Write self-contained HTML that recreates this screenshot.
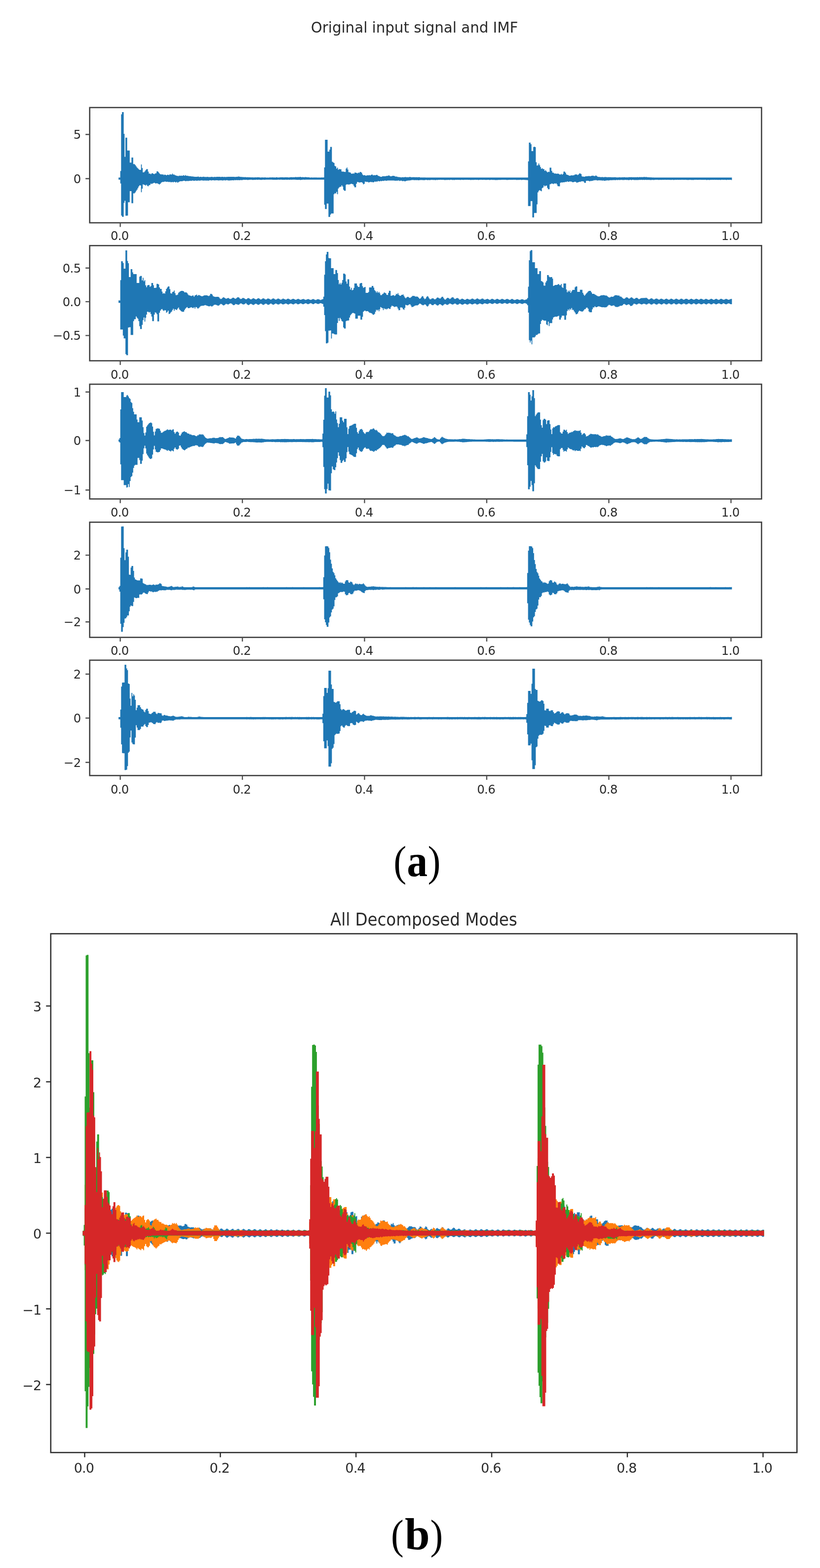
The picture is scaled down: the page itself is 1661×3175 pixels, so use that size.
<!DOCTYPE html>
<html lang="en"><head><meta charset="utf-8"><title>Original input signal and IMF</title>
<style>html,body{margin:0;padding:0;background:#fff}body{width:1661px;height:3175px;overflow:hidden}svg{display:block}</style>
</head><body>
<svg width="1661" height="3175" viewBox="0 0 1661 3175" role="img" aria-label="Original input signal and IMF; All Decomposed Modes">
<rect width="1661" height="3175" fill="#fff"/>
<g>
<g font-family="'DejaVu Sans','Liberation Sans',sans-serif" fill="#2a2a2a">
<text transform="translate(839.5,66) scale(1,1.05)" font-size="29.3" text-anchor="middle">Original input signal and IMF</text>
<clipPath id="c0"><rect x="181.7" y="217.8" width="1360.9" height="233.3"/></clipPath>
<path clip-path="url(#c0)" d="M240.1,359.4H243.6V346.2H245.3V231.6H247.1V226.9H250.6V271.1H252.3V317.4H254.1V278.8H257.6V304.8H262.8V329.2H266.3V318.9H269.8V332.2H273.3V334.2H275.1V336.7H276.8V339.2H278.6V341.1H280.3V342.8H282.1V344.1H283.8V344H285.6V333H287.3V340.3H289.1V348.9H290.8V348.8H292.6V347H294.3V344.5H296.1V342.6H299.6V347.6H301.3V351.5H304.8V352.8H306.6V351H308.3V350.8H310.1V351.9H311.8V352.5H313.6V351.2H315.3V350.8H317.1V347H320.6V349H322.3V351.2H324.1V352.9H325.8V352.8H327.6V353.4H329.3V353H331.1V354.4H332.8V353.5H334.6V354H336.3V355.1H338.1V353.7H339.8V354.1H341.6V354.4H343.3V353H345.1V353.3H346.8V353.6H348.6V351.6H350.3V353.6H352.1V353.4H353.8V354.8H355.6V355.2H357.3V355.9H359.1V356.2H360.8V356.6H362.6V355.6H364.3V355.9H366.1V355.6H367.8V355.9H369.6V355.4H371.3V354.8H373.1V355.9H374.8V354.5H376.6V356H378.3V355.7H380.1V356.2H381.8V356.4H383.6V356.8H387.1V357.2H390.6V357.4H392.3V357.7H394.1V357.9H395.8V358H397.6V357.9H399.3V357.8H401.1V357.6H402.8V358.4H404.6V357.9H406.3V358H408.1V358.4H409.8V358H411.6V357.7H413.3V358.2H416.8V358.5H418.6V357.9H420.3V358.2H422.1V358.5H425.6V358.4H427.3V358.1H429.1V358.3H430.8V358.5H432.6V358.4H434.3V358H436.1V358.4H437.8V358H439.6V357.9H441.3V358.1H443.1V357.9H444.8V358H446.6V358.5H448.3V358.1H450.1V358H451.8V358.4H453.6V357.9H455.3V358.4H457.1V358.2H458.8V358.3H460.6V358H464.1V357.9H467.6V358H469.3V358.1H471.1V357.9H474.6V358.3H478.1V357.9H481.6V357.4H485.1V358H486.8V358.3H488.6V358.2H490.3V358.6H492.1V358.5H493.8V358.7H495.6V358.5H497.3V358.8H499.1V359.1H500.8V358.8H502.6V359H504.3V358.9H506.1V359.1H507.8V359.3H509.6V358.9H511.3V359.3H513.1V359.2H516.6V359H518.3V359.2H520.1V359.1H521.8V359H525.3V359.2H527.1V359.4H528.8V359.3H532.3V359.2H534.1V359.4H535.8V359.1H537.6V359.4H546.3V359.1H548.1V359.4H549.8V359.1H551.6V359.2H553.3V359.3H555.1V359.2H556.8V359.4H558.6V359.1H560.3V359H562.1V359.4H563.8V359.3H565.6V359.2H567.3V359.1H569.1V359H570.8V359.1H572.6V358.9H574.3V359.2H576.1V358.9H579.6V359.1H581.3V359H583.1V359.2H586.6V359H588.3V358.8H590.1V358.7H591.8V359.1H593.6V358.8H595.3V359H597.1V358.6H598.8V358.5H600.6V358.8H602.3V358.6H604.1V358.4H607.6V357.9H609.3V358.7H611.1V358.8H612.8V358.5H614.6V358.9H616.3V358.7H618.1V358.6H619.8V358.8H621.6V359H625.1V359.1H626.8V359.4H630.3V359.2H632.1V359.4H635.6V359.2H637.3V359.4H639.1V359.3H640.8V359.4H651.3V359.3H653.1V359.4H654.8V359.3H656.6V338.9H658.3V283.1H663.6V307.1H667.1V303.1H668.8V297.5H672.3V327.4H674.1V328.7H675.8V329.9H677.6V335.9H679.3V336.9H681.1V341.4H682.8V339.5H684.6V343.7H686.3V342.2H688.1V342.8H689.8V342.7H691.6V347.3H693.3V347.6H695.1V347.4H696.8V347.9H698.6V348.2H700.3V341.6H702.1V339.2H703.8V343.2H705.6V348.5H707.3V349H709.1V349.6H710.8V351.6H712.6V351.9H714.3V351H716.1V351.8H717.8V349.5H719.6V349.6H721.3V350H723.1V350.9H724.8V349.5H726.6V350.2H728.3V348.3H730.1V348.2H731.8V349.7H733.6V353.3H735.3V355.1H737.1V354.6H738.8V354.9H740.6V355.9H742.3V355.1H744.1V355H745.8V354.9H747.6V354.5H749.3V355.2H751.1V354.1H752.8V353.3H754.6V354.8H756.3V354.9H758.1V354.6H759.8V354.9H761.6V354.1H763.3V354.2H765.1V356.1H766.8V356.4H768.6V357.2H770.3V357.9H773.8V357.1H775.6V356.8H777.3V356.9H779.1V356.7H782.6V355.9H784.3V356.2H786.1V355.3H787.8V355.5H789.6V356.7H791.3V356.9H793.1V356.5H794.8V356.1H798.3V356.4H800.1V357.6H801.8V357.4H803.6V357.7H805.3V358.5H807.1V358.4H808.8V358.7H810.6V359.1H812.3V359.3H814.1V358.8H815.8V358.9H819.3V358.6H822.8V358.9H824.6V358.7H826.3V358.9H828.1V358.6H829.8V358.2H831.6V358.7H833.3V358.9H835.1V358.7H836.8V358.8H840.3V359.1H842.1V358.8H843.8V359H845.6V358.9H847.3V358.8H850.8V359.4H852.6V359.3H854.3V359.4H856.1V359.2H857.8V359.4H859.6V359.2H861.3V359.4H1069.6V326.8H1071.3V288.7H1074.8V291.9H1076.6V306.1H1080.1V297.7H1081.8V297.1H1083.6V297.9H1085.3V328.4H1087.1V335.3H1088.8V334.4H1090.6V330.9H1092.3V334.4H1094.1V338.3H1095.8V341.9H1097.6V340.4H1099.3V342.2H1101.1V342.5H1102.8V346.1H1104.6V344.4H1106.3V346.9H1108.1V349.1H1109.8V347.7H1111.6V348.2H1113.3V339.6H1116.8V345.9H1118.6V349.6H1120.3V349.7H1122.1V351.6H1123.8V351H1125.6V352.1H1127.3V351.5H1129.1V351.7H1130.8V351.8H1132.6V353.3H1134.3V353.4H1136.1V352H1137.8V353.7H1139.6V352.2H1141.3V347.6H1144.8V349.7H1146.6V353.3H1148.3V353.9H1150.1V354.4H1151.8V355.6H1153.6V355.9H1155.3V355.3H1157.1V355H1158.8V355.3H1160.6V355H1162.3V354.5H1164.1V353.3H1165.8V353.2H1169.3V354.4H1171.1V353.2H1172.8V351.2H1176.3V352.4H1178.1V357.1H1179.8V357.7H1181.6V357.6H1183.3V358H1185.1V357.1H1188.6V356.7H1190.3V356.8H1192.1V356.2H1193.8V356.7H1195.6V356.8H1197.3V355.9H1199.1V355.8H1200.8V355.7H1202.6V356.6H1206.1V355.2H1207.8V356.2H1209.6V357.7H1211.3V358.2H1214.8V358.6H1216.6V358.8H1218.3V358.5H1220.1V358.4H1221.8V359H1223.6V358.4H1225.3V358.5H1227.1V358.6H1228.8V359.1H1230.6V358.7H1234.1V358.8H1235.8V358.7H1237.6V358.9H1239.3V359.1H1242.8V358.9H1244.6V358.8H1246.3V359.1H1248.1V359.3H1249.8V359.2H1253.3V359.1H1255.1V359H1256.8V359.2H1258.6V359H1260.3V359.1H1262.1V358.9H1263.8V358.8H1265.6V359H1267.3V359.2H1269.1V358.9H1270.8V359.2H1272.6V358.8H1274.3V358.7H1277.8V358.8H1279.6V358.7H1281.3V358.9H1283.1V358.7H1284.8V359H1286.6V358.8H1288.3V358.9H1290.1V358.5H1291.8V359H1293.6V358.8H1295.3V358.5H1297.1V358.8H1298.8V358.4H1300.6V358.8H1302.3V358.4H1304.1V358.2H1305.8V358.6H1307.6V358.5H1309.3V358.6H1311.1V358.9H1312.8V359H1314.6V358.9H1316.3V359.2H1318.1V359.1H1319.8V359.4H1321.6V359.2H1323.3V359.4H1482.6V364.4H1480.8V364H1477.3V364.2H1475.6V364H1472.1V364.4H1470.3V364H1468.6V363.9H1466.8V364.3H1465.1V364H1463.3V363.9H1461.6V364.1H1459.8V364.4H1458.1V364.1H1456.3V364.3H1454.6V364.2H1452.8V364H1451.1V364.3H1449.3V363.9H1445.8V364.2H1444.1V364.1H1442.3V364.3H1440.6V363.9H1438.8V364.4H1437.1V364.3H1435.3V364.2H1433.6V364.3H1431.8V364.4H1430.1V364H1428.3V364.1H1426.6V364.2H1424.8V363.9H1423.1V364.3H1421.3V363.9H1416.1V364.1H1414.3V364.3H1412.6V363.9H1409.1V364.1H1405.6V364.4H1403.8V364.3H1402.1V364.4H1400.3V364H1398.6V364.3H1396.8V364.1H1395.1V364.4H1393.3V364.3H1391.6V364.2H1389.8V364H1388.1V363.9H1386.3V364.2H1384.6V364H1382.8V364.1H1381.1V363.9H1379.3V364.2H1377.6V364H1375.8V364.3H1374.1V364.1H1372.3V364H1370.6V364.3H1368.8V363.9H1367.1V364.3H1365.3V364.4H1363.6V363.9H1361.8V364.1H1360.1V364.4H1358.3V364.1H1356.6V364.3H1354.8V363.9H1353.1V364.1H1351.3V364.3H1349.6V364.1H1347.8V363.9H1346.1V364.1H1344.3V364.3H1342.6V364.1H1340.8V364.3H1339.1V364.2H1337.3V364.1H1335.6V364.4H1333.8V364.1H1332.1V364H1330.3V364.1H1326.8V364.2H1325.1V364.4H1323.3V364.2H1321.6V364.3H1319.8V364.5H1316.3V364.3H1309.3V364.2H1307.6V364H1305.8V364.5H1304.1V364H1302.3V364.4H1300.6V364.1H1298.8V364.2H1297.1V364.3H1293.6V364.4H1291.8V364.5H1290.1V364.4H1288.3V364.5H1284.8V364.4H1283.1V364.1H1281.3V364.3H1279.6V364.7H1277.8V364.1H1276.1V364.5H1274.3V364.7H1272.6V364.5H1270.8V364.2H1269.1V364.4H1267.3V364.1H1265.6V364.6H1263.8V364.5H1262.1V364.6H1260.3V364.2H1258.6V364.3H1256.8V364.6H1253.3V364.2H1251.6V364.7H1249.8V364.2H1248.1V364.7H1246.3V364.8H1244.6V364.5H1242.8V364.8H1241.1V364.7H1239.3V365H1237.6V364.8H1235.8V364.9H1234.1V365.5H1232.3V365.3H1230.6V365.2H1228.8V365.5H1227.1V365.7H1225.3V366.2H1223.6V365.4H1221.8V365.6H1220.1V365.7H1218.3V365.1H1216.6V365.4H1214.8V365H1213.1V365.2H1211.3V365.4H1209.6V365.2H1207.8V364.6H1206.1V365.2H1204.3V364.8H1202.6V365.8H1200.8V366.1H1199.1V366.6H1197.3V366.3H1195.6V367.2H1193.8V366.6H1192.1V365.9H1188.6V366.3H1186.8V370.2H1183.3V367.8H1181.6V367H1179.8V367.2H1178.1V367.3H1176.3V368.4H1174.6V368H1172.8V368.9H1171.1V369.3H1169.3V370.2H1167.6V368.4H1165.8V368.1H1164.1V368.2H1162.3V369H1160.6V368.9H1158.8V367.7H1157.1V367.8H1155.3V367.3H1153.6V368.1H1151.8V368.2H1150.1V367.2H1148.3V368.5H1146.6V368.3H1144.8V368.8H1143.1V369.3H1141.3V369H1139.6V369.8H1137.8V369.2H1136.1V370.2H1134.3V377.2H1130.8V376.7H1129.1V373.2H1127.3V371.1H1125.6V371.9H1123.8V371.2H1122.1V372.8H1120.3V372H1118.6V371.5H1116.8V372.6H1115.1V373.2H1113.3V383.2H1109.8V380.4H1108.1V375.8H1106.3V375.9H1104.6V377.6H1102.8V375.6H1101.1V379.5H1099.3V381H1097.6V387.3H1095.8V386.2H1094.1V385.1H1092.3V386.5H1090.6V389.5H1088.8V413.8H1087.1V431.3H1081.8V440.3H1078.3V407.3H1074.8V417.3H1069.6V364.8H1067.8V364.6H1066.1V364.4H1064.3V364.3H1062.6V364.2H1060.8V364.1H1059.1V364.3H1057.3V364.4H1055.6V364H1052.1V364.4H1050.3V364H1048.6V364.4H1046.8V364.3H1045.1V363.9H1043.3V364.1H1041.6V363.9H1038.1V364.3H1036.3V364H1034.6V364.3H1032.8V364H1031.1V364.3H1027.6V364.4H1025.8V364.1H1022.3V364H1017.1V363.9H1015.3V364.2H1008.3V364.4H1001.3V363.9H999.6V364.4H997.8V364.1H996.1V363.9H994.3V364.3H992.6V364.4H990.8V364.1H989.1V363.9H987.3V364.3H985.6V364.2H982.1V363.9H980.3V364H978.6V364.3H976.8V364.1H975.1V363.9H973.3V364H971.6V364.3H969.8V364.4H968.1V364H966.3V364.2H964.6V364H962.8V363.9H961.1V364.2H955.8V364.3H954.1V364.4H952.3V363.9H950.6V364.3H948.8V364H945.3V363.9H941.8V364H940.1V364.3H936.6V364H933.1V364.4H931.3V363.9H929.6V364.3H927.8V364.1H926.1V364.3H924.3V364.1H922.6V364.2H920.8V364.4H919.1V364.2H917.3V364.4H915.6V363.9H912.1V364.2H910.3V364.4H908.6V364H906.8V364.4H905.1V364.3H903.3V364.5H901.6V364.6H899.8V364.3H898.1V364H896.3V364.3H894.6V364.1H891.1V364.3H889.3V364.1H887.6V364.5H885.8V364.3H884.1V364.6H882.3V364.7H880.6V364.3H878.8V364.5H877.1V364.2H871.8V364.8H870.1V364.6H868.3V364.5H866.6V364.8H864.8V364.2H863.1V364.3H861.3V364.8H859.6V364.7H857.8V364.8H856.1V364.4H854.3V364.5H852.6V364.4H850.8V364.7H849.1V365H845.6V364.4H843.8V365H842.1V364.5H840.3V365.1H838.6V364.6H833.3V364.9H831.6V365.2H829.8V365.4H828.1V365.5H826.3V365.8H824.6V366.1H822.8V366.7H821.1V367.2H819.3V366.4H815.8V366.7H814.1V365.7H812.3V365.8H810.6V366.4H808.8V365.6H805.3V366.1H803.6V365.8H801.8V365.9H800.1V365.7H798.3V365.6H796.6V365.5H794.8V365.4H793.1V365.5H791.3V365.6H789.6V365.5H787.8V365.6H784.3V366H782.6V365.9H780.8V365.6H779.1V365.9H777.3V366.4H775.6V366.1H773.8V367H772.1V366.2H770.3V367.3H768.6V366.9H766.8V366.6H765.1V367.8H763.3V367.6H761.6V368.1H759.8V367.4H758.1V368.9H756.3V369.3H754.6V368.4H752.8V368.7H751.1V368.2H749.3V369H747.6V369.6H745.8V368.2H744.1V368.6H742.3V368H740.6V367.8H738.8V372.3H737.1V373.2H735.3V370.6H733.6V369.1H731.8V368.9H730.1V369.4H728.3V369.6H726.6V368.8H724.8V368.5H723.1V372.1H721.3V379.2H717.8V376.5H716.1V373.3H714.3V372.8H712.6V371.9H710.8V372.8H709.1V373.6H707.3V373.4H705.6V373.8H703.8V372.9H702.1V374.2H700.3V386.3H696.8V384.3H695.1V377.8H693.3V375.3H691.6V378.1H689.8V378.2H688.1V379.5H686.3V381.8H684.6V393.3H682.8V388.6H681.1V391.7H679.3V391.2H677.6V393.3H675.8V432.3H670.6V434.6H668.8V439.3H665.3V412.3H661.8V423.3H658.3V414.4H656.6V363.8H618.1V364.1H616.3V363.8H612.8V363.9H611.1V364.3H609.3V364.4H607.6V363.9H604.1V364.3H602.3V364H600.6V364.1H598.8V363.8H591.8V364.1H590.1V363.8H588.3V364H584.8V363.8H583.1V364H579.6V363.8H577.8V363.9H570.8V363.8H567.3V364.1H565.6V363.8H562.1V363.9H560.3V364H558.6V363.9H553.3V364H551.6V363.8H537.6V364.1H534.1V363.8H532.3V363.9H530.6V364.2H527.1V364H525.3V363.8H523.6V363.9H521.8V364H520.1V363.8H518.3V364.2H516.6V364H514.8V364.3H511.3V364.2H509.6V363.8H507.8V363.9H504.3V364.2H502.6V364.4H500.8V364.1H497.3V364.3H495.6V364.1H492.1V364.5H490.3V364.8H488.6V364.4H486.8V364.7H485.1V365H483.3V364.5H481.6V365H479.8V364.6H478.1V365.1H476.3V364.6H474.6V365.3H472.8V364.9H471.1V365H469.3V365.2H467.6V365.3H465.8V365.5H464.1V365.4H462.3V365.3H460.6V364.8H458.8V364.9H457.1V365.4H455.3V364.8H453.6V365.2H451.8V365.5H450.1V365.3H448.3V364.9H446.6V365.2H443.1V365.5H441.3V364.9H439.6V365H437.8V364.9H436.1V365.5H434.3V364.9H432.6V365.1H430.8V364.9H429.1V365.4H427.3V365H423.8V365.7H422.1V365.8H420.3V365.4H418.6V365.7H416.8V365.6H413.3V365.8H411.6V365.6H409.8V365.3H406.3V365.7H402.8V365.5H401.1V365.8H399.3V366.3H397.6V365.4H395.8V365.7H394.1V366.2H392.3V365.8H390.6V365.6H388.8V366.3H387.1V366.1H385.3V366H383.6V366.4H381.8V366.6H380.1V366.5H378.3V366.4H376.6V366.9H374.8V365.9H371.3V366.5H369.6V367.1H367.8V366.9H366.1V367H364.3V367.8H362.6V368.8H360.8V369.9H359.1V368.3H357.3V369.5H355.6V368.8H353.8V368.1H352.1V369.2H350.3V368.6H348.6V368.8H346.8V369.3H345.1V368H343.3V369.1H341.6V368.1H339.8V367.9H338.1V368.2H336.3V367.7H334.6V367.4H332.8V368.6H331.1V368.3H329.3V368.8H327.6V369.8H325.8V372H324.1V373.4H322.3V372.8H320.6V371.8H318.8V371H317.1V371.5H315.3V371.2H313.6V370.1H311.8V370.8H310.1V371.5H308.3V372.4H306.6V371.8H304.8V374.4H303.1V375.1H301.3V377.3H299.6V376.5H297.8V374H296.1V375.8H294.3V374.4H292.6V374.2H290.8V373.2H289.1V382H287.3V389.3H285.6V375.4H283.8V375.2H282.1V377.6H280.3V380.8H278.6V383.9H276.8V386.6H275.1V389.4H273.3V391.6H269.8V411.6H266.3V387.1H262.8V409.4H259.3V436.4H257.6V436.8H254.1V406.4H252.3V410.7H250.6V439H247.1V436.4H245.3V371.5H243.6V363.8H240.1Z" fill="#1f77b4"/>
<rect x="181.7" y="217.8" width="1360.9" height="233.3" fill="none" stroke="#404040" stroke-width="2.60"/>
<text x="242.3" y="485.7" font-size="24.4" text-anchor="middle" letter-spacing="-0.65">0.0</text>
<text x="489.8" y="485.7" font-size="24.4" text-anchor="middle" letter-spacing="-0.65">0.2</text>
<text x="737.2" y="485.7" font-size="24.4" text-anchor="middle" letter-spacing="-0.65">0.4</text>
<text x="984.6" y="485.7" font-size="24.4" text-anchor="middle" letter-spacing="-0.65">0.6</text>
<text x="1232.1" y="485.7" font-size="24.4" text-anchor="middle" letter-spacing="-0.65">0.8</text>
<text x="1479.5" y="485.7" font-size="24.4" text-anchor="middle" letter-spacing="-0.65">1.0</text>
<text x="163.5" y="281.3" font-size="24.4" text-anchor="end" letter-spacing="-0.65">5</text>
<text x="163.5" y="370.8" font-size="24.4" text-anchor="end" letter-spacing="-0.65">0</text>
<path d="M243.6,451.1v8.5M491.0,451.1v8.5M738.4,451.1v8.5M985.9,451.1v8.5M1233.3,451.1v8.5M1480.7,451.1v8.5M181.7,272.3h-8.5M181.7,361.8h-8.5" stroke="#505050" stroke-width="2.40" fill="none"/>
<clipPath id="c1"><rect x="181.7" y="497.3" width="1360.9" height="233.2"/></clipPath>
<path clip-path="url(#c1)" d="M240.1,608.3H241.8V608.4H243.6V567.3H245.3V529.1H248.8V532.6H250.6V544.1H254.1V507H257.6V528.5H259.3V533.1H261.1V561.1H264.6V545.1H268.1V551.6H269.8V555.1H276.8V573.1H282.1V560.3H283.8V558.7H287.3V567.8H289.1V562.5H290.8V569.5H292.6V567.3H294.3V577.8H296.1V581.4H297.8V577.9H299.6V577.1H301.3V577.3H303.1V580.8H304.8V579.3H306.6V573.1H310.1V577.4H311.8V583.1H315.3V582.4H317.1V574.7H320.6V575.9H322.3V581.9H324.1V585.1H327.6V590.4H329.3V594.6H331.1V593.5H332.8V594.4H334.6V590H336.3V585.1H338.1V582.3H339.8V580.1H343.3V585.5H345.1V593.8H346.8V594.6H348.6V591.3H350.3V590.7H352.1V588.2H353.8V593.5H355.6V597.4H357.3V597.6H359.1V596.4H360.8V592.7H362.6V591.3H364.3V589.9H366.1V589.1H371.3V590.1H373.1V591.9H374.8V592.1H378.3V593.6H380.1V596.3H381.8V598.1H383.6V598.2H385.3V599H387.1V599.5H388.8V598.5H390.6V598.2H392.3V600.8H394.1V598.2H395.8V597.4H397.6V596.5H399.3V599H401.1V597.5H404.6V598.4H406.3V599.3H408.1V599.9H409.8V599.5H411.6V598.7H413.3V598H415.1V597.9H420.3V599.1H422.1V599.4H423.8V598.3H425.6V595.1H429.1V596.5H430.8V599.5H432.6V600.6H434.3V600.9H436.1V601.3H437.8V600.9H441.3V601.1H443.1V602.2H444.8V604.5H446.6V605.4H448.3V604.7H450.1V603H451.8V601.7H453.6V602.7H455.3V603.8H457.1V604.9H458.8V604.3H460.6V603.5H462.3V603.4H464.1V605H465.8V605.6H467.6V605H469.3V603.5H471.1V602.7H472.8V603.1H474.6V604.6H476.3V604.9H478.1V603.7H479.8V602.2H481.6V601.8H483.3V602.4H485.1V604.4H486.8V605.5H488.6V605.1H490.3V603.6H492.1V603.3H493.8V604H495.6V605.3H497.3V606.1H499.1V605.5H500.8V604.1H502.6V603.5H504.3V604.5H506.1V605.8H507.8V606.3H509.6V605.3H511.3V604.2H513.1V603.8H514.8V605.1H516.6V606.1H518.3V606.2H520.1V605H521.8V604H525.3V605.3H527.1V606.4H528.8V605.9H530.6V604.8H532.3V604H534.1V604.6H535.8V605.7H537.6V606.6H539.3V605.8H541.1V604.5H542.8V604.4H544.6V605H546.3V606.2H548.1V606.7H549.8V605.6H551.6V604.5H553.3V604.3H555.1V605.3H556.8V606.6H558.6V606.5H560.3V605.6H562.1V604.6H563.8V604.8H565.6V605.8H567.3V606.8H569.1V606.4H570.8V605.4H572.6V604.6H574.3V605.2H576.1V606.1H577.8V606.8H579.6V606.3H581.3V605.1H583.1V604.7H584.8V605.6H586.6V606.6H588.3V606.9H590.1V606.1H591.8V605.2H593.6V604.9H595.3V605.7H597.1V606.8H598.8V606.9H600.6V605.9H602.3V605.3H605.8V606.3H607.6V607.1H609.3V606.8H611.1V605.9H612.8V605.4H614.6V605.6H616.3V606.6H618.1V607.2H619.8V606.7H621.6V605.9H623.3V605.4H625.1V606H626.8V606.9H628.6V607.3H630.3V606.7H632.1V605.7H633.8V605.4H635.6V606.3H637.3V607.3H639.1V607.4H640.8V606.6H642.6V605.8H644.3V605.9H646.1V606.5H647.8V607.5H649.6V607.2H651.3V606.3H653.1V605.8H654.8V600.7H656.6V556.2H658.3V529.1H660.1V515.3H661.8V510H665.3V522.6H667.1V523H670.6V543.1H675.8V555.1H679.3V546.7H682.8V553.1H684.6V567.1H686.3V575.5H688.1V572.8H689.8V575.9H691.6V572.7H693.3V567.1H695.1V554.1H698.6V555.7H700.3V570H702.1V574.5H703.8V565.5H705.6V565.4H707.3V580.3H709.1V586.6H710.8V582.7H712.6V587.8H714.3V586.7H716.1V583H717.8V574.1H723.1V578.5H724.8V581.1H728.3V574.2H730.1V573.1H733.6V579.5H735.3V582.7H737.1V581.7H738.8V581.1H740.6V593.1H745.8V591.3H747.6V582.1H752.8V579.1H756.3V582.4H758.1V587.4H759.8V589.5H761.6V592.5H763.3V590.1H765.1V593H766.8V590.9H768.6V593.8H770.3V597.5H772.1V597.4H773.8V595.5H775.6V594.6H777.3V592.2H779.1V592.7H780.8V593.9H782.6V597H784.3V597.3H786.1V593.1H787.8V588.7H789.6V589H791.3V599H793.1V598.4H794.8V597.7H796.6V597.6H798.3V599.2H800.1V598H801.8V594.9H803.6V596H805.3V593.5H807.1V597H808.8V598.8H810.6V599H812.3V597.3H814.1V596.9H815.8V596.3H817.6V599.3H819.3V602.2H821.1V603.9H822.8V602.3H824.6V601H826.3V601.3H828.1V602.8H829.8V603.3H831.6V601.9H833.3V600.4H835.1V599H836.8V599.3H838.6V599.2H840.3V600.4H842.1V600.5H845.6V600.9H847.3V603H849.1V605H850.8V604.2H852.6V602H854.3V599.6H856.1V600.2H857.8V603.4H859.6V605.8H861.3V604.6H863.1V601.6H864.8V599.5H866.6V600.7H868.3V603.7H870.1V606H873.6V604.5H875.3V604H877.1V604.3H878.8V605.8H880.6V606.2H882.3V604.9H884.1V603H885.8V602.3H887.6V603.3H889.3V604.2H891.1V604.4H892.8V602.4H894.6V600.8H896.3V601.3H898.1V603.9H899.8V606.2H901.6V606.7H903.3V604.8H905.1V603.3H906.8V603H908.6V604.3H910.3V605.4H912.1V604.5H913.8V602.7H915.6V601.8H917.3V602.3H919.1V604.4H920.8V605.4H922.6V604.7H924.3V603.6H927.8V604.6H929.6V606.4H931.3V606.7H933.1V605.7H934.8V604.8H936.6V604.9H938.3V606H940.1V607.1H941.8V606.9H943.6V605.8H945.3V605.1H947.1V605.3H948.8V606.2H950.6V606.8H952.3V606.3H954.1V605.3H955.8V604.5H957.6V605.1H959.3V606.2H961.1V606.8H962.8V606.1H964.6V604.8H966.3V604.3H968.1V605.3H969.8V606.2H971.6V606.6H973.3V605.7H975.1V604.8H976.8V604.5H978.6V605.6H980.3V606.7H982.1V606.8H983.8V605.9H985.6V605.2H987.3V605.3H989.1V606.3H990.8V607.2H992.6V606.7H994.3V605.6H996.1V605H997.8V605.4H999.6V606.5H1001.3V607.3H1003.1V606.5H1004.8V605.4H1006.6V605.1H1008.3V605.7H1010.1V606.7H1011.8V607H1013.6V606.3H1015.3V605.3H1018.8V605.9H1020.6V607H1022.3V607.1H1024.1V606H1025.8V605.3H1027.6V605.5H1029.3V606.3H1031.1V607.2H1032.8V606.9H1034.6V605.7H1036.3V605.2H1038.1V605.8H1039.8V606.9H1041.6V607.6H1043.3V607H1045.1V606.2H1046.8V605.8H1048.6V606.3H1050.3V607.1H1052.1V607.5H1053.8V606.8H1055.6V606H1059.1V606.5H1060.8V607.4H1062.6V607.3H1064.3V606.6H1066.1V606H1067.8V603.4H1069.6V580.5H1071.3V527H1073.1V508.5H1074.8V506.6H1078.3V531.1H1083.6V543.1H1088.8V555.1H1092.3V549.1H1095.8V569.1H1097.6V570H1099.3V571.8H1101.1V578.2H1102.8V578.5H1104.6V572.1H1106.3V568.7H1108.1V557.1H1111.6V560.3H1113.3V561.5H1115.1V561.1H1118.6V564.2H1120.3V579.1H1122.1V577.9H1123.8V577.1H1129.1V575.9H1130.8V575.1H1132.6V577.3H1134.3V577.6H1136.1V575.1H1137.8V581.4H1139.6V583.1H1141.3V574.1H1146.6V586.2H1148.3V591.7H1150.1V588.4H1151.8V590.7H1153.6V588.1H1155.3V593H1157.1V590.1H1158.8V587.2H1160.6V587.1H1164.1V581.7H1165.8V580.1H1169.3V591.1H1174.6V586.7H1179.8V593H1181.6V596.4H1183.3V598.8H1185.1V596.4H1186.8V594.2H1188.6V592.6H1190.3V590.4H1192.1V589.1H1197.3V592.1H1199.1V595.1H1204.3V596.6H1206.1V597.2H1207.8V598.4H1209.6V599.6H1211.3V600H1213.1V600.1H1214.8V599H1216.6V597.9H1218.3V598H1220.1V597.7H1221.8V597.6H1223.6V597.8H1225.3V598.5H1227.1V598.3H1228.8V599.2H1230.6V600.7H1232.3V602.1H1234.1V602.4H1235.8V601.6H1237.6V600.4H1239.3V600.9H1241.1V600.7H1242.8V599.6H1244.6V598.1H1246.3V597.7H1248.1V597.8H1249.8V598.3H1251.6V598.4H1253.3V598.5H1255.1V600.4H1256.8V600.5H1258.6V601.7H1260.3V603.5H1262.1V604.7H1263.8V605.1H1265.6V603.7H1267.3V602.2H1269.1V602H1270.8V602.7H1272.6V604.6H1274.3V604.5H1276.1V603.3H1277.8V602.1H1279.6V602.5H1281.3V604H1283.1V605.2H1284.8V605H1286.6V603.6H1288.3V603H1290.1V603.3H1291.8V604.8H1293.6V606.1H1295.3V605.1H1297.1V603.9H1298.8V603.4H1302.3V603.5H1304.1V603.3H1305.8V603.4H1307.6V602.7H1309.3V603.5H1311.1V604.8H1312.8V606.2H1316.3V605H1318.1V603.9H1319.8V604.3H1321.6V605.5H1323.3V606.5H1325.1V606.2H1326.8V604.9H1328.6V604.5H1330.3V604.7H1332.1V606H1333.8V606.8H1335.6V606.3H1337.3V605H1339.1V604.8H1340.8V605.4H1342.6V606.3H1344.3V606.9H1346.1V606.1H1347.8V605H1349.6V604.7H1351.3V605.8H1353.1V606.7H1354.8V606.8H1356.6V605.7H1358.3V604.7H1360.1V604.9H1361.8V605.9H1363.6V606.9H1365.3V606.5H1367.1V605.6H1368.8V604.7H1370.6V605.3H1372.3V606.2H1374.1V607H1375.8V606.4H1377.6V605.3H1379.3V604.7H1381.1V605.3H1382.8V606.4H1384.6V607H1386.3V606.1H1388.1V605.1H1389.8V605H1391.6V605.5H1393.3V606.8H1395.1V607H1396.8V605.9H1398.6V605.1H1400.3V604.9H1402.1V606H1403.8V606.8H1405.6V606.7H1407.3V605.8H1409.1V605H1410.8V605.2H1412.6V606.1H1414.3V607H1416.1V606.6H1417.8V605.3H1419.6V605H1421.3V605.6H1423.1V606.4H1424.8V607H1426.6V606.3H1428.3V605.2H1431.8V605.9H1433.6V606.9H1437.1V606.2H1438.8V605.2H1440.6V605.1H1442.3V606.1H1444.1V607H1445.8V606.9H1447.6V605.7H1449.3V605.2H1452.8V606.4H1454.6V607.2H1456.3V606.8H1458.1V605.5H1459.8V605.1H1461.6V605.5H1463.3V606.6H1465.1V607H1466.8V606.5H1468.6V605.5H1470.3V605.2H1472.1V605.7H1473.8V606.7H1475.6V607H1477.3V606.3H1479.1V605.4H1480.8V605.3H1482.6V616H1480.8V616.1H1479.1V615H1477.3V614.3H1475.6V614.4H1473.8V615.5H1472.1V616.2H1470.3V616.1H1468.6V614.9H1466.8V614.1H1465.1V614.6H1463.3V615.9H1461.6V616.1H1459.8V615.6H1458.1V614.6H1456.3V614.3H1454.6V614.9H1452.8V615.9H1451.1V616.3H1449.3V615.5H1447.6V614.4H1445.8V614.2H1444.1V615.4H1442.3V616.2H1438.8V615.1H1437.1V614.2H1435.3V614.4H1433.6V615.6H1431.8V616.5H1430.1V616H1428.3V615H1426.6V614.3H1424.8V614.9H1423.1V615.9H1421.3V616.3H1419.6V615.7H1417.8V614.8H1416.1V614.3H1414.3V614.9H1412.6V616H1410.8V616.6H1409.1V615.8H1407.3V614.6H1405.6V614.3H1403.8V615.5H1402.1V616.2H1400.3V616.3H1398.6V615.3H1396.8V614.3H1395.1V614.5H1393.3V615.8H1391.6V616.3H1389.8V616.4H1388.1V615H1386.3V614.4H1384.6V614.8H1382.8V616.1H1381.1V616.6H1379.3V615.9H1377.6V615H1375.8V614.4H1374.1V615.2H1372.3V616.2H1370.6V616.6H1368.8V615.9H1367.1V614.6H1365.3V614.3H1363.6V615.4H1361.8V616.3H1360.1V616.4H1358.3V615.6H1356.6V614.4H1354.8V614.6H1353.1V615.8H1351.3V616.5H1349.6V616.3H1347.8V615.3H1346.1V614.3H1344.3V614.8H1342.6V616H1340.8V616.8H1339.1V616.1H1337.3V615H1335.6V614.5H1333.8V615.2H1332.1V616.4H1330.3V616.8H1328.6V615.9H1326.8V614.8H1325.1V614.4H1323.3V615.4H1321.6V616.6H1319.8V616.7H1318.1V615.7H1316.3V614.6H1314.6V614.5H1312.8V615.6H1311.1V616.6H1309.3V616.4H1307.6V615.4H1305.8V614.9H1304.1V615H1302.3V616H1300.6V616.5H1298.8V616.1H1297.1V615.1H1295.3V614.4H1293.6V615.1H1291.8V616.2H1290.1V616.7H1288.3V616.1H1286.6V615.1H1284.8V615H1283.1V616.9H1281.3V619H1279.6V619.5H1277.8V619.4H1276.1V617.3H1274.3V615.9H1272.6V616.8H1270.8V617.7H1267.3V616.6H1265.6V615.6H1263.8V616.1H1262.1V618H1260.3V619.1H1258.6V619.3H1255.1V620.6H1253.3V620.9H1251.6V621.7H1249.8V621.6H1248.1V621.5H1246.3V620.2H1244.6V618.5H1242.8V618.4H1241.1V619.3H1239.3V619.5H1237.6V618.5H1235.8V617.6H1234.1V617.5H1232.3V619.1H1230.6V620.9H1228.8V622.2H1225.3V622.6H1223.6V622.1H1221.8V622.2H1220.1V622.1H1218.3V621.7H1216.6V621H1214.8V620.5H1213.1V620.2H1211.3V621.1H1209.6V621.9H1207.8V622.1H1206.1V620.2H1204.3V622.6H1202.6V622.4H1200.8V626.2H1199.1V632.2H1193.8V630.6H1192.1V624.9H1190.3V622.7H1188.6V623.3H1186.8V625.8H1185.1V626.2H1183.3V628.4H1181.6V630.6H1179.8V631.1H1178.1V630.4H1176.3V629.9H1174.6V629H1172.8V631.2H1171.1V634.7H1169.3V636.2H1165.8V633.1H1164.1V630.6H1162.3V627.4H1160.6V627.6H1158.8V623.8H1157.1V627.2H1155.3V625.3H1153.6V628.8H1151.8V626.6H1150.1V629.8H1148.3V638.4H1146.6V647.6H1143.1V639.2H1137.8V643.1H1136.1V647.2H1132.6V639.4H1130.8V640.3H1129.1V641.2H1123.8V641.8H1122.1V642.7H1120.3V646.8H1118.6V654.2H1113.3V660.2H1111.6V651.3H1109.8V658.6H1108.1V656.9H1106.3V649.2H1101.1V648.3H1099.3V647.4H1097.6V650H1095.8V655.9H1094.1V675.3H1090.6V676.4H1088.8V678.3H1085.3V681.3H1083.6V683.3H1078.3V697.3H1076.6V689.8H1074.8V693.6H1073.1V688.8H1071.3V633.1H1069.6V618.1H1067.8V615.5H1066.1V614.6H1064.3V613.8H1062.6V613.9H1060.8V614.7H1059.1V615.5H1057.3V615.3H1055.6V614.4H1053.8V613.8H1052.1V614.1H1050.3V615H1048.6V615.7H1046.8V615.2H1045.1V614.2H1043.3V613.7H1041.6V614.4H1039.8V615.1H1038.1V615.3H1036.3V614.7H1034.6V613.8H1032.8V613.5H1031.1V614.3H1029.3V615.2H1025.8V614.5H1024.1V613.6H1022.3V613.7H1020.6V614.5H1018.8V615.2H1017.1V615.1H1015.3V614.4H1013.6V613.6H1011.8V614H1010.1V614.8H1008.3V615.5H1006.6V615.2H1004.8V614.2H1003.1V613.6H1001.3V614.3H999.6V615.2H997.8V615.6H996.1V615H994.3V614H992.6V613.7H990.8V614.5H989.1V615.4H987.3V615.6H985.6V615H983.8V614.2H982.1V614.3H980.3V615.3H978.6V616.2H976.8V616.1H975.1V615.2H973.3V614.4H971.6V614.8H969.8V616H968.1V616.5H966.3V616.4H964.6V615.1H962.8V614.4H961.1V615.1H959.3V616.1H957.6V616.6H955.8V616.1H954.1V615H952.3V614.4H950.6V615.4H948.8V616.4H947.1V616.7H945.3V616.1H943.6V614.9H940.1V615.9H938.3V617H936.6V616.8H934.8V616.1H933.1V614.8H931.3V615.1H929.6V616.5H927.8V617.1H926.1V616.7H924.3V615.6H922.6V614.6H920.8V615.2H919.1V616.3H917.3V616.7H915.6V616.1H913.8V615H912.1V614.5H910.3V615.4H908.6V616.8H906.8V617.5H905.1V616.7H903.3V615.6H901.6V615.7H899.8V617.1H898.1V618.7H896.3V618.5H894.6V617.3H892.8V616.1H889.3V617.8H887.6V618.7H885.8V618.2H884.1V616.7H882.3V615.6H880.6V616.1H878.8V617.7H877.1V617.9H875.3V617.4H873.6V615.8H871.8V615H870.1V616.5H868.3V619.4H866.6V620.7H864.8V619.2H863.1V617H861.3V616.2H859.6V617.4H857.8V618.2H856.1V617.5H854.3V616.6H852.6V615.1H850.8V614.8H849.1V616.6H847.3V618H845.6V618.4H843.8V618.3H842.1V618.7H840.3V619.4H838.6V620.8H836.8V621.5H835.1V621.7H833.3V618.7H831.6V616.2H829.8V616.3H828.1V617.7H826.3V618.6H824.6V618H822.8V617.2H821.1V623.6H819.3V627.6H817.6V626H815.8V623.2H814.1V622.6H812.3V622.5H810.6V628H808.8V628.2H807.1V624.8H805.3V621.5H803.6V620.6H801.8V621.1H800.1V621.8H798.3V620.6H796.6V619.8H794.8V619H793.1V621.6H791.3V625.4H789.6V625.5H787.8V624H786.1V625.1H784.3V626.7H782.6V625.2H780.8V626.2H779.1V624.3H777.3V628.1H775.6V624.1H773.8V623H772.1V621.7H770.3V626.2H768.6V630.3H766.8V627H765.1V628.7H763.3V627.2H761.6V631.2H759.8V635.5H758.1V637.2H754.6V635.2H752.8V633.9H751.1V633.6H749.3V633.2H747.6V631.5H745.8V630H742.3V630.6H740.6V629H738.8V629.5H737.1V631.2H735.3V641.4H733.6V647.2H730.1V639.2H724.8V645.2H719.6V635H717.8V634.3H716.1V633.6H714.3V634.2H712.6V636.3H710.8V638.4H709.1V642.9H707.3V648.7H705.6V649.2H702.1V650.2H700.3V665.3H696.8V662.9H695.1V651.2H693.3V649.9H691.6V646.6H689.8V643.8H688.1V649.8H686.3V644.1H684.6V653.9H682.8V677.3H677.6V676.2H675.8V675.3H672.3V685.6H670.6V669.1H668.8V669.5H667.1V669.4H665.3V693.8H663.6V695.3H660.1V670.6H658.3V637.9H656.6V620.9H654.8V615.5H653.1V614.9H651.3V614.1H649.6V614H647.8V614.7H646.1V615.6H642.6V614.7H640.8V613.9H639.1V614.1H637.3V615.2H635.6V615.9H633.8V615.6H632.1V614.6H630.3V613.8H628.6V614.5H626.8V615.3H625.1V615.9H623.3V615.6H621.6V614.6H619.8V614.1H618.1V614.7H616.3V615.7H614.6V616.1H612.8V615.5H611.1V614.5H609.3V614.2H607.6V615.2H605.8V616.1H604.1V616.2H602.3V615.3H600.6V614.3H598.8V614.4H597.1V615.6H595.3V616.4H593.6V616.1H591.8V615.2H590.1V614.4H588.3V614.9H586.6V615.8H584.8V616.7H583.1V616.1H581.3V615.1H579.6V614.4H577.8V615.2H576.1V616.1H574.3V616.6H572.6V616.1H570.8V614.7H569.1V614.6H567.3V615.6H565.6V616.5H563.8V616.6H562.1V615.7H560.3V614.8H556.8V616.1H555.1V617H553.3V616.8H551.6V615.7H549.8V614.6H548.1V615.2H546.3V616.5H544.6V617.2H542.8V616.7H541.1V615.5H539.3V614.7H537.6V615.4H535.8V616.8H534.1V617.4H532.3V616.6H530.6V615.3H528.8V614.8H527.1V615.8H525.3V617H523.6V617.3H521.8V616.3H520.1V615.2H518.3V615.1H516.6V616.3H514.8V617.4H513.1V617.3H511.3V616.3H509.6V615.2H507.8V615.5H506.1V616.8H504.3V617.9H502.6V617.1H500.8V615.7H499.1V613.8H497.3V614.9H495.6V616.3H493.8V616.5H492.1V615.9H490.3V614.8H488.6V614.3H486.8V615.2H485.1V616.8H483.3V617.2H481.6V616.6H479.8V616H478.1V615.6H476.3V617.2H474.6V618.1H472.8V617.5H471.1V615.7H469.3V614.5H467.6V614.3H465.8V615.1H464.1V616.2H462.3V616.6H460.6V615.7H458.8V615.2H457.1V616.6H455.3V617.9H453.6V618.4H451.8V617.4H450.1V615.9H448.3V615.2H446.6V616.6H444.8V618.2H443.1V618.9H441.3V618.4H439.6V617.7H437.8V617H436.1V617.1H434.3V617.6H432.6V618.9H430.8V620.5H429.1V620.6H427.3V619.3H425.6V620.3H423.8V620.2H422.1V619.7H420.3V618.9H418.6V618.5H416.8V617.8H415.1V618.2H413.3V618.9H411.6V619.1H409.8V619.3H408.1V619.5H406.3V620.7H404.6V622.7H402.8V624.5H401.1V624.4H399.3V622.3H397.6V621.8H395.8V625.1H394.1V622H392.3V624H390.6V623.3H388.8V622.3H387.1V622.4H385.3V623.4H383.6V624H381.8V624.1H380.1V621.8H378.3V623.1H376.6V625.1H374.8V627.7H373.1V631.2H367.8V630H366.1V628.2H364.3V626.5H362.6V622.7H360.8V625.1H359.1V627.7H357.3V627H355.6V626H353.8V629.2H352.1V625.2H350.3V627.9H348.6V631H346.8V632.7H345.1V634.9H343.3V635.9H341.6V629H339.8V631.7H338.1V633.2H336.3V628.5H334.6V628.1H332.8V629.7H331.1V628.2H329.3V625.7H327.6V626.5H325.8V629H324.1V633.2H322.3V650.8H318.8V636.2H317.1V633.5H315.3V632.6H313.6V637.1H311.8V650.2H308.3V641.1H306.6V635.8H304.8V631.8H303.1V632.7H301.3V631.4H299.6V631.3H297.8V637.1H296.1V643.4H294.3V651.3H292.6V642.8H290.8V648.2H289.1V657.7H287.3V666.3H283.8V660.4H282.1V650.2H280.3V645.4H278.6V643.5H276.8V640.7H275.1V646.2H273.3V646.6H271.6V650.2H269.8V678.3H264.6V662.5H262.8V662.8H261.1V663.2H259.3V719.3H255.8V716.9H254.1V685.3H250.6V679.6H248.8V667.3H243.6V613.2H241.8V613.3H240.1Z" fill="#1f77b4"/>
<rect x="181.7" y="497.3" width="1360.9" height="233.2" fill="none" stroke="#404040" stroke-width="2.60"/>
<text x="242.3" y="766.9" font-size="24.4" text-anchor="middle" letter-spacing="-0.65">0.0</text>
<text x="489.8" y="766.9" font-size="24.4" text-anchor="middle" letter-spacing="-0.65">0.2</text>
<text x="737.2" y="766.9" font-size="24.4" text-anchor="middle" letter-spacing="-0.65">0.4</text>
<text x="984.6" y="766.9" font-size="24.4" text-anchor="middle" letter-spacing="-0.65">0.6</text>
<text x="1232.1" y="766.9" font-size="24.4" text-anchor="middle" letter-spacing="-0.65">0.8</text>
<text x="1479.5" y="766.9" font-size="24.4" text-anchor="middle" letter-spacing="-0.65">1.0</text>
<text x="163.5" y="551.8" font-size="24.4" text-anchor="end" letter-spacing="-0.65">0.5</text>
<text x="163.5" y="619.9" font-size="24.4" text-anchor="end" letter-spacing="-0.65">0.0</text>
<text x="163.5" y="688.4" font-size="24.4" text-anchor="end" letter-spacing="-0.65">−0.5</text>
<path d="M243.6,730.5v8.5M491.0,730.5v8.5M738.4,730.5v8.5M985.9,730.5v8.5M1233.3,730.5v8.5M1480.7,730.5v8.5M181.7,542.8h-8.5M181.7,610.9h-8.5M181.7,679.4h-8.5" stroke="#505050" stroke-width="2.40" fill="none"/>
<clipPath id="c2"><rect x="181.7" y="778.0" width="1360.9" height="232.3"/></clipPath>
<path clip-path="url(#c2)" d="M240.1,889.9H241.8V887H243.6V828.9H245.3V794H250.6V804H255.8V800.7H257.6V799.7H259.3V802.8H261.1V806H262.8V807.7H264.6V814H266.3V816H268.1V826.5H269.8V833.7H271.6V839.1H276.8V849.4H278.6V855.1H282.1V845.1H287.3V851.5H289.1V865H290.8V876.7H292.6V881.9H294.3V875.7H296.1V864H297.8V861.2H299.6V859.1H301.3V857H303.1V855.9H304.8V855.5H306.6V856.7H308.3V863.7H310.1V874.2H311.8V881.5H313.6V873.8H315.3V868.6H317.1V867.7H318.8V867.3H320.6V867.7H322.3V868.3H324.1V872.3H325.8V876.2H329.3V874.8H331.1V873.6H332.8V872.6H334.6V872.1H336.3V870.8H338.1V869.3H339.8V870.6H343.3V870.1H345.1V870H346.8V871.5H348.6V869.7H350.3V869.3H352.1V875.1H353.8V878.3H355.6V875.4H357.3V874.1H360.8V875.9H362.6V881.7H364.3V882.3H366.1V879.2H367.8V876H369.6V874.6H371.3V873.9H373.1V873.2H374.8V875.1H376.6V875H378.3V877H380.1V877.9H383.6V879.8H385.3V879.6H387.1V880.4H388.8V881.2H390.6V881.3H392.3V881.1H394.1V882H395.8V882.9H397.6V883.3H399.3V881.6H401.1V881.2H402.8V879.2H404.6V880H406.3V879.2H408.1V880.3H409.8V879.2H411.6V881H413.3V883.6H415.1V885.7H416.8V887H418.6V888.1H420.3V888.2H422.1V887.8H423.8V887.5H425.6V887.3H427.3V887.5H429.1V886.8H430.8V886.5H432.6V886.2H434.3V886.7H436.1V887.2H437.8V887.1H439.6V886.9H441.3V886.4H443.1V885.7H444.8V884.8H446.6V885.5H448.3V885.1H451.8V886.3H453.6V887.7H455.3V889.1H457.1V888.5H458.8V888.1H460.6V887H462.3V886.5H464.1V885.3H465.8V885.8H467.6V886H469.3V885.8H471.1V886.2H472.8V886.3H474.6V887.2H476.3V888.1H478.1V885H479.8V882.2H485.1V884.1H486.8V886.2H488.6V888.2H490.3V888.7H492.1V889.1H493.8V889.4H497.3V889H499.1V889.1H500.8V889.3H502.6V889.2H504.3V889.1H506.1V888.9H507.8V889H509.6V888.9H511.3V888.7H513.1V888.6H514.8V888.8H516.6V888.4H518.3V888.2H520.1V888.4H523.6V888.2H525.3V888.4H527.1V888.5H528.8V888.2H530.6V888.6H532.3V888.7H534.1V888.9H535.8V889.2H537.6V889.5H539.3V889.6H544.6V889.7H548.1V889.6H549.8V889.5H551.6V889.3H553.3V889.5H556.8V889.4H558.6V889.2H560.3V889.3H562.1V889.1H563.8V889.3H565.6V889.2H567.3V889.3H569.1V889H570.8V889.1H574.3V888.9H576.1V888.8H577.8V889.1H579.6V889H583.1V889.1H584.8V889.2H586.6V889.3H588.3V889.2H590.1V889.3H593.6V889.1H597.1V889.4H598.8V889.2H602.3V889.3H605.8V889.2H607.6V889.1H611.1V889.2H612.8V889H614.6V889.2H619.8V889H630.3V888.9H632.1V888.8H633.8V889.1H635.6V889.2H637.3V889H639.1V889.3H640.8V889.2H642.6V889.4H644.3V889.3H646.1V889.6H647.8V889.4H649.6V889.7H651.3V889.6H653.1V877.9H654.8V849.9H656.6V801.3H658.3V786H661.8V805H665.3V793H668.8V800.4H670.6V828.7H672.3V834H674.1V833.1H675.8V834.2H677.6V837.8H679.3V833.1H681.1V849.5H682.8V856.8H684.6V865.1H686.3V857.9H688.1V845.1H693.3V851.7H695.1V855.1H696.8V848.1H702.1V865.2H703.8V879.1H705.6V868.3H707.3V862.8H709.1V862.1H710.8V861.4H712.6V860.4H714.3V859.4H716.1V858.3H717.8V858.1H721.3V866.3H723.1V874.9H724.8V878H726.6V872.8H728.3V869.8H730.1V869.1H731.8V868.4H733.6V870.7H735.3V874.8H737.1V877.3H738.8V878.6H740.6V875.6H742.3V874.4H744.1V874.8H745.8V874.6H747.6V872H749.3V869.4H751.1V869.2H752.8V869.3H754.6V867.8H756.3V867.6H758.1V869.7H759.8V871.2H761.6V870.2H763.3V872.3H765.1V874.7H766.8V875.5H768.6V876.8H770.3V878.6H772.1V880.7H773.8V882.8H775.6V883.2H777.3V882.9H779.1V881.2H780.8V878.9H782.6V875.9H784.3V876.5H786.1V875.9H787.8V876.6H789.6V876.5H791.3V877.4H793.1V877.6H794.8V877.1H796.6V879.9H798.3V881.4H800.1V882.2H801.8V883.8H803.6V884.3H805.3V884.4H807.1V884.3H808.8V883.2H810.6V882.8H812.3V883.1H814.1V881.9H815.8V881.5H817.6V881.1H819.3V880.2H821.1V881.2H822.8V881.9H824.6V883.4H826.3V883.3H828.1V885H829.8V886.5H831.6V887.9H833.3V889.1H835.1V888.5H836.8V888.1H838.6V887.1H840.3V886.7H842.1V885.9H843.8V885.5H845.6V886.5H847.3V887.6H849.1V888.1H850.8V887.5H852.6V887.3H854.3V886.4H856.1V885.7H857.8V884.9H859.6V886.1H861.3V886.5H863.1V886.7H864.8V887H866.6V887.7H868.3V888.2H870.1V888.6H871.8V888.9H875.3V887.9H877.1V886.9H878.8V885.1H880.6V885.9H882.3V887.4H884.1V889H885.8V889.5H887.6V889.8H889.3V889.9H891.1V888H892.8V885.9H894.6V884.3H896.3V885.4H898.1V886.4H899.8V887.3H901.6V888.2H903.3V888.6H905.1V889.1H906.8V889.3H908.6V889.4H910.3V889.3H912.1V889.4H913.8V889.6H915.6V889.5H917.3V889.7H919.1V889.6H920.8V889.5H922.6V889.6H924.3V889.7H926.1V889.5H929.6V889.1H931.3V889.2H933.1V888.9H934.8V888.7H936.6V888.3H938.3V888.4H940.1V888.6H941.8V888.8H943.6V889H947.1V889.2H948.8V889.1H950.6V889.3H952.3V889.5H954.1V889.6H955.8V889.5H957.6V889.8H959.3V889.7H961.1V889.8H962.8V889.9H980.3V889.8H982.1V889.7H983.8V889.6H987.3V889.3H989.1V889.2H990.8V889.3H992.6V889.2H994.3V889.4H996.1V889.3H997.8V889.4H1004.8V889.3H1006.6V889.2H1008.3V889.3H1010.1V889.2H1011.8V889.5H1015.3V889.6H1018.8V889.7H1022.3V889.9H1025.8V889.8H1027.6V889.9H1066.1V879.6H1067.8V842.8H1069.6V794H1073.1V799.3H1074.8V811.1H1076.6V802.6H1078.3V790H1081.8V806.3H1083.6V842.4H1085.3V839.5H1087.1V837.1H1088.8V835.1H1094.1V849.7H1095.8V860.9H1097.6V865.9H1099.3V850.6H1101.1V848.1H1104.6V850.1H1106.3V858.7H1108.1V851.7H1109.8V851.1H1113.3V858.8H1115.1V869.7H1116.8V879.1H1118.6V867.5H1120.3V865H1122.1V865.4H1123.8V863.6H1125.6V863.1H1127.3V862.1H1129.1V860.8H1130.8V860.7H1134.3V875.2H1136.1V877.6H1137.8V877.9H1139.6V873.9H1141.3V870.1H1143.1V870.2H1144.8V872.1H1146.6V870.1H1148.3V874.9H1150.1V878.5H1151.8V877.1H1153.6V875.7H1155.3V875.8H1157.1V874.4H1158.8V874.8H1160.6V872.9H1162.3V872.3H1164.1V871.1H1165.8V872.4H1167.6V872.1H1169.3V872.8H1171.1V872.3H1172.8V872.5H1174.6V871.1H1176.3V876.2H1178.1V880.4H1179.8V878.7H1181.6V877.2H1185.1V879.8H1186.8V883.8H1188.6V883.1H1190.3V882.6H1192.1V880.8H1193.8V879.7H1195.6V878.2H1197.3V878.7H1199.1V879H1200.8V879.5H1202.6V879H1204.3V879.4H1206.1V879H1207.8V880.3H1209.6V879.3H1211.3V880.5H1213.1V882.1H1214.8V882.6H1216.6V883.7H1218.3V884.6H1220.1V883.9H1221.8V883.2H1223.6V882.9H1225.3V882.7H1227.1V881.3H1228.8V882.3H1230.6V881.8H1232.3V882.4H1234.1V882.1H1237.6V883.9H1239.3V884.8H1241.1V886.2H1242.8V887.4H1244.6V888.5H1246.3V889.1H1248.1V888.7H1251.6V888.3H1253.3V888H1255.1V887.2H1256.8V888.1H1258.6V888.6H1260.3V888.9H1263.8V888.1H1265.6V887.3H1267.3V886.3H1269.1V885.4H1270.8V885.9H1272.6V886.7H1274.3V887.3H1276.1V888.2H1277.8V888.6H1279.6V889.2H1283.1V889.3H1284.8V889.2H1286.6V888.6H1288.3V887.5H1290.1V886.3H1291.8V885.4H1293.6V886.6H1295.3V888.1H1297.1V888.9H1298.8V888.3H1300.6V887.2H1302.3V886H1304.1V884.8H1309.3V884.9H1311.1V886.8H1312.8V887.7H1314.6V888.8H1316.3V889.3H1318.1V889.6H1319.8V889.7H1323.3V889.9H1333.8V889.7H1337.3V889.6H1339.1V889.2H1342.6V889H1344.3V888.9H1346.1V888.7H1347.8V888.5H1349.6V888.2H1351.3V888.5H1354.8V888.7H1356.6V888.8H1358.3V888.9H1360.1V889.1H1361.8V889.3H1363.6V889.4H1367.1V889.7H1368.8V889.5H1370.6V889.6H1372.3V889.7H1375.8V889.6H1377.6V889.7H1381.1V889.6H1382.8V889.4H1384.6V889.5H1386.3V889.4H1388.1V889.6H1389.8V889.5H1393.3V889.4H1395.1V889.3H1396.8V889.2H1400.3V889.3H1403.8V889.4H1405.6V889.1H1409.1V889.3H1410.8V889.1H1416.1V889H1417.8V889.1H1419.6V888.8H1421.3V889.1H1424.8V889.3H1426.6V889.2H1428.3V889.4H1430.1V889.5H1431.8V889.6H1433.6V889.5H1435.3V889.8H1437.1V889.7H1440.6V889.8H1444.1V889.6H1447.6V889.4H1449.3V889.2H1451.1V889H1454.6V888.8H1456.3V889H1459.8V889.1H1465.1V889.2H1466.8V889.3H1468.6V889.2H1470.3V889.4H1472.1V889.6H1473.8V889.5H1475.6V889.6H1477.3V889.7H1479.1V889.5H1480.8V889.6H1482.6V894.8H1480.8V894.7H1479.1V894.8H1477.3V894.9H1470.3V895.1H1468.6V895.2H1466.8V895.1H1465.1V895H1463.3V895.3H1461.6V895.4H1459.8V895.2H1456.3V895.5H1454.6V895.4H1452.8V895H1451.1V895.1H1449.3V894.9H1447.6V894.8H1444.1V894.6H1442.3V894.4H1440.6V894.6H1438.8V894.5H1435.3V894.6H1433.6V894.7H1431.8V894.9H1430.1V895.1H1428.3V895.2H1426.6V895.3H1421.3V895.6H1419.6V895.3H1417.8V895.4H1416.1V895.2H1414.3V895.4H1412.6V895.3H1410.8V895.2H1407.3V895H1400.3V895.2H1398.6V895.1H1395.1V894.8H1393.3V894.9H1391.6V895H1388.1V894.8H1384.6V894.9H1382.8V894.8H1375.8V894.6H1374.1V894.7H1372.3V894.6H1370.6V894.8H1368.8V894.7H1367.1V894.9H1365.3V895H1361.8V895.2H1360.1V895.3H1358.3V895.4H1356.6V895.6H1354.8V895.7H1353.1V895.6H1351.3V896.2H1349.6V895.9H1347.8V895.8H1346.1V895.6H1344.3V895.2H1342.6V895.1H1339.1V894.8H1337.3V894.6H1333.8V894.5H1332.1V894.3H1326.8V894.4H1325.1V894.6H1321.6V894.8H1316.3V895.6H1314.6V896.5H1312.8V897.8H1311.1V899.4H1309.3V899.6H1304.1V898.4H1302.3V897.2H1300.6V896.1H1298.8V895.9H1297.1V897H1295.3V898H1293.6V899.4H1291.8V898.6H1290.1V897.2H1288.3V896.1H1286.6V895.6H1284.8V895.3H1283.1V895.6H1279.6V896H1277.8V896.9H1276.1V897.5H1274.3V898H1272.6V899H1270.8V899.4H1269.1V898.2H1267.3V897.5H1265.6V896.6H1263.8V895.9H1262.1V895.6H1260.3V896.2H1258.6V897H1256.8V897.5H1255.1V897H1253.3V896.4H1251.6V896.3H1249.8V896H1248.1V895.8H1246.3V896.2H1244.6V897.1H1242.8V898.5H1241.1V900.1H1239.3V901H1237.6V902.7H1235.8V901.9H1234.1V902.2H1232.3V902.3H1230.6V903.1H1228.8V903.5H1227.1V902.3H1225.3V902.1H1223.6V901H1221.8V901.3H1220.1V900.5H1218.3V901.1H1216.6V901.6H1214.8V902.6H1213.1V904.3H1211.3V905.5H1209.6V904.8H1207.8V905.4H1206.1V904.9H1204.3V905H1202.6V906H1200.8V905.4H1199.1V906.2H1197.3V906.6H1195.6V905H1193.8V903.5H1192.1V903H1190.3V901.5H1188.6V900.9H1186.8V905H1185.1V907.6H1181.6V906.1H1179.8V904.3H1178.1V908.6H1176.3V913.6H1174.6V912.6H1172.8V913H1169.3V912.2H1167.6V912.1H1165.8V913.6H1164.1V911.5H1162.3V912.3H1160.6V911.3H1158.8V909.8H1157.1V909.4H1155.3V909H1153.6V907.6H1151.8V906.2H1150.1V909.9H1148.3V914.6H1146.6V913.2H1144.8V913H1143.1V914.6H1141.3V910.8H1139.6V906.9H1137.8V907.2H1136.1V909.5H1134.3V924H1130.8V923.9H1129.1V922.7H1127.3V919.7H1125.6V919.8H1123.8V919H1122.1V921.1H1120.3V917.2H1118.6V905.6H1116.8V915H1115.1V925.9H1113.3V933.6H1109.8V933.1H1108.1V926.1H1106.3V934.6H1104.6V936.6H1101.1V934.2H1099.3V918.9H1097.6V923.9H1095.8V935H1094.1V949.7H1088.8V947.7H1087.1V945.2H1085.3V942.3H1083.6V978.5H1081.8V994.7H1078.3V982.2H1076.6V973.7H1074.8V985.5H1073.1V990.7H1069.6V942H1067.8V905.2H1066.1V894.6H1064.3V894.5H1062.6V894.4H1057.3V894.5H1052.1V894.4H1050.3V894.5H1043.3V894.4H1041.6V894.6H1039.8V894.3H1018.8V894.4H1015.3V894.5H1011.8V894.8H1010.1V894.5H1008.3V894.6H1006.6V894.5H1004.8V894.8H1003.1V894.6H1001.3V894.7H997.8V894.5H996.1V894.6H994.3V894.7H992.6V894.8H989.1V894.6H987.3V894.4H983.8V894.3H955.8V894.5H952.3V894.6H950.6V894.8H947.1V895.1H945.3V895.2H941.8V895.5H940.1V895.6H938.3V895.7H936.6V895.2H934.8V895.1H933.1V894.9H931.3V894.6H929.6V894.5H926.1V894.3H920.8V894.5H919.1V894.4H915.6V894.5H913.8V894.4H912.1V894.6H908.6V894.7H906.8V894.9H905.1V895.4H903.3V895.9H901.6V896.6H899.8V897.5H898.1V898.6H896.3V899.6H894.6V898H892.8V895.9H891.1V894.3H887.6V894.5H885.8V895H884.1V896.5H882.3V898H880.6V898.9H878.8V897.2H877.1V896.3H875.3V895H873.6V895.1H871.8V895.4H870.1V895.7H868.3V896.2H866.6V896.9H864.8V897.4H863.1V897.5H861.3V898.1H859.6V899H857.8V898.2H856.1V897.5H854.3V897H852.6V896.3H850.8V895.9H849.1V896.5H847.3V897.3H845.6V898.5H843.8V898.2H842.1V897.5H840.3V896.9H838.6V896.1H836.8V895.3H835.1V894.8H833.3V895.9H831.6V897.5H829.8V898.5H828.1V900.7H826.3V900.9H824.6V901.8H822.8V902.3H821.1V903.7H819.3V902.6H817.6V902.7H815.8V902.2H814.1V901.3H812.3V900.7H808.8V900.1H807.1V900H805.3V899.9H803.6V900.1H801.8V901.8H800.1V902.8H798.3V904.4H796.6V906.9H794.8V906.3H791.3V906.8H789.6V907H787.8V907.3H786.1V908.6H784.3V908H782.6V905.4H780.8V903.3H779.1V901H777.3V900.8H775.6V901.1H773.8V903.2H772.1V905.3H770.3V907.1H768.6V908.2H766.8V909.7H765.1V910.5H763.3V913.1H761.6V912H759.8V913.2H758.1V914.9H756.3V913.4H754.6V913.3H752.8V912.5H751.1V913H749.3V910.8H747.6V908.6H745.8V908.5H744.1V909H742.3V908H740.6V905.7H738.8V907.1H737.1V909.5H735.3V913H733.6V915H731.8V914.3H730.1V913.6H728.3V910.9H726.6V906.2H724.8V909.4H723.1V917.7H721.3V925.2H717.8V924.9H716.1V923.5H714.3V922.1H712.6V921H710.8V920.3H709.1V919.6H707.3V914.6H705.6V905.2H703.8V915.4H702.1V927.9H700.3V935.2H696.8V931.2H695.1V933.5H693.3V937.2H689.8V931.5H688.1V922.9H686.3V915.9H684.6V927.7H682.8V936.5H681.1V946.1H679.3V952.1H677.6V951.6H675.8V950.3H674.1V944.4H672.3V958.2H670.6V993.3H667.1V992.8H665.3V979.3H663.6V990H661.8V999.3H658.3V990.6H656.6V945.4H654.8V905.4H653.1V894.7H651.3V894.6H649.6V894.9H647.8V895H646.1V895.1H644.3V895H642.6V895.1H640.8V895H639.1V895.1H637.3V895.3H635.6V895.4H633.8V895.5H630.3V895.3H626.8V895.4H625.1V895.3H623.3V895.2H616.3V895.1H614.6V895.2H612.8V895.1H611.1V895H607.6V895.1H605.8V895H600.6V895.2H598.8V895H597.1V895.1H595.3V895H593.6V895.3H591.8V895.2H590.1V895.3H588.3V895.1H586.6V895.2H584.8V895.3H583.1V895.2H581.3V895.4H577.8V895.6H576.1V895.4H574.3V895.3H572.6V895.5H570.8V895.2H569.1V895.4H567.3V895.1H563.8V895.2H562.1V895.1H560.3V895.2H556.8V894.9H555.1V894.8H553.3V895H549.8V894.8H548.1V894.7H544.6V894.8H542.8V894.7H541.1V894.8H539.3V894.9H537.6V895H535.8V895.3H534.1V895.7H532.3V895.8H530.6V896.2H528.8V895.9H527.1V896.1H525.3V895.8H523.6V895.9H521.8V896H520.1V896.1H518.3V895.7H516.6V895.5H513.1V895.3H511.3V895.2H506.1V894.9H504.3V895H502.6V894.6H500.8V894.8H499.1V895.1H497.3V894.9H493.8V895.1H492.1V895.8H490.3V896.2H488.6V898.2H486.8V900.3H485.1V902.2H479.8V899.4H478.1V896.3H476.3V897.1H474.6V898H472.8V897.8H471.1V897.9H469.3V898H467.6V898.2H465.8V898.6H464.1V897.3H462.3V896.6H460.6V896H458.8V895.3H457.1V894.9H455.3V896.4H453.6V898H451.8V899.2H450.1V899.1H448.3V899.2H444.8V898.7H443.1V897.7H441.3V897.4H439.6V897.3H437.8V897H436.1V897.3H434.3V898.2H432.6V897.6H430.8V897.5H429.1V896.9H427.3V897.1H425.6V896.5H422.1V896.2H418.6V897.4H416.8V898.7H415.1V900.8H413.3V903.4H411.6V905.2H409.8V904.8H408.1V904.5H406.3V904.3H404.6V905.2H402.8V904.2H401.1V902.2H399.3V901.7H397.6V901.5H395.8V902.3H394.1V903.2H392.3V902.7H390.6V903.5H388.8V904.1H387.1V904.8H385.3V905.6H383.6V906.5H381.8V906.2H380.1V908.3H378.3V909.1H376.6V910.6H374.8V912.1H373.1V911H371.3V910H369.6V908.3H367.8V905.2H366.1V902H364.3V902.6H362.6V908.5H360.8V910.2H357.3V909H355.6V906.1H353.8V908.8H352.1V914.1H350.3V912.5H348.6V912.2H346.8V914.2H345.1V913.2H343.3V912.5H341.6V911.3H339.8V913.1H338.1V911.6H336.3V910.6H334.6V910H332.8V909.6H331.1V908.7H329.3V907.9H327.6V908.1H325.8V911.6H324.1V915.1H322.3V915.6H320.6V916.1H318.8V915.6H317.1V914.8H315.3V909.9H313.6V902.8H311.8V910.1H310.1V920.6H308.3V927.9H306.6V929.6H304.8V929.1H303.1V927.3H301.3V924.6H299.6V921.8H297.8V918.4H296.1V907.9H294.3V902.4H292.6V907.7H290.8V919.4H289.1V932.8H287.3V939.2H283.8V931.6H282.1V927.2H280.3V927.3H278.6V941.2H273.3V942.8H271.6V947.5H269.8V956.9H268.1V964.1H266.3V965.9H264.6V974H262.8V986.2H261.1V980.2H259.3V986.6H257.6V987.3H255.8V982.3H250.6V972.3H245.3V940.2H243.6V896H241.8V894.3H240.1Z" fill="#1f77b4"/>
<rect x="181.7" y="778.0" width="1360.9" height="232.3" fill="none" stroke="#404040" stroke-width="2.60"/>
<text x="242.3" y="1045.8" font-size="24.4" text-anchor="middle" letter-spacing="-0.65">0.0</text>
<text x="489.8" y="1045.8" font-size="24.4" text-anchor="middle" letter-spacing="-0.65">0.2</text>
<text x="737.2" y="1045.8" font-size="24.4" text-anchor="middle" letter-spacing="-0.65">0.4</text>
<text x="984.6" y="1045.8" font-size="24.4" text-anchor="middle" letter-spacing="-0.65">0.6</text>
<text x="1232.1" y="1045.8" font-size="24.4" text-anchor="middle" letter-spacing="-0.65">0.8</text>
<text x="1479.5" y="1045.8" font-size="24.4" text-anchor="middle" letter-spacing="-0.65">1.0</text>
<text x="163.5" y="802.8" font-size="24.4" text-anchor="end" letter-spacing="-0.65">1</text>
<text x="163.5" y="901.0" font-size="24.4" text-anchor="end" letter-spacing="-0.65">0</text>
<text x="163.5" y="1001.2" font-size="24.4" text-anchor="end" letter-spacing="-0.65">−1</text>
<path d="M243.6,1010.3v8.5M491.0,1010.3v8.5M738.4,1010.3v8.5M985.9,1010.3v8.5M1233.3,1010.3v8.5M1480.7,1010.3v8.5M181.7,793.8h-8.5M181.7,892.0h-8.5M181.7,992.2h-8.5" stroke="#505050" stroke-width="2.40" fill="none"/>
<clipPath id="c3"><rect x="181.7" y="1057.4" width="1360.9" height="233.2"/></clipPath>
<path clip-path="url(#c3)" d="M240.1,1189.1H241.8V1186.5H243.6V1129.2H245.3V1066.3H247.1V1066H250.6V1109.9H252.3V1134.2H254.1V1118.5H255.8V1113.1H259.3V1127.3H261.1V1163.4H262.8V1163.9H264.6V1149.3H266.3V1146.1H269.8V1156H271.6V1169.5H273.3V1173.3H275.1V1174.1H276.8V1175H278.6V1175.2H283.8V1171.2H287.3V1171.8H289.1V1180.6H290.8V1181.8H292.6V1182.5H294.3V1183.2H296.1V1184.5H297.8V1184.4H299.6V1184.6H301.3V1184.1H304.8V1184.2H306.6V1184.7H308.3V1183.9H310.1V1183.2H311.8V1184.3H313.6V1184.7H315.3V1183.6H317.1V1183.9H318.8V1183.6H320.6V1182.9H322.3V1181.2H325.8V1182.6H327.6V1186.3H329.3V1187.1H332.8V1187.4H334.6V1187.6H336.3V1187.9H338.1V1188.5H341.6V1188.1H343.3V1187.7H345.1V1186.8H346.8V1186.5H348.6V1187.7H350.3V1188.8H352.1V1188.5H353.8V1188.2H355.6V1188.1H357.3V1187.9H359.1V1187.5H360.8V1188.2H362.6V1188.7H364.3V1188.3H366.1V1188.4H367.8V1187.3H369.6V1187.8H371.3V1188.7H373.1V1189.1H383.6V1189H385.3V1189.1H387.1V1188.9H388.8V1188.5H390.6V1187.6H392.3V1188H394.1V1189.1H499.1V1188.8H500.8V1188.9H502.6V1189.1H504.3V1188.8H506.1V1189.1H507.8V1188.9H509.6V1189.1H511.3V1188.9H513.1V1189H514.8V1189.1H516.6V1188.9H520.1V1189.1H521.8V1189H523.6V1188.9H525.3V1189.1H532.3V1188.8H534.1V1189.1H541.1V1188.8H542.8V1189.1H544.6V1188.9H546.3V1189.1H548.1V1189H549.8V1188.9H553.3V1189.1H555.1V1189H556.8V1189.1H560.3V1188.9H563.8V1189H565.6V1189.1H569.1V1188.9H570.8V1189H572.6V1188.9H576.1V1189H577.8V1189.1H579.6V1188.8H581.3V1189.1H586.6V1188.9H590.1V1189.1H591.8V1188.8H593.6V1189H597.1V1188.9H598.8V1189.1H600.6V1188.9H602.3V1189.1H607.6V1188.9H609.3V1189.1H611.1V1188.9H612.8V1189.1H614.6V1188.8H616.3V1189.1H619.8V1189H621.6V1188.9H625.1V1189.1H632.1V1188.9H633.8V1189.1H635.6V1188.9H639.1V1189.1H642.6V1188.9H646.1V1188.8H647.8V1189H649.6V1189.1H651.3V1189H653.1V1188.8H654.8V1168.8H656.6V1124.8H658.3V1106.2H660.1V1106.1H663.6V1106.4H665.3V1109.4H667.1V1118.2H668.8V1133.3H670.6V1141.4H672.3V1150.9H674.1V1158.1H675.8V1160.4H677.6V1165.1H679.3V1171H681.1V1173.7H682.8V1176.3H684.6V1178.5H686.3V1180.3H688.1V1178.7H689.8V1180.7H691.6V1179.3H693.3V1180.7H695.1V1182.1H698.6V1177.4H700.3V1174.9H702.1V1174.5H703.8V1175.1H705.6V1179.2H707.3V1180H709.1V1177.7H710.8V1178.1H712.6V1179.5H714.3V1183H716.1V1184.6H717.8V1182.8H719.6V1181.2H721.3V1182.4H723.1V1182.1H724.8V1183.4H726.6V1182.1H728.3V1182.4H730.1V1182.7H731.8V1183.1H733.6V1182.4H735.3V1181.3H737.1V1183.3H738.8V1185.5H740.6V1187.3H742.3V1188.1H744.1V1188.4H745.8V1188H747.6V1187.9H749.3V1188H751.1V1187.6H752.8V1187.5H754.6V1187.3H758.1V1187.8H761.6V1188.3H763.3V1188H765.1V1188.6H766.8V1188.1H768.6V1188.2H770.3V1188.4H773.8V1188.5H775.6V1188.6H777.3V1188.8H779.1V1188.5H780.8V1188.8H784.3V1189H786.1V1189.1H789.6V1188.8H791.3V1189H793.1V1188.9H794.8V1189.1H800.1V1188.9H801.8V1189H807.1V1189.1H812.3V1189H814.1V1188.9H815.8V1189H817.6V1189.1H819.3V1188.9H821.1V1188.8H822.8V1188.9H826.3V1189H829.8V1189.1H831.6V1188.9H833.3V1189H835.1V1188.8H838.6V1189.1H842.1V1188.8H843.8V1189.1H845.6V1189H847.3V1188.9H849.1V1189.1H850.8V1188.9H854.3V1189.1H857.8V1188.8H859.6V1189.1H861.3V1189H863.1V1189.1H868.3V1189H870.1V1188.8H871.8V1189H873.6V1188.9H875.3V1189.1H877.1V1189H878.8V1189.1H880.6V1188.9H882.3V1188.8H884.1V1189H885.8V1188.9H887.6V1189.1H889.3V1188.9H892.8V1189.1H899.8V1189H901.6V1189.1H906.8V1188.9H908.6V1189.1H912.1V1188.9H913.8V1189.1H917.3V1188.9H920.8V1188.8H922.6V1189H924.3V1189.1H927.8V1188.9H929.6V1189.1H931.3V1189H936.6V1189.1H948.8V1189H952.3V1189.1H955.8V1189H957.6V1188.9H961.1V1189.1H966.3V1189H968.1V1189.1H971.6V1188.9H973.3V1188.8H975.1V1189.1H976.8V1188.9H978.6V1189.1H982.1V1189H983.8V1188.8H985.6V1189.1H987.3V1189H989.1V1189.1H996.1V1189H997.8V1189.1H1008.3V1188.9H1011.8V1189H1013.6V1188.8H1015.3V1188.9H1017.1V1189.1H1027.6V1188.8H1029.3V1188.9H1032.8V1189.1H1034.6V1188.9H1038.1V1188.8H1041.6V1188.9H1043.3V1189.1H1045.1V1188.9H1046.8V1189.1H1052.1V1188.8H1053.8V1188.9H1057.3V1189.1H1059.1V1188.9H1060.8V1189.1H1066.1V1188.8H1067.8V1160.2H1069.6V1115H1071.3V1106.1H1076.6V1106.7H1078.3V1109.7H1080.1V1120.1H1081.8V1134.1H1083.6V1142.3H1085.3V1152H1087.1V1158.3H1088.8V1160.7H1090.6V1165.8H1092.3V1171.4H1094.1V1174H1095.8V1176.6H1097.6V1177.8H1099.3V1180.3H1101.1V1178.7H1102.8V1179.9H1104.6V1179.5H1106.3V1180.9H1108.1V1182.3H1109.8V1181.6H1111.6V1176.9H1113.3V1174.9H1115.1V1174.5H1116.8V1175.6H1118.6V1179.6H1120.3V1179.7H1122.1V1177.4H1123.8V1178.2H1125.6V1179.8H1127.3V1183.3H1129.1V1184.4H1130.8V1182.6H1132.6V1181.2H1134.3V1181.5H1136.1V1182.8H1137.8V1182H1139.6V1182.1H1141.3V1182.4H1143.1V1182.8H1144.8V1183.1H1146.6V1182.3H1148.3V1181.3H1150.1V1183.6H1151.8V1185.7H1153.6V1187.5H1155.3V1188.4H1157.1V1188.1H1158.8V1188H1160.6V1188.4H1162.3V1188H1164.1V1187.9H1165.8V1187.5H1167.6V1187.2H1169.3V1187.8H1171.1V1188.1H1172.8V1188H1174.6V1187.8H1176.3V1188.3H1179.8V1188.2H1181.6V1188.5H1183.3V1188.2H1185.1V1188H1186.8V1188.1H1188.6V1188.2H1190.3V1187.5H1192.1V1187.4H1193.8V1188.4H1195.6V1188.7H1197.3V1188.8H1199.1V1189.1H1204.3V1189H1207.8V1188.8H1209.6V1188.2H1213.1V1187.6H1214.8V1188.5H1216.6V1188.6H1218.3V1189.1H1256.8V1189H1258.6V1189.1H1269.1V1189H1270.8V1189.1H1274.3V1189H1276.1V1189.1H1281.3V1189H1283.1V1189.1H1288.3V1189H1290.1V1189.1H1291.8V1189H1293.6V1188.9H1295.3V1189.1H1298.8V1188.9H1304.1V1189H1305.8V1189.1H1309.3V1188.8H1311.1V1188.9H1312.8V1189H1316.3V1188.8H1318.1V1188.9H1319.8V1188.8H1321.6V1189.1H1323.3V1189H1325.1V1189.1H1332.1V1189H1333.8V1188.8H1335.6V1189H1337.3V1189.1H1339.1V1189H1340.8V1189.1H1342.6V1189H1344.3V1189.1H1346.1V1188.9H1351.3V1189.1H1358.3V1189H1360.1V1189.1H1361.8V1189H1363.6V1188.9H1365.3V1189.1H1367.1V1188.9H1368.8V1189.1H1374.1V1188.9H1377.6V1189.1H1384.6V1189H1386.3V1188.9H1388.1V1189H1389.8V1188.9H1391.6V1189.1H1393.3V1188.9H1395.1V1189H1396.8V1188.9H1398.6V1189H1400.3V1188.9H1405.6V1189.1H1407.3V1188.9H1410.8V1189.1H1412.6V1189H1414.3V1189.1H1417.8V1188.9H1424.8V1189H1426.6V1188.9H1428.3V1189.1H1431.8V1188.9H1433.6V1189.1H1437.1V1188.8H1440.6V1189H1442.3V1188.9H1447.6V1189.1H1449.3V1188.8H1451.1V1189.1H1454.6V1189H1456.3V1188.9H1458.1V1189.1H1461.6V1188.9H1466.8V1189H1468.6V1188.8H1470.3V1189.1H1477.3V1188.8H1479.1V1189.1H1480.8V1188.8H1482.6V1193.6H1480.8V1193.5H1461.6V1193.6H1459.8V1193.5H1452.8V1193.6H1447.6V1193.5H1437.1V1193.6H1435.3V1193.5H1428.3V1193.6H1424.8V1193.5H1410.8V1193.6H1409.1V1193.5H1396.8V1193.6H1393.3V1193.5H1389.8V1193.6H1388.1V1193.5H1382.8V1193.6H1381.1V1193.5H1379.3V1193.6H1377.6V1193.5H1358.3V1193.6H1356.6V1193.5H1332.1V1193.6H1330.3V1193.5H1325.1V1193.6H1323.3V1193.5H1316.3V1193.6H1314.6V1193.5H1312.8V1193.6H1307.6V1193.5H1293.6V1193.6H1291.8V1193.5H1288.3V1193.6H1286.6V1193.5H1248.1V1193.6H1246.3V1193.5H1221.8V1193.6H1218.3V1193.8H1216.6V1194.2H1214.8V1195.2H1213.1V1194.6H1211.3V1194.8H1209.6V1195H1206.1V1194.9H1204.3V1194.8H1202.6V1195H1200.8V1194.9H1197.3V1194.5H1195.6V1194.6H1193.8V1194.8H1192.1V1194.4H1190.3V1194.6H1188.6V1195H1186.8V1194.4H1185.1V1194.6H1183.3V1194.5H1181.6V1194.7H1179.8V1194.2H1178.1V1194.4H1176.3V1194.5H1172.8V1194.6H1171.1V1194.2H1169.3V1194.8H1167.6V1194.2H1165.8V1194.5H1164.1V1194.7H1162.3V1194.9H1160.6V1194.6H1158.8V1194.9H1157.1V1194.5H1155.3V1194.7H1153.6V1196.4H1151.8V1200.2H1150.1V1199.8H1148.3V1199.5H1146.6V1198.9H1144.8V1197.5H1143.1V1196.1H1141.3V1195.3H1139.6V1195.2H1137.8V1195.5H1136.1V1195.9H1134.3V1196.2H1132.6V1196.8H1130.8V1197.6H1129.1V1201.1H1127.3V1203.2H1123.8V1203H1122.1V1200.7H1120.3V1200.5H1118.6V1204H1116.8V1205.2H1113.3V1203.5H1111.6V1198.8H1109.8V1197.7H1108.1V1198.4H1106.3V1199.1H1104.6V1198.7H1102.8V1200.1H1101.1V1199.4H1099.3V1201.1H1097.6V1206.7H1095.8V1209.2H1092.3V1214.1H1090.6V1226.2H1088.8V1232.4H1087.1V1234.1H1085.3V1238.9H1083.6V1247.8H1081.8V1250.1H1080.1V1258.5H1078.3V1268.3H1074.8V1265.6H1073.1V1260.5H1071.3V1254.7H1069.6V1221.6H1067.8V1193.6H1064.3V1193.5H1057.3V1193.6H1055.6V1193.5H1041.6V1193.6H1038.1V1193.5H976.8V1193.6H975.1V1193.5H971.6V1193.6H969.8V1193.5H955.8V1193.6H954.1V1193.5H945.3V1193.6H943.6V1193.5H936.6V1193.6H934.8V1193.5H927.8V1193.6H926.1V1193.5H917.3V1193.6H915.6V1193.5H913.8V1193.6H912.1V1193.5H906.8V1193.6H905.1V1193.5H887.6V1193.6H885.8V1193.5H882.3V1193.6H880.6V1193.5H831.6V1193.6H829.8V1193.5H817.6V1193.6H815.8V1193.5H810.6V1193.6H808.8V1193.5H798.3V1193.6H796.6V1193.5H791.3V1193.6H789.6V1193.5H782.6V1193.6H780.8V1193.5H779.1V1193.7H775.6V1193.9H773.8V1193.6H770.3V1194.2H766.8V1194.3H765.1V1193.8H763.3V1194.2H761.6V1194.4H759.8V1194.2H758.1V1194.8H754.6V1194.3H752.8V1194.6H751.1V1194.4H749.3V1194.3H747.6V1194.6H745.8V1194.8H744.1V1195.1H742.3V1195H740.6V1197.1H738.8V1201.1H737.1V1200.4H735.3V1199.7H733.6V1198.7H731.8V1197.3H730.1V1195.9H728.3V1195.4H726.6V1195.1H724.8V1195.5H723.1V1196.1H719.6V1196H717.8V1197.9H716.1V1201.4H714.3V1203.2H710.8V1202.7H709.1V1200.4H707.3V1200.9H705.6V1204.4H703.8V1205.2H700.3V1203H698.6V1198.3H696.8V1197.7H695.1V1198.4H693.3V1199.1H691.6V1198.6H689.8V1199.1H688.1V1200.2H686.3V1201.2H684.6V1207.5H682.8V1209.2H681.1V1209.4H679.3V1214.7H677.6V1227.7H675.8V1232.6H674.1V1234.3H672.3V1240H670.6V1248H668.8V1250.3H667.1V1260.6H665.3V1269.3H661.8V1265.5H660.1V1259.9H658.3V1254H656.6V1213.6H654.8V1193.6H653.1V1193.5H644.3V1193.6H642.6V1193.5H639.1V1193.6H637.3V1193.5H632.1V1193.6H630.3V1193.5H621.6V1193.6H618.1V1193.5H616.3V1193.6H614.6V1193.5H600.6V1193.6H598.8V1193.5H579.6V1193.6H577.8V1193.5H570.8V1193.6H569.1V1193.5H562.1V1193.6H560.3V1193.5H553.3V1193.6H551.6V1193.5H520.1V1193.6H518.3V1193.5H516.6V1193.6H514.8V1193.5H513.1V1193.6H511.3V1193.5H506.1V1193.6H504.3V1193.5H500.8V1193.6H499.1V1193.5H481.6V1193.6H478.1V1193.5H474.6V1193.6H472.8V1193.5H457.1V1193.6H455.3V1193.5H450.1V1193.6H448.3V1193.5H413.3V1193.6H411.6V1193.5H395.8V1193.8H394.1V1195.2H392.3V1194.8H390.6V1194.3H388.8V1194H387.1V1194.3H385.3V1193.9H378.3V1194.3H376.6V1194.5H374.8V1194.7H373.1V1194.2H371.3V1194.8H369.6V1194.1H366.1V1193.9H364.3V1194.2H362.6V1194H360.8V1194.2H359.1V1193.8H357.3V1194.2H353.8V1194.7H352.1V1194.6H350.3V1194.4H348.6V1195.2H346.8V1194.9H345.1V1194.5H343.3V1194.3H341.6V1194.4H339.8V1194.3H338.1V1194.5H336.3V1195.2H331.1V1194.9H327.6V1195.5H325.8V1195.2H322.3V1196.2H320.6V1197.3H318.8V1198.6H317.1V1198H315.3V1198.9H313.6V1198.1H311.8V1199.2H310.1V1198.9H308.3V1197.6H306.6V1198.1H304.8V1197.3H303.1V1197.1H301.3V1199.8H299.6V1203.1H297.8V1202.7H296.1V1202.2H294.3V1201H292.6V1199.7H290.8V1200.6H289.1V1202.8H287.3V1204.1H285.6V1203.6H283.8V1203.7H282.1V1210.7H280.3V1210.3H278.6V1210.9H276.8V1211.2H275.1V1210.8H273.3V1209.8H271.6V1218.8H269.8V1227.3H266.3V1226.1H264.6V1228.6H262.8V1237.7H261.1V1246.3H257.6V1249.4H255.8V1251.9H254.1V1252.5H252.3V1261H250.6V1269.7H248.8V1279.3H245.3V1262.9H243.6V1197.9H241.8V1193.6H240.1Z" fill="#1f77b4"/>
<rect x="181.7" y="1057.4" width="1360.9" height="233.2" fill="none" stroke="#404040" stroke-width="2.60"/>
<text x="242.3" y="1325.6" font-size="24.4" text-anchor="middle" letter-spacing="-0.65">0.0</text>
<text x="489.8" y="1325.6" font-size="24.4" text-anchor="middle" letter-spacing="-0.65">0.2</text>
<text x="737.2" y="1325.6" font-size="24.4" text-anchor="middle" letter-spacing="-0.65">0.4</text>
<text x="984.6" y="1325.6" font-size="24.4" text-anchor="middle" letter-spacing="-0.65">0.6</text>
<text x="1232.1" y="1325.6" font-size="24.4" text-anchor="middle" letter-spacing="-0.65">0.8</text>
<text x="1479.5" y="1325.6" font-size="24.4" text-anchor="middle" letter-spacing="-0.65">1.0</text>
<text x="163.5" y="1133.1" font-size="24.4" text-anchor="end" letter-spacing="-0.65">2</text>
<text x="163.5" y="1201.5" font-size="24.4" text-anchor="end" letter-spacing="-0.65">0</text>
<text x="163.5" y="1268.2" font-size="24.4" text-anchor="end" letter-spacing="-0.65">−2</text>
<path d="M243.6,1290.6v8.5M491.0,1290.6v8.5M738.4,1290.6v8.5M985.9,1290.6v8.5M1233.3,1290.6v8.5M1480.7,1290.6v8.5M181.7,1124.1h-8.5M181.7,1192.5h-8.5M181.7,1259.2h-8.5" stroke="#505050" stroke-width="2.40" fill="none"/>
<clipPath id="c4"><rect x="181.7" y="1336.8" width="1360.9" height="233.6"/></clipPath>
<path clip-path="url(#c4)" d="M240.1,1452.1H243.6V1436.8H245.3V1390.2H247.1V1382.3H248.8V1382.1H252.3V1346H255.8V1353.5H257.6V1357H259.3V1384.1H261.1V1385.1H262.8V1414.4H264.6V1429.1H266.3V1403.1H268.1V1409.8H269.8V1405.8H271.6V1408.5H273.3V1416.9H275.1V1438.1H276.8V1433.1H278.6V1428.1H283.8V1432H285.6V1435.3H287.3V1436.2H289.1V1437.1H290.8V1440.4H292.6V1442.2H294.3V1437.5H296.1V1435.1H299.6V1439.7H301.3V1445.1H303.1V1445.4H304.8V1445.9H306.6V1444.3H308.3V1443.1H310.1V1441.3H311.8V1441.2H315.3V1444.4H317.1V1446H318.8V1443.7H320.6V1443.6H322.3V1443.9H324.1V1444.3H325.8V1444.5H327.6V1448.6H329.3V1449.4H331.1V1448.1H332.8V1447.4H334.6V1448.8H336.3V1448.7H338.1V1449.1H339.8V1449.7H341.6V1449.9H343.3V1450.3H345.1V1450.4H346.8V1450H348.6V1449.6H350.3V1449.2H352.1V1450.1H353.8V1450.9H355.6V1451.4H359.1V1451.5H360.8V1451.2H362.6V1451.1H364.3V1450.8H366.1V1450.4H367.8V1450.3H369.6V1451.1H371.3V1451.4H373.1V1452H374.8V1452.1H376.6V1451.9H380.1V1451.5H381.8V1451.2H383.6V1451.7H385.3V1451.5H387.1V1451.8H388.8V1451.9H392.3V1452.1H397.6V1452H399.3V1451.7H401.1V1451.3H402.8V1450.8H404.6V1451.2H406.3V1451.6H408.1V1451.7H411.6V1452.1H499.1V1451.8H500.8V1451.9H502.6V1452H504.3V1451.9H506.1V1451.8H509.6V1452.1H511.3V1451.9H513.1V1452.1H516.6V1451.9H520.1V1452H521.8V1452.1H525.3V1451.9H530.6V1452H532.3V1451.8H534.1V1452H535.8V1451.8H537.6V1452H548.1V1451.9H555.1V1452H556.8V1451.9H558.6V1452.1H560.3V1452H562.1V1451.9H563.8V1452.1H565.6V1451.9H570.8V1452H576.1V1451.9H577.8V1451.8H581.3V1451.9H584.8V1451.8H586.6V1452.1H588.3V1451.8H593.6V1451.9H597.1V1451.8H598.8V1451.9H600.6V1452H602.3V1451.8H604.1V1452H605.8V1451.8H607.6V1452.1H609.3V1451.9H611.1V1452H612.8V1451.9H614.6V1452.1H616.3V1451.9H619.8V1451.8H621.6V1452.1H623.3V1451.8H626.8V1452H628.6V1452.1H630.3V1451.8H632.1V1451.9H633.8V1451.8H635.6V1451.9H637.3V1452H639.1V1452.1H640.8V1451.9H642.6V1452H644.3V1451.9H653.1V1445.2H654.8V1409.5H656.6V1393.1H661.8V1403.1H663.6V1393.4H665.3V1358H670.6V1385.9H672.3V1395.1H675.8V1421.2H677.6V1422.1H679.3V1423.1H681.1V1421.4H682.8V1420.1H688.1V1426H689.8V1435.7H691.6V1438H693.3V1436.2H695.1V1435.7H696.8V1437.1H698.6V1438.5H700.3V1438.7H702.1V1437.8H703.8V1437.2H709.1V1442.9H710.8V1443.8H712.6V1442.1H714.3V1441H716.1V1439.2H719.6V1439.7H721.3V1446.7H723.1V1445.5H724.8V1443.8H726.6V1444.6H728.3V1446.8H730.1V1447.9H733.6V1446.3H735.3V1445.2H737.1V1446.9H738.8V1448.1H740.6V1448.9H742.3V1449.5H744.1V1449.4H745.8V1449.6H747.6V1449.5H749.3V1448.5H751.1V1448.2H752.8V1449.2H754.6V1449.3H756.3V1449.8H758.1V1450.3H759.8V1450.8H765.1V1450.5H766.8V1450.9H768.6V1450.2H770.3V1450.7H772.1V1450.5H773.8V1450.8H775.6V1450.6H777.3V1450.7H779.1V1450.9H780.8V1450.8H782.6V1451.1H784.3V1450.9H786.1V1450.8H787.8V1451H789.6V1451.2H791.3V1451H794.8V1451.3H796.6V1451.5H798.3V1451.2H801.8V1451.4H803.6V1451.6H805.3V1451.5H807.1V1451.7H810.6V1451.5H814.1V1451.6H817.6V1451.5H819.3V1451.7H822.8V1451.8H824.6V1451.9H826.3V1451.8H828.1V1452H829.8V1451.9H831.6V1451.8H833.3V1451.9H835.1V1452H836.8V1451.9H838.6V1451.8H842.1V1451.9H843.8V1452.1H845.6V1451.8H849.1V1452H850.8V1452.1H852.6V1451.9H859.6V1452H861.3V1452.1H863.1V1452H864.8V1452.1H866.6V1452H868.3V1451.8H870.1V1452H875.3V1451.9H877.1V1451.8H878.8V1452H880.6V1451.9H882.3V1452H884.1V1452.1H885.8V1452H887.6V1451.9H889.3V1452H891.1V1451.9H892.8V1452H894.6V1452.1H896.3V1452H901.6V1451.9H903.3V1452.1H905.1V1451.8H908.6V1452H910.3V1452.1H912.1V1451.9H913.8V1452.1H915.6V1452H917.3V1452.1H920.8V1452H922.6V1451.9H924.3V1452.1H926.1V1451.8H927.8V1451.9H931.3V1451.8H933.1V1452.1H934.8V1451.8H936.6V1452.1H940.1V1451.8H941.8V1451.9H945.3V1452.1H947.1V1452H948.8V1451.8H950.6V1451.9H952.3V1452.1H955.8V1451.9H961.1V1451.8H962.8V1452H964.6V1451.9H966.3V1452.1H968.1V1451.8H971.6V1451.9H973.3V1452.1H976.8V1451.8H978.6V1451.9H980.3V1451.8H983.8V1452.1H985.6V1451.9H987.3V1452H992.6V1451.8H994.3V1451.9H996.1V1452H999.6V1451.8H1001.3V1452.1H1004.8V1451.8H1006.6V1451.9H1013.6V1452H1015.3V1452.1H1017.1V1451.9H1022.3V1451.8H1024.1V1452H1025.8V1452.1H1027.6V1451.9H1029.3V1451.8H1031.1V1452H1032.8V1451.8H1034.6V1451.9H1038.1V1451.8H1041.6V1452H1043.3V1451.8H1045.1V1452H1046.8V1452.1H1048.6V1451.9H1050.3V1451.8H1052.1V1452H1053.8V1451.8H1055.6V1452H1057.3V1452.1H1059.1V1452H1062.6V1451.9H1064.3V1451.8H1066.1V1446H1067.8V1423.3H1069.6V1399.1H1074.8V1405.1H1076.6V1384.5H1078.3V1354H1083.6V1394.9H1085.3V1397.1H1088.8V1419.1H1090.6V1419.9H1092.3V1420.7H1094.1V1419.8H1095.8V1418.1H1099.3V1419.4H1101.1V1425.1H1102.8V1438.3H1104.6V1438.4H1106.3V1435.1H1111.6V1439.2H1113.3V1440.1H1115.1V1438.3H1116.8V1438.2H1120.3V1442H1122.1V1444.7H1123.8V1443.9H1125.6V1442.8H1127.3V1441.1H1129.1V1440.2H1132.6V1441H1134.3V1445.1H1136.1V1443.3H1137.8V1442.2H1141.3V1444.8H1143.1V1446.6H1144.8V1445.2H1146.6V1444.2H1151.8V1445.1H1153.6V1448H1155.3V1449H1157.1V1448.6H1158.8V1448.3H1160.6V1447.7H1162.3V1447.1H1164.1V1446.8H1165.8V1447H1167.6V1447.3H1169.3V1448.4H1171.1V1449.4H1172.8V1449.5H1174.6V1449.6H1176.3V1449.5H1178.1V1449.9H1179.8V1449.1H1181.6V1449.3H1185.1V1448.9H1186.8V1448.8H1188.6V1449.1H1190.3V1449.4H1193.8V1449.7H1195.6V1450.5H1197.3V1450.9H1199.1V1451.1H1200.8V1451.2H1202.6V1450.9H1204.3V1450.8H1206.1V1450.9H1207.8V1450.2H1209.6V1450.8H1213.1V1451.1H1216.6V1450.9H1218.3V1450.4H1221.8V1451.1H1223.6V1451.5H1225.3V1451.8H1227.1V1452H1228.8V1452.1H1232.3V1451.9H1234.1V1452H1237.6V1451.9H1239.3V1452H1241.1V1451.9H1242.8V1451.8H1244.6V1452.1H1246.3V1452H1248.1V1451.9H1253.3V1452H1255.1V1451.8H1258.6V1452.1H1260.3V1451.9H1265.6V1451.8H1267.3V1452H1269.1V1452.1H1270.8V1452H1272.6V1451.8H1274.3V1452.1H1276.1V1452H1277.8V1451.8H1279.6V1452H1281.3V1451.8H1283.1V1451.9H1284.8V1452H1286.6V1451.9H1288.3V1452H1290.1V1451.8H1293.6V1451.9H1295.3V1452.1H1297.1V1451.8H1302.3V1452.1H1304.1V1452H1305.8V1452.1H1307.6V1451.9H1309.3V1451.8H1311.1V1452.1H1314.6V1451.8H1316.3V1451.9H1318.1V1452.1H1319.8V1451.9H1323.3V1452.1H1325.1V1451.9H1332.1V1452.1H1335.6V1451.9H1337.3V1452H1339.1V1451.9H1344.3V1452H1346.1V1451.9H1347.8V1451.8H1349.6V1452.1H1351.3V1451.9H1353.1V1452H1354.8V1451.8H1356.6V1452H1358.3V1451.9H1360.1V1451.8H1363.6V1451.9H1368.8V1452.1H1370.6V1451.9H1372.3V1451.8H1374.1V1452H1381.1V1452.1H1384.6V1451.9H1388.1V1452H1391.6V1451.9H1393.3V1452.1H1396.8V1451.8H1398.6V1451.9H1400.3V1452.1H1402.1V1452H1403.8V1451.9H1405.6V1451.8H1407.3V1452H1409.1V1452.1H1410.8V1452H1412.6V1452.1H1414.3V1451.8H1417.8V1451.9H1419.6V1451.8H1421.3V1451.9H1423.1V1452.1H1424.8V1452H1426.6V1452.1H1428.3V1451.9H1430.1V1451.8H1433.6V1452H1435.3V1451.8H1437.1V1452.1H1438.8V1451.9H1440.6V1452.1H1442.3V1452H1444.1V1451.8H1445.8V1452.1H1447.6V1452H1449.3V1452.1H1452.8V1451.9H1456.3V1452H1458.1V1451.8H1459.8V1452H1461.6V1452.1H1468.6V1452H1470.3V1452.1H1472.1V1451.9H1473.8V1451.8H1475.6V1452.1H1477.3V1451.9H1480.8V1451.8H1482.6V1456.8H1480.8V1456.7H1477.3V1456.6H1475.6V1456.5H1472.1V1456.6H1470.3V1456.5H1468.6V1456.7H1466.8V1456.8H1465.1V1456.6H1463.3V1456.5H1461.6V1456.8H1459.8V1456.5H1458.1V1456.7H1456.3V1456.5H1454.6V1456.7H1452.8V1456.6H1451.1V1456.7H1444.1V1456.5H1442.3V1456.7H1440.6V1456.6H1438.8V1456.7H1437.1V1456.6H1435.3V1456.5H1433.6V1456.7H1431.8V1456.5H1426.6V1456.6H1424.8V1456.5H1421.3V1456.7H1419.6V1456.6H1416.1V1456.5H1414.3V1456.6H1410.8V1456.5H1409.1V1456.7H1407.3V1456.5H1405.6V1456.6H1403.8V1456.5H1398.6V1456.7H1396.8V1456.5H1393.3V1456.7H1391.6V1456.5H1389.8V1456.7H1388.1V1456.6H1386.3V1456.5H1384.6V1456.7H1382.8V1456.6H1381.1V1456.5H1379.3V1456.7H1377.6V1456.6H1375.8V1456.7H1374.1V1456.6H1372.3V1456.5H1363.6V1456.7H1361.8V1456.5H1360.1V1456.8H1358.3V1456.5H1356.6V1456.6H1353.1V1456.7H1351.3V1456.6H1349.6V1456.5H1344.3V1456.8H1342.6V1456.6H1339.1V1456.7H1335.6V1456.5H1332.1V1456.6H1330.3V1456.5H1326.8V1456.8H1325.1V1456.5H1321.6V1456.6H1319.8V1456.7H1318.1V1456.6H1316.3V1456.8H1314.6V1456.5H1312.8V1456.7H1311.1V1456.8H1307.6V1456.5H1305.8V1456.8H1297.1V1456.5H1295.3V1456.6H1293.6V1456.7H1291.8V1456.8H1290.1V1456.6H1288.3V1456.7H1284.8V1456.5H1283.1V1456.6H1281.3V1456.7H1279.6V1456.6H1274.3V1456.7H1272.6V1456.8H1270.8V1456.7H1267.3V1456.8H1263.8V1456.6H1262.1V1456.7H1258.6V1456.8H1256.8V1456.9H1255.1V1456.8H1253.3V1456.9H1251.6V1456.8H1249.8V1457H1244.6V1456.8H1239.3V1456.9H1237.6V1456.8H1235.8V1456.9H1234.1V1457H1232.3V1457.1H1230.6V1457H1221.8V1457.1H1220.1V1457H1218.3V1457.1H1216.6V1457.3H1214.8V1457.4H1213.1V1457.6H1211.3V1458H1209.6V1458.7H1207.8V1458H1206.1V1457.9H1204.3V1457.5H1202.6V1457.4H1200.8V1457.2H1197.3V1457.5H1195.6V1458.1H1193.8V1457.8H1192.1V1458.1H1190.3V1458.2H1188.6V1458.4H1186.8V1458.5H1185.1V1458.3H1183.3V1458.6H1181.6V1458.8H1179.8V1458.4H1178.1V1458.2H1174.6V1458.3H1171.1V1459.5H1169.3V1460.6H1167.6V1460H1165.8V1460.5H1164.1V1459.8H1162.3V1460.2H1160.6V1460.1H1158.8V1459.7H1157.1V1459.4H1155.3V1460.2H1153.6V1462.8H1151.8V1463.6H1146.6V1462.7H1144.8V1461.7H1143.1V1463.1H1141.3V1465.2H1137.8V1464.4H1136.1V1463.2H1134.3V1466.6H1132.6V1467.2H1129.1V1466.6H1127.3V1465.4H1125.6V1464.5H1123.8V1463.6H1122.1V1466.4H1120.3V1470.2H1116.8V1470H1115.1V1468.3H1113.3V1469.1H1111.6V1473.2H1106.3V1469.9H1104.6V1469.4H1102.8V1479.7H1101.1V1485.7H1099.3V1487.6H1097.6V1488.1H1095.8V1487.7H1094.1V1488.1H1092.3V1489.8H1090.6V1495.8H1088.8V1511.6H1087.1V1512.9H1085.3V1549.4H1083.6V1557.3H1078.3V1539.4H1076.6V1505.8H1074.8V1509.3H1069.6V1487.1H1067.8V1463.4H1066.1V1456.8H1064.3V1456.5H1062.6V1456.6H1060.8V1456.7H1059.1V1456.5H1055.6V1456.7H1053.8V1456.5H1052.1V1456.7H1050.3V1456.5H1048.6V1456.7H1046.8V1456.6H1045.1V1456.8H1043.3V1456.6H1041.6V1456.8H1038.1V1456.7H1034.6V1456.8H1032.8V1456.7H1031.1V1456.6H1029.3V1456.5H1027.6V1456.6H1022.3V1456.5H1020.6V1456.7H1017.1V1456.6H1015.3V1456.7H1010.1V1456.6H1008.3V1456.7H1004.8V1456.6H1003.1V1456.7H1001.3V1456.6H999.6V1456.7H997.8V1456.6H994.3V1456.7H992.6V1456.6H987.3V1456.7H985.6V1456.6H983.8V1456.5H982.1V1456.7H980.3V1456.5H978.6V1456.6H976.8V1456.5H975.1V1456.7H968.1V1456.8H966.3V1456.7H964.6V1456.6H962.8V1456.7H961.1V1456.5H959.3V1456.8H957.6V1456.5H955.8V1456.7H954.1V1456.6H950.6V1456.5H948.8V1456.7H945.3V1456.6H943.6V1456.7H941.8V1456.5H940.1V1456.7H938.3V1456.5H927.8V1456.7H926.1V1456.5H922.6V1456.7H920.8V1456.5H917.3V1456.7H913.8V1456.5H912.1V1456.7H908.6V1456.6H906.8V1456.8H905.1V1456.5H903.3V1456.6H894.6V1456.7H892.8V1456.6H891.1V1456.5H889.3V1456.7H887.6V1456.5H884.1V1456.6H877.1V1456.7H875.3V1456.5H871.8V1456.6H868.3V1456.5H866.6V1456.7H864.8V1456.6H859.6V1456.5H857.8V1456.6H854.3V1456.7H849.1V1456.6H847.3V1456.5H845.6V1456.6H843.8V1456.5H842.1V1456.8H840.3V1456.7H838.6V1456.6H833.3V1456.8H831.6V1456.6H829.8V1456.9H828.1V1456.7H826.3V1456.9H824.6V1456.8H822.8V1456.7H821.1V1456.8H819.3V1456.7H817.6V1456.8H815.8V1456.9H814.1V1456.8H810.6V1457.1H808.8V1456.9H805.3V1457.1H803.6V1456.9H801.8V1457.2H800.1V1457H798.3V1456.9H796.6V1457.1H793.1V1457H791.3V1457.3H789.6V1457.2H787.8V1457.4H786.1V1457.7H784.3V1457.3H782.6V1457.7H780.8V1457.6H779.1V1457.7H777.3V1457.5H775.6V1457.6H773.8V1458H772.1V1457.9H770.3V1458.1H768.6V1458H766.8V1457.8H763.3V1457.5H761.6V1457.6H759.8V1457.9H758.1V1458.5H756.3V1458.7H754.6V1459.2H752.8V1460.1H751.1V1459.3H747.6V1459.2H745.8V1458.8H744.1V1458.9H742.3V1459.3H740.6V1459.6H738.8V1460.6H737.1V1462.1H735.3V1460.8H731.8V1460.4H730.1V1461.5H728.3V1463.5H726.6V1464.2H724.8V1462.7H723.1V1461.6H721.3V1467.7H719.6V1468.2H716.1V1467H714.3V1464.4H712.6V1464.1H710.8V1464.4H709.1V1470.2H703.8V1469.2H702.1V1467.9H700.3V1469.7H698.6V1473.2H695.1V1471.6H693.3V1469H691.6V1470.6H689.8V1480.2H688.1V1485.2H686.3V1485.7H684.6V1486.1H682.8V1485.6H681.1V1486.5H679.3V1488.5H677.6V1506.5H675.8V1514.1H674.1V1516.2H672.3V1545.5H670.6V1552.3H665.3V1510.7H663.6V1499.2H661.8V1515.3H656.6V1500.9H654.8V1464.3H653.1V1456.6H651.3V1456.5H649.6V1456.6H647.8V1456.7H640.8V1456.6H639.1V1456.5H637.3V1456.8H635.6V1456.5H632.1V1456.7H630.3V1456.5H628.6V1456.6H626.8V1456.7H619.8V1456.6H618.1V1456.5H614.6V1456.6H611.1V1456.7H609.3V1456.6H607.6V1456.7H605.8V1456.8H604.1V1456.6H602.3V1456.5H597.1V1456.6H595.3V1456.5H593.6V1456.6H591.8V1456.7H588.3V1456.6H586.6V1456.5H581.3V1456.6H579.6V1456.7H577.8V1456.6H574.3V1456.7H570.8V1456.6H569.1V1456.7H563.8V1456.6H562.1V1456.5H558.6V1456.7H556.8V1456.6H555.1V1456.7H548.1V1456.6H546.3V1456.8H544.6V1456.6H541.1V1456.5H539.3V1456.6H537.6V1456.5H535.8V1456.8H534.1V1456.5H532.3V1456.7H530.6V1456.6H528.8V1456.7H527.1V1456.6H525.3V1456.5H520.1V1456.6H518.3V1456.7H516.6V1456.6H514.8V1456.7H513.1V1456.8H511.3V1456.6H509.6V1456.7H507.8V1456.5H506.1V1456.7H504.3V1456.5H502.6V1456.6H500.8V1456.8H499.1V1456.5H455.3V1456.6H453.6V1456.5H416.8V1456.6H415.1V1456.5H404.6V1456.6H402.8V1456.5H390.6V1456.6H388.8V1456.5H378.3V1456.6H374.8V1456.5H373.1V1456.6H366.1V1456.8H364.3V1456.9H362.6V1456.8H360.8V1456.9H359.1V1456.8H357.3V1456.9H355.6V1457.4H353.8V1458.3H352.1V1459.2H348.6V1458.8H346.8V1458.9H345.1V1458.5H343.3V1458.8H339.8V1459.2H336.3V1459.4H334.6V1460.1H332.8V1459.6H331.1V1458.7H329.3V1459.5H327.6V1463H325.8V1464.2H324.1V1463.5H322.3V1463.4H320.6V1463.8H318.8V1462H317.1V1463.5H315.3V1466.2H311.8V1466H310.1V1464.3H308.3V1463.2H306.6V1462.2H304.8V1463H303.1V1463.2H301.3V1468.1H299.6V1472.2H296.1V1470.1H294.3V1466.1H292.6V1467.9H290.8V1471.2H285.6V1476H283.8V1478.2H278.6V1473.2H276.8V1468.5H275.1V1493.5H273.3V1507.3H269.8V1506.4H268.1V1503.5H266.3V1479.2H264.6V1493.2H262.8V1522H261.1V1524.3H259.3V1551.3H257.6V1558.6H255.8V1559.3H252.3V1525.3H248.8V1524.7H247.1V1507.2H245.3V1473.4H243.6V1456.6H240.1Z" fill="#1f77b4"/>
<rect x="181.7" y="1336.8" width="1360.9" height="233.6" fill="none" stroke="#404040" stroke-width="2.60"/>
<text x="242.3" y="1606.5" font-size="24.4" text-anchor="middle" letter-spacing="-0.65">0.0</text>
<text x="489.8" y="1606.5" font-size="24.4" text-anchor="middle" letter-spacing="-0.65">0.2</text>
<text x="737.2" y="1606.5" font-size="24.4" text-anchor="middle" letter-spacing="-0.65">0.4</text>
<text x="984.6" y="1606.5" font-size="24.4" text-anchor="middle" letter-spacing="-0.65">0.6</text>
<text x="1232.1" y="1606.5" font-size="24.4" text-anchor="middle" letter-spacing="-0.65">0.8</text>
<text x="1479.5" y="1606.5" font-size="24.4" text-anchor="middle" letter-spacing="-0.65">1.0</text>
<text x="163.5" y="1374.0" font-size="24.4" text-anchor="end" letter-spacing="-0.65">2</text>
<text x="163.5" y="1463.0" font-size="24.4" text-anchor="end" letter-spacing="-0.65">0</text>
<text x="163.5" y="1552.7" font-size="24.4" text-anchor="end" letter-spacing="-0.65">−2</text>
<path d="M243.6,1570.4v8.5M491.0,1570.4v8.5M738.4,1570.4v8.5M985.9,1570.4v8.5M1233.3,1570.4v8.5M1480.7,1570.4v8.5M181.7,1365.0h-8.5M181.7,1454.0h-8.5M181.7,1543.7h-8.5" stroke="#505050" stroke-width="2.40" fill="none"/>
<text transform="translate(858.3,1874.4) scale(1,1.07)" font-size="32.5" text-anchor="middle">All Decomposed Modes</text>
<clipPath id="cb"><rect x="102.8" y="1890.7" width="1511.5" height="1050.5"/></clipPath>
<g clip-path="url(#cb)">
<path d="M167.6,2493.1H169.6V2493.3H171.5V2447.1H173.5V2404.2H177.4V2408.2H179.3V2421.1H183.2V2379.5H187.1V2403.6H189V2408.7H191V2440.2H194.9V2422.2H198.7V2429.5H200.7V2433.4H208.5V2453.7H214.3V2439.3H216.2V2437.5H220.1V2447.7H222.1V2441.7H224V2449.6H226V2447.2H227.9V2459H229.8V2462.9H231.8V2459H233.7V2458.2H235.7V2458.4H237.6V2462.3H239.6V2460.7H241.5V2453.7H245.4V2458.4H247.3V2464.9H251.2V2464.1H253.2V2455.5H257.1V2456.7H259V2463.6H260.9V2467.1H264.8V2473.1H266.8V2477.8H268.7V2476.5H270.7V2477.6H272.6V2472.6H274.5V2467.1H276.5V2463.9H278.4V2461.5H282.3V2467.6H284.3V2476.9H286.2V2477.7H288.2V2474H290.1V2473.3H292V2470.6H294V2476.5H295.9V2480.9H297.9V2481.1H299.8V2479.8H301.8V2475.7H303.7V2474.1H305.6V2472.5H307.6V2471.6H313.4V2472.8H315.4V2474.7H317.3V2475H321.2V2476.7H323.1V2479.6H325.1V2481.7H327V2482H329V2482.8H330.9V2483.3H332.9V2482.2H334.8V2481.8H336.7V2484.8H338.7V2481.8H340.6V2480.9H342.6V2479.9H344.5V2482.7H346.5V2481H348.4V2481.1H350.3V2482.2H352.3V2483H354.2V2484H356.2V2483.5H358.1V2482.4H360.1V2481.7H362V2481.6H364V2481.5H365.9V2481.6H367.8V2482.9H369.8V2483.1H371.7V2482.1H373.7V2478.4H377.6V2479.9H379.5V2483.4H381.4V2484.6H383.4V2485.2H385.3V2485.5H387.3V2485H389.2V2485.2H393.1V2486.5H395.1V2489.3H397V2489.9H398.9V2489.5H400.9V2487.6H402.8V2485.7H404.8V2487.2H406.7V2488.5H408.7V2489.4H410.6V2489.1H412.5V2488H414.5V2487.7H416.4V2489.8H418.4V2490.5H420.3V2489.5H422.3V2488.3H424.2V2486.9H426.2V2487.4H428.1V2489.4H430V2489.5H432V2488.2H433.9V2486.8H435.9V2485.9H437.8V2486.7H439.8V2489.3H441.7V2490.1H443.6V2489.9H445.6V2488.3H447.5V2487.5H449.5V2488.5H451.4V2490.2H453.4V2490.7H455.3V2490.4H457.3V2488.6H459.2V2487.8H461.1V2489.2H463.1V2490.7H465V2491H467V2490.1H468.9V2488.7H470.9V2488.1H472.8V2489.9H474.7V2490.9H476.7V2491H478.6V2489.8H480.6V2488.4H482.5V2488.5H484.5V2490.2H486.4V2491.1H488.3V2490.8H490.3V2489.5H492.2V2488.3H494.2V2489.2H496.1V2490.6H498.1V2491.3H500V2490.7H502V2489.1H503.9V2488.8H505.8V2489.8H507.8V2491.1H509.7V2491.4H511.7V2490.5H513.6V2489H515.6V2488.7H517.5V2490.1H519.4V2491.4H521.4V2491.2H523.3V2490.5H525.3V2489H527.2V2489.4H529.2V2490.7H531.1V2491.5H533.1V2491.3H535V2490.2H536.9V2489H538.9V2489.8H540.8V2491H542.8V2491.5H544.7V2491.3H546.7V2489.8H548.6V2489.1H550.5V2490.3H552.5V2491.5H554.4V2491.7H556.4V2491.1H558.3V2489.8H560.3V2489.4H562.2V2490.6H564.2V2491.6H566.1V2491.7H568V2490.8H570V2489.8H571.9V2489.9H573.9V2491.2H575.8V2491.9H577.8V2491.7H579.7V2490.7H581.6V2489.9H583.6V2490.3H585.5V2491.6H587.5V2491.9H589.4V2491.6H591.4V2490.7H593.3V2489.8H595.2V2490.8H597.2V2491.8H599.1V2492.1H601.1V2491.7H603V2490.4H605V2489.9H606.9V2491.2H608.9V2492.2H612.7V2491.5H614.7V2490.4H616.6V2490.5H618.6V2491.4H620.5V2492.3H622.5V2492.1H624.4V2491.2H626.3V2490.4H628.3V2484.8H630.2V2434.7H632.2V2404.2H634.1V2388.8H636.1V2382.8H640V2396.9H641.9V2397.5H645.8V2419.9H651.6V2433.4H655.5V2424H659.4V2431.1H661.3V2446.9H663.3V2456.3H665.2V2453.3H667.2V2456.8H669.1V2453.2H671.1V2446.9H673V2432.3H676.9V2434.1H678.8V2450.1H680.8V2455.2H682.7V2445.1H684.7V2445H686.6V2461.7H688.5V2468.8H690.5V2464.4H692.4V2470.2H694.4V2468.9H696.3V2464.8H698.3V2454.8H704.1V2459.7H706V2462.6H709.9V2454.8H711.9V2453.7H715.8V2460.8H717.7V2464.4H719.6V2463.3H721.6V2462.6H723.5V2476.1H729.4V2474H731.3V2463.8H737.1V2460.4H741V2464.1H743V2469.7H744.9V2472H746.9V2475.5H748.8V2472.8H750.7V2476H752.7V2473.6H754.6V2476.9H756.6V2481H760.5V2478.7H762.4V2477.8H764.3V2475H766.3V2475.7H768.2V2476.9H770.2V2480.4H772.1V2480.8H774.1V2476.1H776V2471.2H778V2471.4H779.9V2482.9H781.8V2482.1H783.8V2481.2H787.7V2482.9H789.6V2481.6H791.6V2478.1H793.5V2479.3H795.4V2476.5H797.4V2480.4H799.3V2482.5H801.3V2482.8H803.2V2480.8H805.2V2480.4H807.1V2479.6H809.1V2483.1H811V2486.4H812.9V2488.6H814.9V2486.9H816.8V2484.9H818.8V2485.6H820.7V2487.4H822.7V2487.5H824.6V2486.4H826.5V2484.4H828.5V2482.7H830.4V2483.3H832.4V2483.1H834.3V2484.3H836.3V2484.8H838.2V2484.5H840.2V2484.9H842.1V2487.7H844V2489.7H846V2488.8H847.9V2486.5H849.9V2483.4H851.8V2484.1H853.8V2488.2H855.7V2490.4H857.6V2489.2H859.6V2486.1H861.5V2483.3H863.5V2484.8H865.4V2488.5H867.4V2490.6H869.3V2490.9H871.2V2489.2H873.2V2488.3H875.1V2489H877.1V2490.6H879V2490.8H881V2489.7H882.9V2487.4H884.9V2486.4H886.8V2488H888.7V2488.9H892.6V2487H894.6V2484.9H896.5V2485.4H898.5V2488.7H900.4V2490.9H902.3V2491.5H904.3V2489.6H906.2V2487.5H908.2V2487.4H910.1V2489.2H912.1V2489.9H914V2489.3H916V2487.2H917.9V2485.8H919.8V2486.8H921.8V2489.2H923.7V2489.9H925.7V2489.6H927.6V2488H929.6V2487.9H931.5V2489.4H933.4V2491.2H935.4V2491.4H937.3V2490.6H939.3V2489.3H941.2V2489.4H943.2V2490.9H945.1V2491.9H947.1V2491.7H949V2490.7H950.9V2489.6H952.9V2489.9H954.8V2491.1H956.8V2491.5H958.7V2491.2H960.7V2490.1H962.6V2488.9H964.5V2489.8H966.5V2491.1H968.4V2491.5H970.4V2491H972.3V2489.4H974.3V2488.7H976.2V2490H978.2V2491.1H980.1V2491.3H982V2490.6H984V2489.3H985.9V2489H987.9V2490.5H989.8V2491.5H991.8V2491.6H993.7V2490.7H995.6V2489.7H997.6V2489.9H999.5V2491.2H1001.5V2492H1003.4V2491.6H1005.4V2490.4H1007.3V2489.5H1009.2V2490.1H1011.2V2491.4H1013.1V2492H1015.1V2491.5H1017V2490H1019V2489.6H1020.9V2490.5H1022.9V2491.6H1024.8V2491.8H1026.7V2491.3H1028.7V2489.9H1032.6V2490.8H1034.5V2491.8H1036.5V2491.9H1038.4V2490.9H1040.3V2489.9H1042.3V2490.1H1044.2V2491.2H1046.2V2491.9H1048.1V2491.8H1050.1V2490.5H1052V2489.7H1054V2490.6H1055.9V2491.9H1057.8V2492.3H1059.8V2492H1061.7V2491H1063.7V2490.3H1065.6V2491.1H1067.6V2492.1H1069.5V2492.3H1071.4V2491.7H1073.4V2490.6H1077.3V2491.4H1079.2V2492.3H1081.2V2492.2H1083.1V2491.5H1085.1V2490.5H1087V2487.8H1088.9V2461.9H1090.9V2402H1092.8V2381.1H1094.8V2379H1098.7V2406.5H1104.5V2419.9H1110.3V2433.4H1114.2V2426.7H1118.1V2449.2H1120V2450.2H1122V2452.2H1123.9V2459.3H1125.9V2459.7H1127.8V2452.5H1129.8V2448.7H1131.7V2435.7H1135.6V2439.3H1137.5V2440.7H1139.5V2440.2H1143.4V2443.6H1145.3V2460.3H1147.2V2459H1149.2V2458.2H1153.1V2458.1H1155V2456.8H1157V2455.9H1158.9V2458.4H1160.9V2458.7H1162.8V2455.9H1164.7V2462.9H1166.7V2464.9H1168.6V2454.8H1174.5V2468.4H1176.4V2474.5H1178.3V2470.8H1180.3V2473.4H1182.2V2470.5H1184.2V2475.9H1186.1V2472.7H1188.1V2469.5H1190V2469.4H1193.9V2463.3H1195.8V2461.5H1199.7V2473.9H1205.6V2468.9H1211.4V2476H1213.3V2479.8H1215.3V2482.5H1217.2V2479.8H1219.2V2477.3H1221.1V2475.5H1223.1V2473.1H1225V2471.6H1230.8V2474.9H1232.8V2478.4H1238.6V2480H1240.5V2480.7H1242.5V2482H1244.4V2483.5H1246.4V2484.1H1248.3V2483.9H1250.3V2483H1252.2V2481.6H1256.1V2481.3H1258V2481.1H1260V2481.3H1261.9V2482.3H1263.9V2482H1265.8V2483H1267.8V2485H1269.7V2486.4H1271.6V2486.8H1273.6V2486H1275.5V2484.4H1277.5V2485H1279.4V2484.9H1281.4V2483.4H1283.3V2481.8H1285.2V2481.3H1289.1V2482H1291.1V2482.2H1295V2484.6H1298.9V2485.8H1300.8V2488.1H1302.7V2489.5H1304.7V2489.7H1306.6V2488.5H1308.6V2486.5H1310.5V2486.2H1312.5V2487.4H1314.4V2489.2H1316.3V2489.1H1318.3V2487.9H1320.2V2486.2H1322.2V2486.8H1324.1V2488.8H1326.1V2489.8H1330V2488.3H1331.9V2487.2H1333.8V2487.8H1335.8V2489.7H1337.7V2490.6H1339.7V2490H1341.6V2488.4H1343.6V2487.6H1345.5V2488.1H1347.4V2488.2H1349.4V2487.6H1351.3V2488.1H1353.3V2487.1H1355.2V2487.8H1357.2V2489.6H1359.1V2491H1363V2489.8H1364.9V2488.3H1366.9V2488.8H1368.8V2490.4H1370.8V2491.2H1372.7V2491H1374.7V2489.7H1376.6V2488.9H1378.5V2489.3H1380.5V2490.9H1382.4V2491.5H1384.4V2491.2H1386.3V2489.7H1388.3V2489.2H1390.2V2490.2H1392.1V2491.2H1394.1V2491.6H1396V2491.1H1398V2489.6H1399.9V2489.1H1401.9V2490.6H1403.8V2491.5H1405.8V2491.6H1407.7V2490.5H1409.6V2489.2H1411.6V2489.4H1413.5V2490.8H1415.5V2491.7H1417.4V2491.4H1419.4V2490.4H1421.3V2489.1H1423.2V2489.9H1425.2V2491.1H1427.1V2491.7H1429.1V2491.3H1431V2490.1H1433V2489.1H1434.9V2490H1436.9V2491.3H1438.8V2491.7H1440.7V2491H1442.7V2489.7H1444.6V2489.4H1446.6V2490.3H1448.5V2491.7H1450.5V2491.8H1452.4V2490.8H1454.3V2489.6H1456.3V2489.4H1458.2V2490.9H1460.2V2491.6H1464.1V2490.7H1466V2489.4H1468V2489.8H1469.9V2491.1H1471.8V2491.7H1473.8V2491.6H1475.7V2490.1H1477.7V2489.4H1479.6V2490.4H1481.6V2491.3H1483.5V2491.7H1485.4V2491.3H1487.4V2489.8H1489.3V2489.7H1491.3V2490.7H1493.2V2491.8H1495.2V2491.7H1497.1V2491.1H1499.1V2489.7H1501V2489.6H1502.9V2491H1504.9V2491.8H1508.8V2490.5H1510.7V2489.6H1512.7V2489.8H1514.6V2491.3H1516.5V2491.9H1518.5V2491.7H1520.4V2490.3H1522.4V2489.6H1524.3V2490.2H1526.3V2491.6H1528.2V2491.7H1530.1V2491.4H1532.1V2490.2H1534V2489.7H1536V2490.5H1537.9V2491.6H1539.9V2491.8H1541.8V2491.2H1543.8V2489.9H1547.6V2504.3H1545.7V2504.4H1543.8V2502.9H1541.8V2502.3H1537.9V2503.5H1536V2504.6H1534V2504.2H1532.1V2502.8H1530.1V2502.2H1528.2V2502.5H1526.3V2504H1524.3V2504.5H1522.4V2503.6H1520.4V2502.5H1518.5V2502.4H1516.5V2502.7H1514.6V2504.1H1512.7V2504.6H1510.7V2503.4H1508.8V2502.3H1506.8V2502.2H1504.9V2503.4H1502.9V2504.5H1501V2504.4H1499.1V2503H1497.1V2502.3H1495.2V2502.4H1493.2V2503.6H1491.3V2504.8H1489.3V2504.2H1487.4V2502.8H1485.4V2502.4H1483.5V2502.8H1481.6V2504H1479.6V2504.6H1477.7V2503.8H1475.7V2502.7H1473.8V2502.4H1471.8V2502.8H1469.9V2504.2H1468V2505H1466V2503.8H1464.1V2502.6H1462.1V2502.3H1460.2V2503.4H1458.2V2504.5H1456.3V2504.6H1454.3V2503.2H1452.4V2502.3H1450.5V2502.5H1448.5V2503.8H1446.6V2504.7H1444.6V2504.6H1442.7V2502.9H1440.7V2502.5H1438.8V2502.7H1436.9V2504.2H1434.9V2505H1433V2504H1431V2502.9H1429.1V2502.5H1427.1V2503H1425.2V2504.4H1423.2V2505H1421.3V2503.9H1419.4V2502.5H1417.4V2502.4H1415.5V2503.3H1413.5V2504.6H1411.6V2504.7H1409.6V2503.5H1407.7V2502.4H1405.8V2502.5H1403.8V2503.7H1401.9V2504.9H1399.9V2504.6H1398V2503.2H1396V2502.4H1394.1V2502.7H1392.1V2504.1H1390.2V2505.2H1388.3V2504.2H1386.3V2502.9H1384.4V2502.6H1382.4V2503.1H1380.5V2504.6H1378.5V2505.2H1376.6V2503.9H1374.7V2502.7H1372.7V2502.5H1370.8V2503.2H1368.8V2504.9H1366.9V2505H1364.9V2503.7H1363V2502.6H1361.1V2502.5H1359.1V2503.5H1357.2V2504.9H1355.2V2504.7H1353.3V2503.3H1351.3V2503H1347.4V2504.1H1345.5V2504.9H1343.6V2504.2H1341.6V2503H1339.7V2502.6H1337.7V2503H1335.8V2504.4H1333.8V2505.1H1331.9V2504.1H1330V2503.1H1328V2503.2H1326.1V2504.8H1324.1V2507.5H1322.2V2508.2H1320.2V2507.7H1318.3V2505.6H1316.3V2504.1H1314.4V2504.8H1312.5V2506.2H1310.5V2506.1H1308.6V2504.5H1306.6V2503.8H1304.7V2504.1H1302.7V2506.1H1300.8V2507.9H1298.9V2507.8H1295V2509.5H1293V2509.8H1291.1V2510.6H1287.2V2510.4H1285.2V2509H1283.3V2507.2H1281.4V2506.7H1279.4V2507.9H1277.5V2508.2H1275.5V2506.7H1273.6V2506H1271.6V2505.9H1269.7V2507.5H1267.8V2509.8H1265.8V2511.3H1263.9V2511.2H1261.9V2511.8H1260V2511.1H1258V2511.3H1256.1V2511.2H1254.2V2510.7H1252.2V2509.8H1250.3V2509.4H1248.3V2508.8H1246.4V2509.9H1244.4V2511H1242.5V2511.1H1240.5V2509H1238.6V2511.7H1236.7V2511.5H1234.7V2515.7H1232.8V2522.5H1226.9V2520.7H1225V2514.3H1223.1V2511.8H1221.1V2512.5H1219.2V2515.4H1217.2V2515.8H1215.3V2518.2H1213.3V2520.7H1211.4V2521.3H1209.4V2520.5H1207.5V2519.9H1205.6V2518.9H1203.6V2521.4H1201.7V2525.3H1199.7V2527H1195.8V2523.6H1193.9V2520.7H1192V2517.1H1190V2517.3H1188.1V2513H1186.1V2516.9H1184.2V2514.8H1182.2V2518.7H1180.3V2516.3H1178.3V2519.8H1176.4V2529.5H1174.5V2539.8H1170.6V2530.4H1164.7V2534.8H1162.8V2539.4H1158.9V2530.6H1157V2531.6H1155V2532.6H1149.2V2533.3H1147.2V2534.3H1145.3V2539H1143.4V2547.2H1137.5V2554H1135.6V2543.9H1133.6V2552.1H1131.7V2550.2H1129.8V2541.6H1123.9V2540.6H1122V2539.6H1120V2542.5H1118.1V2549.1H1116.2V2570.8H1112.3V2572.1H1110.3V2574.2H1106.4V2577.6H1104.5V2579.8H1098.7V2595.6H1096.7V2587.2H1094.8V2591.4H1092.8V2586H1090.9V2523.6H1088.9V2506.5H1087V2503.7H1085.1V2502.5H1083.1V2501.8H1079.2V2502.6H1077.3V2503.8H1075.3V2503.5H1073.4V2502.3H1071.4V2501.8H1069.5V2501.9H1067.6V2503H1065.6V2504H1063.7V2503.3H1061.7V2502.1H1059.8V2501.8H1057.8V2502.2H1055.9V2503.2H1054V2503.5H1052V2502.6H1050.1V2501.7H1048.1V2501.4H1046.2V2502.2H1044.2V2503.3H1042.3V2503.4H1040.3V2502.4H1038.4V2501.6H1034.5V2502.4H1032.6V2503.4H1030.6V2503.2H1028.7V2502.3H1026.7V2501.6H1024.8V2501.8H1022.9V2502.8H1020.9V2503.7H1019V2503.3H1017V2502H1015.1V2501.7H1013.1V2502.1H1011.2V2503.2H1009.2V2503.9H1007.3V2503H1005.4V2501.9H1003.4V2501.7H1001.5V2502.4H999.5V2503.6H997.6V2503.8H995.6V2502.9H993.7V2502.2H991.8V2502.3H989.8V2503.2H987.9V2504.5H985.9V2504.4H984V2503H982V2502.4H980.1V2502.7H978.2V2504H976.2V2504.8H974.3V2504.6H972.3V2503H970.4V2502.6H968.4V2502.9H966.5V2504.2H964.5V2505H962.6V2504.2H960.7V2502.9H958.7V2502.5H956.8V2503.3H954.8V2504.7H952.9V2505.1H950.9V2504.1H949V2502.9H945.1V2503.8H943.2V2505.4H941.2V2505.2H939.3V2504H937.3V2502.9H935.4V2503.1H933.4V2504.6H931.5V2505.6H929.6V2505H927.6V2503.5H925.7V2502.7H923.7V2503.2H921.8V2504.4H919.8V2505.1H917.9V2504.2H916V2502.9H914V2502.7H912.1V2503.3H910.1V2505.1H908.2V2506H906.2V2504.7H904.3V2503.6H902.3V2503.9H900.4V2505.1H898.5V2507.3H896.5V2507.1H894.6V2505.4H892.6V2504.3H890.7V2504.2H888.7V2505.9H886.8V2507.3H884.9V2506.6H882.9V2504.6H881V2503.9H879V2504H877.1V2505.9H875.1V2506.5H873.2V2505.6H871.2V2503.8H869.3V2503.2H867.4V2504.5H865.4V2507.9H863.5V2509.5H861.5V2507.6H859.6V2505.2H857.6V2504.5H855.7V2505.4H853.8V2506.8H851.8V2506H849.9V2504.7H847.9V2503.1H846V2502.7H844V2504.6H842.1V2506.5H840.2V2506.9H838.2V2506.6H836.3V2507.4H834.3V2508H832.4V2509.5H830.4V2510.6H826.5V2507H824.6V2504.6H822.7V2504.3H820.7V2506.1H818.8V2507.2H816.8V2506.2H814.9V2505.3H812.9V2512.9H811V2517.4H809.1V2515.6H807.1V2512.4H805.2V2511.8H803.2V2511.5H801.3V2517.8H799.3V2518H797.4V2514.2H795.4V2510.5H793.5V2509.5H791.6V2510.1H789.6V2510.8H787.7V2509.4H785.7V2508.6H783.8V2507.7H781.8V2510.4H779.9V2514.9H778V2515H776V2513.3H774.1V2514.6H772.1V2516.4H770.2V2514.6H768.2V2515.7H766.3V2513.7H764.3V2518H762.4V2513.5H760.5V2512.2H758.5V2510.7H756.6V2515.8H754.6V2520.4H752.7V2516.7H750.7V2518.5H748.8V2516.9H746.9V2521.4H744.9V2526.2H743V2528.1H739.1V2525.9H737.1V2524.5H735.2V2524.1H733.2V2523.7H731.3V2521.8H729.4V2520H725.5V2520.7H723.5V2518.9H721.6V2519.4H719.6V2521.4H717.7V2532.8H715.8V2539.4H711.9V2530.4H706V2537.1H700.2V2525.6H698.3V2524.8H696.3V2524H694.4V2524.8H692.4V2527.2H690.5V2529.5H688.5V2534.5H686.6V2541.1H684.7V2541.6H680.8V2542.8H678.8V2559.6H674.9V2557H673V2543.9H671.1V2542.4H669.1V2538.7H667.2V2535.6H665.2V2542.2H663.3V2535.9H661.3V2546.9H659.4V2573.1H653.6V2571.9H651.6V2570.8H647.7V2582.5H645.8V2563.9H643.8V2564.4H641.9V2564.3H640V2591.6H638V2593.3H634.1V2565.6H632.2V2528.9H630.2V2509.7H628.3V2503.7H626.3V2502.8H624.4V2502H622.5V2501.9H620.5V2502.5H618.6V2503.8H614.7V2502.6H612.7V2501.9H610.8V2502H608.9V2503.2H606.9V2504.2H605V2503.7H603V2502.5H601.1V2501.9H599.1V2502.3H597.2V2503.3H595.2V2504.2H593.3V2503.6H591.4V2502.4H589.4V2502.2H587.5V2502.5H585.5V2503.9H583.6V2504.4H581.6V2503.5H579.7V2502.4H577.8V2502.2H575.8V2503.1H573.9V2504.4H571.9V2504.5H570V2503.2H568V2502.3H564.2V2503.5H562.2V2504.8H560.3V2504.3H558.3V2503H556.4V2502.5H554.4V2502.8H552.5V2503.8H550.5V2505.1H548.6V2504.2H546.7V2503H544.7V2502.5H542.8V2503H540.8V2504.3H538.9V2505H536.9V2504.1H535V2502.7H533.1V2502.6H531.1V2503.5H529.2V2504.8H527.2V2505H525.3V2503.6H523.3V2502.8H519.4V2504.1H517.5V2505.4H515.6V2505.1H513.6V2503.6H511.7V2502.7H509.7V2503.2H507.8V2504.5H505.8V2505.7H503.9V2504.8H502V2503.4H500V2502.8H498.1V2503.3H496.1V2505H494.2V2505.9H492.2V2504.7H490.3V2503.2H488.3V2502.9H486.4V2503.7H484.5V2505.3H482.5V2505.7H480.6V2504.3H478.6V2503.3H476.7V2503.1H474.7V2504.3H472.8V2505.9H470.9V2505.7H468.9V2504.2H467V2503.3H465V2503.5H463.1V2504.9H461.1V2506.4H459.2V2505.3H457.3V2503.6H455.3V2501.8H453.4V2502.7H451.4V2504.4H449.5V2504.9H447.5V2504H445.6V2502.8H443.6V2502.4H441.7V2503.1H439.8V2505H437.8V2505.6H435.9V2504.7H433.9V2504.1H432V2503.7H430V2505.2H428.1V2506.6H426.2V2505.9H424.2V2503.6H422.3V2502.5H420.3V2502.2H418.4V2503H416.4V2504.5H414.5V2504.8H412.5V2503.6H410.6V2503.4H408.7V2504.6H406.7V2506.2H404.8V2507H402.8V2505.5H400.9V2503.9H398.9V2503.3H397V2504.5H395.1V2506.6H393.1V2507.5H391.2V2506.7H389.2V2506.1H387.3V2505.4H385.3V2505.3H383.4V2506.1H381.4V2507.5H379.5V2509.4H377.6V2509.5H375.6V2508.1H373.7V2509H369.8V2508.4H367.8V2507.5H365.9V2507.1H364V2506.3H362V2506.8H360.1V2507.6H358.1V2507.7H356.2V2507.8H354.2V2508.3H352.3V2509.5H350.3V2511.8H348.4V2513.8H346.5V2513.7H344.5V2511.4H342.6V2510.9H340.6V2514.6H338.7V2511.1H336.7V2513.3H334.8V2512.4H332.9V2511.4H329V2512.5H327V2513.3H325.1V2513.4H323.1V2510.8H321.2V2512.3H319.3V2514.6H317.3V2517.5H315.4V2521.4H309.5V2520H307.6V2518H305.6V2516.1H303.7V2511.9H301.8V2514.5H299.8V2517.5H297.9V2516.7H295.9V2515.6H294V2519.2H292V2514.6H290.1V2517.7H288.2V2521.2H286.2V2523.1H284.3V2525.5H282.3V2526.6H280.4V2518.9H278.4V2521.9H276.5V2523.7H274.5V2518.3H272.6V2518H270.7V2519.8H268.7V2518H266.8V2515.2H264.8V2516.1H262.9V2518.9H260.9V2523.6H259V2543.4H255.1V2527H253.2V2524H251.2V2522.9H249.3V2528H247.3V2542.8H243.4V2532.6H241.5V2526.6H239.6V2522.1H237.6V2523.1H235.7V2521.6H233.7V2521.5H231.8V2528.1H229.8V2535.1H227.9V2544H226V2534.4H224V2540.4H222.1V2551.2H220.1V2560.7H216.2V2554.2H214.3V2542.8H212.3V2537.4H210.4V2535.1H208.5V2532.1H206.5V2538.3H204.6V2538.7H202.6V2542.8H200.7V2574.2H194.9V2556.5H192.9V2556.9H191V2557.3H189V2620.3H185.1V2617.6H183.2V2582.1H179.3V2575.8H177.4V2561.9H171.5V2501.1H169.6V2501.4H167.6Z" fill="#1f77b4"/>
<path d="M167.6,2493.2H169.6V2488.8H171.5V2398.9H173.5V2345H179.3V2360.5H185.1V2355.3H187.1V2353.9H189V2358.6H191V2363.6H192.9V2366.2H194.9V2375.9H196.8V2379H198.7V2395.3H200.7V2406.4H202.6V2414.7H208.5V2430.7H210.4V2439.4H214.3V2424H220.1V2433.9H222.1V2454.7H224V2472.7H226V2480.8H227.9V2471.2H229.8V2453.2H231.8V2448.8H233.7V2445.6H235.7V2442.4H237.6V2440.6H239.6V2440.1H241.5V2441.9H243.4V2452.8H245.4V2469H247.3V2480.3H249.3V2468.3H251.2V2460.3H253.2V2458.9H255.1V2458.2H257.1V2458.9H259V2459.8H260.9V2465.9H262.9V2472H266.8V2469.9H268.7V2468.1H270.7V2466.5H272.6V2465.6H274.5V2463.7H276.5V2461.3H278.4V2463.4H282.3V2462.6H284.3V2462.5H286.2V2464.8H288.2V2462H290.1V2461.3H292V2470.3H294V2475.2H295.9V2470.7H297.9V2468.9H301.8V2471.5H303.7V2480.6H305.6V2481.5H307.6V2476.6H309.5V2471.8H311.5V2469.6H313.4V2468.5H315.4V2467.5H317.3V2470.3H319.3V2470.2H321.2V2473.3H323.1V2474.6H327V2477.6H329V2477.3H330.9V2478.5H332.9V2479.8H334.8V2480H336.7V2479.7H338.7V2481H340.6V2482.4H342.6V2483H344.5V2480.4H346.5V2479.7H348.4V2476.6H350.3V2478H352.3V2476.6H354.2V2478.4H356.2V2476.6H358.1V2479.4H360.1V2483.4H362V2486.7H364V2488.7H365.9V2490.5H369.8V2490H371.7V2489.5H373.7V2489.1H375.6V2489.5H377.6V2488.4H379.5V2488H381.4V2487.5H383.4V2488.3H385.3V2489.1H387.3V2488.8H389.2V2488.6H391.2V2487.8H393.1V2486.6H395.1V2485.3H397V2486.3H398.9V2485.8H402.8V2487.6H404.8V2489.8H406.7V2491.9H408.7V2491H410.6V2490.4H412.5V2488.6H414.5V2487.9H416.4V2486.1H418.4V2486.8H420.3V2487.1H422.3V2486.9H424.2V2487.5H426.2V2487.7H428.1V2489.1H430V2490.4H432V2485.6H433.9V2481.2H439.8V2484.2H441.7V2487.4H443.6V2490.6H445.6V2491.3H447.5V2492H449.5V2492.4H453.4V2491.8H455.3V2492H457.3V2492.3H459.2V2492.1H461.1V2492H463.1V2491.6H465V2491.8H467V2491.6H468.9V2491.3H470.9V2491.2H472.8V2491.4H474.7V2490.9H476.7V2490.6H478.6V2490.9H482.5V2490.5H484.5V2490.9H486.4V2491H488.3V2490.5H490.3V2491.2H492.2V2491.3H494.2V2491.7H496.1V2492.2H498.1V2492.6H500V2492.7H502V2492.8H503.9V2492.7H505.8V2492.9H507.8V2492.8H509.7V2492.7H511.7V2492.5H513.6V2492.3H515.6V2492.6H519.4V2492.5H521.4V2492H523.3V2492.3H525.3V2492H527.2V2492.3H529.2V2492.1H531.1V2492.2H533.1V2491.9H538.9V2491.6H540.8V2491.5H542.8V2491.9H544.7V2491.8H548.6V2491.9H550.5V2492.2H554.4V2492.1H556.4V2492.2H558.3V2492.3H560.3V2492H564.2V2492.4H566.1V2492.1H570V2492.2H573.9V2492.1H575.8V2492H579.7V2492.1H581.6V2491.9H583.6V2492.1H585.5V2492.2H587.5V2492H589.4V2491.8H593.3V2491.9H595.2V2491.7H597.2V2491.8H599.1V2491.9H601.1V2491.6H603V2491.5H605V2492H606.9V2492.1H608.9V2491.8H610.8V2492.2H612.7V2492.1H614.7V2492.4H616.6V2492.3H618.6V2492.7H620.5V2492.5H622.5V2492.9H624.4V2492.8H626.3V2474.6H628.3V2431.3H630.2V2356.3H632.2V2332.7H636.1V2362.1H640V2343.5H643.8V2354.8H645.8V2398.6H647.7V2406.8H649.7V2405.4H651.6V2407H653.6V2412.7H655.5V2405.4H657.4V2430.7H659.4V2442H661.3V2454.8H663.3V2443.8H665.2V2424H671.1V2434.2H673V2439.4H674.9V2428.6H680.8V2455H682.7V2476.5H684.7V2459.9H686.6V2451.3H688.5V2450.2H690.5V2449.1H692.4V2447.7H694.4V2446.1H696.3V2444.4H698.3V2444.1H702.2V2456.7H704.1V2470.1H706V2474.9H708V2466.7H709.9V2462.1H711.9V2461H713.8V2460H715.8V2463.6H717.7V2469.9H719.6V2473.7H721.6V2475.7H723.5V2471.2H725.5V2469.2H727.4V2469.9H729.4V2469.6H731.3V2465.5H733.2V2461.5H735.2V2461.2H737.1V2461.3H739.1V2459H741V2458.7H743V2462H744.9V2464.3H746.9V2462.8H748.8V2466H750.7V2469.7H752.7V2470.9H754.6V2473H756.6V2475.7H758.5V2479H760.5V2482.2H762.4V2482.8H764.3V2482.4H766.3V2479.8H768.2V2476.3H770.2V2471.6H772.1V2472.4H774.1V2471.6H776V2472.7H778V2472.4H779.9V2473.9H781.8V2474.2H783.8V2473.4H785.7V2477.8H787.7V2480H789.6V2481.3H791.6V2483.8H793.5V2484.6H795.4V2484.7H797.4V2484.5H799.3V2482.9H801.3V2482.2H803.2V2482.7H805.2V2480.8H807.1V2480.3H809.1V2479.6H811V2478.2H812.9V2479.7H814.9V2480.8H816.8V2483.2H818.8V2482.9H820.7V2485.6H822.7V2488H824.6V2490.1H826.5V2492H828.5V2491H830.4V2490.4H832.4V2488.9H834.3V2488.2H836.3V2487H838.2V2486.3H840.2V2487.9H842.1V2489.7H844V2490.4H846V2489.5H847.9V2489.1H849.9V2487.8H851.8V2486.7H853.8V2485.5H855.7V2487.3H857.6V2488H859.6V2488.3H861.5V2488.8H863.5V2489.8H865.4V2490.6H867.4V2491.1H869.3V2491.7H873.2V2490.2H875.1V2488.6H877.1V2485.8H879V2487H881V2489.4H882.9V2491.8H884.9V2492.5H886.8V2493.1H888.7V2493.2H890.7V2490.3H892.6V2487.1H894.6V2484.6H896.5V2486.2H898.5V2487.8H900.4V2489.2H902.3V2490.5H904.3V2491.1H906.2V2491.9H908.2V2492.2H910.1V2492.4H912.1V2492.3H914V2492.4H916V2492.7H917.9V2492.6H919.8V2492.8H923.7V2492.6H925.7V2492.8H927.6V2492.9H929.6V2492.6H933.4V2492H935.4V2492.1H937.3V2491.7H939.3V2491.3H941.2V2490.7H943.2V2490.9H945.1V2491.3H947.1V2491.5H949V2491.8H952.9V2492H956.8V2492.3H958.7V2492.6H960.7V2492.8H962.6V2492.6H964.5V2493H966.5V2492.9H968.4V2493H970.4V2493.2H985.9V2493.1H987.9V2493.2H989.8V2493.1H991.8V2492.9H993.7V2492.7H997.6V2492.3H999.5V2492.1H1001.5V2492.3H1003.4V2492.1H1005.4V2492.4H1007.3V2492.2H1009.2V2492.5H1013.1V2492.4H1017V2492.2H1019V2492.1H1020.9V2492.2H1022.9V2492.1H1024.8V2492.6H1026.7V2492.7H1030.6V2492.8H1032.6V2492.9H1036.5V2493.1H1038.4V2493.2H1040.3V2493.1H1042.3V2493.2H1085.1V2477.3H1087V2420.4H1088.9V2345H1092.8V2353.2H1094.8V2371.4H1096.7V2358.2H1098.7V2338.9H1102.5V2364H1104.5V2419.9H1106.4V2415.4H1108.4V2411.6H1110.3V2408.5H1116.2V2431.1H1118.1V2448.3H1120V2456.1H1122V2432.4H1123.9V2428.6H1127.8V2431.7H1129.8V2445H1131.7V2434.1H1133.6V2433.3H1137.5V2445.2H1139.5V2462H1141.4V2476.5H1143.4V2458.6H1145.3V2454.7H1147.2V2455.3H1149.2V2452.5H1151.1V2451.8H1153.1V2450.2H1155V2448.3H1157V2448.1H1160.9V2470.5H1162.8V2474.1H1164.7V2474.6H1166.7V2468.5H1168.6V2462.7H1170.6V2462.8H1172.5V2465.7H1174.5V2462.7H1176.4V2470H1178.3V2475.6H1180.3V2473.4H1182.2V2471.3H1184.2V2471.4H1186.1V2469.3H1188.1V2469.8H1190V2466.9H1192V2465.9H1193.9V2464.2H1195.8V2466.2H1197.8V2465.7H1199.7V2466.8H1201.7V2466H1203.6V2466.4H1205.6V2464.2H1207.5V2472H1209.4V2478.5H1211.4V2475.8H1213.3V2473.5H1217.2V2477.5H1219.2V2483.8H1221.1V2482.7H1223.1V2481.9H1225V2479.1H1226.9V2477.5H1228.9V2475.1H1230.8V2475.8H1232.8V2476.4H1234.7V2477.1H1236.7V2476.3H1238.6V2477H1240.5V2476.4H1242.5V2478.3H1244.4V2476.8H1246.4V2478.7H1248.3V2481.1H1250.3V2482H1252.2V2483.6H1254.2V2485H1256.1V2484H1258V2482.8H1260V2482.4H1261.9V2482.1H1263.9V2479.8H1265.8V2481.4H1267.8V2480.7H1269.7V2481.5H1271.6V2481.1H1275.5V2484H1277.5V2485.3H1279.4V2487.6H1281.4V2489.3H1283.3V2491.1H1285.2V2492H1287.2V2491.4H1289.1V2491.3H1291.1V2490.7H1293V2490.2H1295V2489.1H1296.9V2490.4H1298.9V2491.1H1300.8V2491.7H1302.7V2491.6H1304.7V2490.4H1306.6V2489.2H1308.6V2487.6H1310.5V2486.2H1312.5V2487.1H1314.4V2488.2H1316.3V2489.2H1318.3V2490.5H1320.2V2491.2H1322.2V2492.1H1324.1V2492.2H1328V2492.1H1330V2491.2H1331.9V2489.5H1333.8V2487.6H1335.8V2486.2H1337.7V2488.1H1339.7V2490.4H1341.6V2491.6H1343.6V2490.8H1345.5V2489H1347.4V2487.1H1349.4V2485.3H1355.2V2485.5H1357.2V2488.3H1359.1V2489.8H1361.1V2491.4H1363V2492.2H1364.9V2492.8H1366.9V2492.9H1370.8V2493.2H1382.4V2492.9H1384.4V2492.8H1386.3V2492.7H1388.3V2492.1H1392.1V2491.8H1394.1V2491.6H1396V2491.3H1398V2491.1H1399.9V2490.6H1401.9V2491.1H1403.8V2491H1405.8V2491.4H1407.7V2491.5H1409.6V2491.7H1411.6V2492H1413.5V2492.3H1415.5V2492.4H1419.4V2492.8H1421.3V2492.6H1423.2V2492.7H1425.2V2492.9H1429.1V2492.8H1431V2492.9H1433V2492.8H1436.9V2492.4H1438.8V2492.5H1440.7V2492.4H1442.7V2492.7H1444.6V2492.6H1448.5V2492.4H1450.5V2492.3H1452.4V2492.2H1454.3V2492.1H1456.3V2492.3H1460.2V2492.4H1462.1V2491.9H1464.1V2492H1466V2492.2H1468V2492H1473.8V2491.8H1475.7V2491.9H1477.7V2491.5H1479.6V2492H1481.6V2491.9H1483.5V2492.3H1485.4V2492.2H1487.4V2492.5H1489.3V2492.6H1491.3V2492.8H1493.2V2492.7H1495.2V2493.1H1497.1V2492.8H1499.1V2493H1502.9V2493.1H1504.9V2492.8H1506.8V2492.7H1508.8V2492.4H1510.7V2492.1H1512.7V2491.9H1514.6V2491.8H1516.5V2491.5H1518.5V2491.9H1520.4V2491.8H1522.4V2492H1528.2V2492.2H1534V2492.4H1536V2492.7H1537.9V2492.6H1539.9V2492.8H1541.8V2492.9H1543.8V2492.6H1545.7V2492.7H1547.6V2501.5H1545.7V2501.4H1543.8V2501.6H1541.8V2501.7H1537.9V2501.8H1534V2502.1H1532.1V2502.2H1530.1V2502H1528.2V2501.9H1526.3V2502.4H1522.4V2502.2H1520.4V2502.3H1518.5V2502.7H1516.5V2502.5H1514.6V2501.9H1512.7V2502H1510.7V2501.7H1508.8V2501.6H1506.8V2501.5H1504.9V2501.3H1502.9V2501H1501V2501.3H1499.1V2501.2H1497.1V2501.1H1495.2V2501.3H1493.2V2501.5H1491.3V2501.7H1489.3V2502.1H1485.4V2502.3H1483.5V2502.4H1479.6V2502.8H1477.7V2502.3H1475.7V2502.6H1473.8V2502.3H1471.8V2502.6H1469.9V2502.4H1468V2502.2H1464.1V2502H1462.1V2501.9H1456.3V2502.1H1454.3V2502H1450.5V2501.6H1448.5V2501.7H1446.6V2501.8H1444.6V2501.9H1442.7V2501.6H1440.7V2501.5H1438.8V2501.7H1436.9V2501.6H1434.9V2501.5H1433V2501.6H1429.1V2501.3H1427.1V2501.4H1425.2V2501.2H1423.2V2501.6H1421.3V2501.4H1419.4V2501.8H1417.4V2501.9H1413.5V2502.2H1411.6V2502.3H1409.6V2502.5H1407.7V2502.9H1401.9V2503.7H1399.9V2503.2H1398V2503.1H1396V2502.7H1394.1V2502.2H1392.1V2502H1390.2V2502.1H1388.3V2501.6H1386.3V2501.3H1384.4V2501.2H1382.4V2501.1H1380.5V2500.8H1374.7V2500.9H1372.7V2501.2H1370.8V2501.3H1368.8V2501.5H1364.9V2501.6H1363V2502.8H1361.1V2504.3H1359.1V2506.2H1357.2V2508.7H1355.2V2509H1351.3V2508.9H1349.4V2507.1H1347.4V2505.2H1345.5V2503.5H1343.6V2503.2H1341.6V2505H1339.7V2506.6H1337.7V2508.6H1335.8V2507.4H1333.8V2505.3H1331.9V2503.7H1330V2502.8H1328V2502.3H1326.1V2502.8H1322.2V2503.4H1320.2V2504.7H1318.3V2505.7H1316.3V2506.5H1314.4V2508.1H1312.5V2508.7H1310.5V2506.9H1308.6V2505.7H1306.6V2504.3H1304.7V2503.3H1302.7V2502.8H1300.8V2503.7H1298.9V2505H1296.9V2505.8H1295V2505H1293V2504H1291.1V2503.9H1289.1V2503.5H1287.2V2503.1H1285.2V2503.8H1283.3V2505.2H1281.4V2507.3H1279.4V2509.7H1277.5V2511.2H1275.5V2513.7H1273.6V2512.5H1271.6V2512.9H1269.7V2513.2H1267.8V2514.3H1265.8V2515H1263.9V2513.2H1261.9V2512.9H1260V2511.2H1258V2511.6H1256.1V2510.3H1254.2V2511.3H1252.2V2512.1H1250.3V2513.7H1248.3V2516.2H1246.4V2518.1H1244.4V2517H1242.5V2518H1240.5V2517.2H1238.6V2517.3H1236.7V2518.9H1234.7V2518H1232.8V2519.2H1230.8V2519.8H1228.9V2517.4H1226.9V2515H1225V2514.3H1223.1V2512H1221.1V2511H1219.2V2517.3H1217.2V2521.3H1213.3V2519H1211.4V2516.3H1209.4V2522.9H1207.5V2530.6H1205.6V2529H1203.6V2529.8H1201.7V2529.6H1199.7V2528.4H1197.8V2528.3H1195.8V2530.6H1193.9V2527.3H1192V2528.6H1190V2527H1188.1V2524.8H1186.1V2524.2H1184.2V2523.6H1182.2V2521.4H1180.3V2519.2H1178.3V2524.9H1176.4V2532.2H1174.5V2530H1172.5V2529.7H1170.6V2532.2H1168.6V2526.3H1166.7V2520.2H1164.7V2520.7H1162.8V2524.3H1160.9V2546.7H1157V2546.5H1155V2544.6H1153.1V2540H1151.1V2540.3H1149.2V2539H1147.2V2542.3H1145.3V2536.2H1143.4V2518.3H1141.4V2532.9H1139.5V2549.7H1137.5V2561.6H1133.6V2560.7H1131.7V2549.9H1129.8V2563.1H1127.8V2566.2H1123.9V2562.4H1122V2538.8H1120V2546.5H1118.1V2563.8H1116.2V2586.4H1110.3V2583.3H1108.4V2579.5H1106.4V2575H1104.5V2630.9H1102.5V2656H1098.7V2636.6H1096.7V2623.5H1094.8V2641.7H1092.8V2649.8H1088.9V2574.5H1087V2517.6H1085.1V2501.2H1081.2V2500.9H1075.3V2501.1H1073.4V2501.2H1071.4V2501H1067.6V2501.1H1065.6V2501.2H1063.7V2501.1H1059.8V2501H1057.8V2501.2H1055.9V2500.8H1032.6V2500.9H1028.7V2501.1H1026.7V2501.2H1024.8V2501.5H1022.9V2501.2H1020.9V2501.3H1019V2501.2H1017V2501.5H1015.1V2501.3H1013.1V2501.4H1009.2V2501.2H1005.4V2501.4H1003.4V2501.5H999.5V2501.3H997.6V2501H993.7V2500.8H962.6V2501.1H958.7V2501.3H956.8V2501.6H954.8V2501.5H952.9V2502H950.9V2502.2H949V2502.3H947.1V2502.6H945.1V2502.8H943.2V2502.9H941.2V2502.2H939.3V2502.1H937.3V2501.7H935.4V2501.3H933.4V2501.1H929.6V2500.8H927.6V2500.9H925.7V2500.8H923.7V2501H917.9V2501.1H916V2501H914V2501.2H910.1V2501.4H908.2V2501.7H906.2V2502.5H904.3V2503.2H902.3V2504.4H900.4V2505.8H898.5V2507.4H896.5V2509H894.6V2506.5H892.6V2503.3H890.7V2500.8H886.8V2501.1H884.9V2501.8H882.9V2504.2H881V2506.6H879V2507.8H877.1V2505.4H875.1V2503.8H873.2V2501.9H871.2V2502H869.3V2502.5H867.4V2502.9H865.4V2503.8H863.5V2504.8H861.5V2505.6H859.6V2505.8H857.6V2506.6H855.7V2508.1H853.8V2506.8H851.8V2505.8H849.9V2505H847.9V2503.8H846V2503.2H844V2504.2H842.1V2505.4H840.2V2507.3H838.2V2506.8H836.3V2505.7H834.3V2504.8H832.4V2503.5H830.4V2502.4H828.5V2501.6H826.5V2503.2H824.6V2505.8H822.7V2507.3H820.7V2510.7H818.8V2511H816.8V2512.4H814.9V2513.2H812.9V2515.4H811V2513.7H807.1V2513H805.2V2511.6H803.2V2510.7H799.3V2509.8H797.4V2509.7H795.4V2509.5H793.5V2509.8H791.6V2512.4H789.6V2514H787.7V2516.4H785.7V2520.2H783.8V2519.3H779.9V2520.1H778V2520.4H776V2520.8H774.1V2522.9H772.1V2522H770.2V2518H768.2V2514.7H766.3V2511.2H764.3V2510.8H762.4V2511.4H760.5V2514.6H758.5V2517.9H756.6V2520.5H754.6V2522.3H752.7V2524.5H750.7V2525.8H748.8V2529.9H746.9V2528.2H744.9V2529.9H743V2532.7H741V2530.3H739.1V2530.2H737.1V2528.9H735.2V2529.7H733.2V2526.3H731.3V2522.9H729.4V2522.8H727.4V2523.5H725.5V2522H723.5V2518.4H721.6V2520.5H719.6V2524.3H717.7V2529.7H715.8V2532.7H713.8V2531.6H711.9V2530.6H709.9V2526.4H708V2519.2H706V2524.2H704.1V2536.9H702.2V2548.6H698.3V2548.1H696.3V2546H694.4V2543.8H692.4V2542H690.5V2540.9H688.5V2539.9H686.6V2532.2H684.7V2517.7H682.7V2533.4H680.8V2552.8H678.8V2564.1H674.9V2557.9H673V2561.5H671.1V2567.2H667.2V2558.3H665.2V2545.1H663.3V2534.3H661.3V2552.5H659.4V2566H657.4V2580.9H655.5V2590.1H653.6V2589.4H651.6V2587.3H649.7V2578.3H647.7V2599.5H645.8V2653.8H641.9V2653H640V2632.2H638V2648.6H636.1V2663.1H632.2V2649.6H630.2V2579.8H628.3V2518H626.3V2501.5H624.4V2501.3H622.5V2501.7H620.5V2501.9H618.6V2502H616.6V2501.8H614.7V2502H612.7V2501.9H610.8V2502.1H608.9V2502.3H606.9V2502.5H605V2502.7H603V2502.6H601.1V2502.4H597.2V2502.5H595.2V2502.3H593.3V2502.1H591.4V2502.2H587.5V2502.1H585.5V2502H583.6V2502.2H581.6V2502.1H579.7V2501.9H577.8V2501.8H575.8V2502H573.9V2501.8H571.9V2501.9H570V2501.8H568V2502.2H566.1V2502H562.2V2501.9H560.3V2502.3H558.3V2502.1H556.4V2502.3H554.4V2502.1H552.5V2502.2H550.5V2502.4H548.6V2502.2H546.7V2502.5H542.8V2502.8H540.8V2502.5H538.9V2502.3H536.9V2502.6H535V2502.1H533.1V2502.5H531.1V2502H529.2V2502.1H527.2V2502.2H525.3V2502.1H519.4V2501.7H517.5V2501.6H515.6V2501.8H513.6V2501.9H511.7V2501.5H509.7V2501.4H505.8V2501.5H503.9V2501.4H502V2501.5H500V2501.7H498.1V2501.9H496.1V2502.3H494.2V2503H492.2V2503.1H490.3V2503.7H488.3V2503.2H486.4V2503.6H484.5V2503.1H482.5V2503.3H480.6V2503.4H478.6V2503.6H476.7V2502.9H474.7V2502.7H472.8V2502.6H470.9V2502.4H468.9V2502.2H467V2502.3H465V2502.2H463.1V2501.7H461.1V2501.8H459.2V2501.3H457.3V2501.6H455.3V2502H453.4V2501.7H451.4V2501.8H449.5V2502.1H447.5V2503H445.6V2503.7H443.6V2506.8H441.7V2510H439.8V2513H433.9V2508.7H432V2503.8H430V2505.2H428.1V2506.5H426.2V2506.2H424.2V2506.3H422.3V2506.6H420.3V2506.9H418.4V2507.5H416.4V2505.5H414.5V2504.4H412.5V2503.5H410.6V2502.4H408.7V2501.7H406.7V2504.1H404.8V2506.5H402.8V2508.3H400.9V2508.2H398.9V2508.3H395.1V2507.6H393.1V2506.1H391.2V2505.6H389.2V2505.4H387.3V2505.1H385.3V2505.4H383.4V2506.8H381.4V2505.9H379.5V2505.8H377.6V2504.8H375.6V2505.1H373.7V2504.3H371.7V2504.1H369.8V2503.8H367.8V2503.7H365.9V2505.5H364V2507.5H362V2510.8H360.1V2514.9H358.1V2517.6H356.2V2517H354.2V2516.5H352.3V2516.2H350.3V2517.6H348.4V2516H346.5V2513.1H344.5V2512.2H342.6V2511.9H340.6V2513.2H338.7V2514.6H336.7V2513.9H334.8V2515.1H332.9V2515.9H330.9V2517H329V2518.2H327V2519.7H325.1V2519.2H323.1V2522.5H321.2V2523.7H319.3V2526H317.3V2528.2H315.4V2526.6H313.4V2525H311.5V2522.5H309.5V2517.6H307.6V2512.7H305.6V2513.7H303.7V2522.7H301.8V2525.4H297.9V2523.5H295.9V2519H294V2523.3H292V2531.4H290.1V2528.9H288.2V2528.4H286.2V2531.6H284.3V2530H282.3V2528.9H280.4V2527.1H278.4V2529.9H276.5V2527.5H274.5V2526.1H272.6V2525.1H270.7V2524.5H268.7V2523.1H266.8V2521.8H264.8V2522.1H262.9V2527.5H260.9V2532.9H259V2533.8H257.1V2534.4H255.1V2533.8H253.2V2532.4H251.2V2524.9H249.3V2514H247.3V2525.3H245.4V2541.5H243.4V2552.7H241.5V2555.4H239.6V2554.6H237.6V2551.9H235.7V2547.6H233.7V2543.3H231.8V2538.1H229.8V2521.8H227.9V2513.4H226V2521.5H224V2539.5H222.1V2560.4H220.1V2570.3H216.2V2558.4H214.3V2551.7H212.3V2551.8H210.4V2573.4H204.6V2575.8H202.6V2583H200.7V2597.6H198.7V2608.7H196.8V2611.4H194.9V2623.9H192.9V2642.8H191V2633.5H189V2643.4H187.1V2644.5H185.1V2636.8H179.3V2621.3H173.5V2571.7H171.5V2503.4H169.6V2500.8H167.6Z" fill="#ff7f0e"/>
<path d="M167.6,2492.1H169.6V2480.3H171.5V2220.3H173.5V1934.7H175.4V1933.4H179.3V2132.4H181.3V2242.8H183.2V2171.5H185.1V2147.1H189V2211.4H191V2375.6H192.9V2377.6H194.9V2311.5H196.8V2297.1H200.7V2341.8H202.6V2403.1H204.6V2420.2H206.5V2424.1H208.5V2428.1H210.4V2428.9H216.2V2410.7H220.1V2413.7H222.1V2453.4H224V2459.1H226V2462.3H227.9V2465.3H229.8V2471H231.8V2470.9H233.7V2471.6H235.7V2469.3H239.6V2470H241.5V2472.3H243.4V2468.7H245.4V2465.4H247.3V2470.4H249.3V2472H251.2V2467.1H253.2V2468.6H255.1V2467.1H257.1V2463.8H259V2456.2H262.9V2462.7H264.8V2479.2H266.8V2483.1H268.7V2482.9H270.7V2484.3H272.6V2485.4H274.5V2486.5H276.5V2489.4H278.4V2489.2H280.4V2487.8H282.3V2485.6H284.3V2481.6H286.2V2480.5H288.2V2485.7H290.1V2490.7H292V2489.5H294V2488.1H295.9V2487.5H297.9V2486.9H299.8V2484.9H301.8V2488H303.7V2490.4H305.6V2488.6H307.6V2489.1H309.5V2484H311.5V2486.3H313.4V2490.3H315.4V2492.1H327V2491.5H329V2492.1H330.9V2491.3H332.9V2489.6H334.8V2485.3H336.7V2487H338.7V2492.1H455.3V2490.8H457.3V2491H459.2V2492.1H461.1V2490.8H463.1V2492H465V2491.1H467V2491.9H468.9V2491.4H470.9V2491.6H472.8V2491.9H474.7V2491H478.6V2492.1H480.6V2491.6H482.5V2491.1H484.5V2492.1H492.2V2490.9H494.2V2492.1H496.1V2492H498.1V2492.1H500V2492H502V2490.7H503.9V2492.1H505.8V2491H507.8V2492.1H509.7V2491.5H511.7V2491.1H513.6V2491H515.6V2492.1H517.5V2491.4H519.4V2492.1H523.3V2491.2H525.3V2491H527.2V2491.6H529.2V2492.1H533.1V2491.1H535V2491.8H536.9V2491.4H538.9V2491.2H540.8V2491.4H542.8V2492.1H544.7V2490.9H546.7V2492.1H552.5V2491.4H554.4V2491.1H556.4V2492.1H558.3V2490.9H560.3V2491.8H562.2V2491.5H564.2V2491.1H566.1V2492.1H568V2491.2H570V2492.1H575.8V2491H577.8V2492.1H579.7V2491.2H581.6V2492.1H583.6V2490.9H585.5V2492.1H589.4V2491.8H591.4V2491.1H593.3V2491.3H595.2V2492.1H603V2491.3H605V2492.1H606.9V2491.4H610.8V2492.1H614.7V2491.3H616.6V2491.1H618.6V2491H620.5V2491.8H622.5V2492.1H624.4V2491.5H626.3V2490.7H628.3V2400H630.2V2200.4H632.2V2116H634.1V2115.3H638V2116.9H640V2130.1H641.9V2170.3H643.8V2238.6H645.8V2275.7H647.7V2318.5H649.7V2351.3H651.6V2361.9H653.6V2383.4H655.5V2409.8H657.4V2422.2H659.4V2434.2H661.3V2443.9H663.3V2452.3H665.2V2444.8H667.2V2454.2H669.1V2447.7H671.1V2454.1H673V2460.4H674.9V2460.2H676.9V2439H678.8V2427.9H680.8V2425.9H682.7V2428.7H684.7V2447.2H686.6V2450.7H688.5V2440.1H690.5V2442.2H692.4V2448.4H694.4V2464.3H696.3V2471.5H698.3V2463.5H700.2V2456.2H702.2V2461.8H704.1V2460.3H706V2466H708V2460.2H709.9V2461.5H711.9V2463.1H713.8V2464.7H715.8V2461.9H717.7V2456.6H719.6V2465.9H721.6V2476H723.5V2483.9H725.5V2487.7H727.4V2488.7H729.4V2487.2H731.3V2486.8H733.2V2486.9H735.2V2485.1H739.1V2484H741V2483.8H743V2486.2H744.9V2486H746.9V2488.3H748.8V2486.9H750.7V2489.7H752.7V2487.7H754.6V2488H756.6V2489H758.5V2489.1H760.5V2489.4H762.4V2489.8H764.3V2490.6H766.3V2489.4H768.2V2490.6H770.2V2490.7H772.1V2491.6H774.1V2492.1H778V2490.7H779.9V2491.7H781.8V2491.2H783.8V2492.1H789.6V2491.2H791.6V2491.8H793.5V2491.5H795.4V2491.7H797.4V2492.1H803.2V2491.5H805.2V2491.2H807.1V2491.8H809.1V2492.1H811V2491.1H812.9V2490.8H814.9V2491H818.8V2491.8H820.7V2491.5H822.7V2492.1H824.6V2491.2H826.5V2491.6H828.5V2490.8H830.4V2490.9H832.4V2492.1H836.3V2490.9H838.2V2492.1H840.2V2491.6H842.1V2491.1H844V2492.1H846V2491H849.9V2492.1H853.8V2490.9H855.7V2492.1H857.6V2491.7H859.6V2492.1H865.4V2491.8H867.4V2490.7H869.3V2491.6H871.2V2491.4H873.2V2492H875.1V2491.8H877.1V2492.1H879V2491.1H881V2490.9H882.9V2491.8H884.9V2491H886.8V2492.1H888.7V2491.2H890.7V2491.3H892.6V2492.1H898.5V2491.9H900.4V2491.7H902.3V2492.1H908.2V2491.1H910.1V2492.1H914V2491.1H916V2492.1H919.8V2491.2H923.7V2490.8H925.7V2491.8H927.6V2492.1H931.5V2491H933.4V2492.1H935.4V2491.5H937.3V2491.8H939.3V2491.6H941.2V2491.9H943.2V2492.1H954.8V2491.5H956.8V2491.4H958.7V2492.1H962.6V2491.6H964.5V2491.3H968.4V2492.1H974.3V2491.8H976.2V2492.1H980.1V2491.2H982V2490.8H984V2492.1H985.9V2491.4H987.9V2492.1H991.8V2491.7H993.7V2490.8H995.6V2492.1H997.6V2491.5H999.5V2492H1001.5V2492.1H1005.4V2491.9H1007.3V2491.5H1009.2V2492.1H1013.1V2492H1015.1V2492.1H1020.9V2491.4H1022.9V2491.1H1024.8V2491.4H1026.7V2490.8H1028.7V2491.2H1030.6V2492H1032.6V2492.1H1042.3V2490.8H1044.2V2491H1046.2V2491.1H1048.1V2492.1H1050.1V2491.4H1052V2491.2H1054V2490.7H1057.8V2491H1059.8V2492.1H1061.7V2491.3H1063.7V2492.1H1067.6V2492H1069.5V2490.7H1071.4V2491.2H1073.4V2491.4H1075.3V2492.1H1077.3V2491.2H1079.2V2492.1H1081.2V2491.9H1083.1V2492.1H1085.1V2490.7H1087V2361H1088.9V2155.8H1090.9V2115.3H1096.7V2118.3H1098.7V2131.6H1100.6V2178.8H1102.5V2242.6H1104.5V2279.7H1106.4V2323.6H1108.4V2352.5H1110.3V2363.1H1112.3V2386.2H1114.2V2411.6H1116.2V2423.5H1118.1V2435.4H1120V2440.8H1122V2452.1H1123.9V2445.1H1125.9V2450.5H1127.8V2448.4H1129.8V2454.8H1131.7V2461.1H1133.6V2457.9H1135.6V2436.8H1137.5V2427.7H1139.5V2425.7H1141.4V2430.7H1143.4V2449.2H1145.3V2449.6H1147.2V2439H1149.2V2442.8H1151.1V2450.1H1153.1V2466H1155V2470.6H1157V2462.7H1158.9V2456.4H1160.9V2457.7H1162.8V2463.3H1164.7V2459.9H1166.7V2460.3H1168.6V2461.7H1170.6V2463.3H1172.5V2464.9H1174.5V2461.3H1176.4V2456.5H1178.3V2467.1H1180.3V2476.8H1182.2V2484.8H1184.2V2488.7H1186.1V2487.8H1188.1V2487.2H1190V2489H1192V2486.9H1193.9V2486.7H1195.8V2485H1197.8V2483.7H1199.7V2486.1H1201.7V2487.4H1203.6V2487.1H1205.6V2486H1207.5V2488.2H1209.4V2488.6H1211.4V2487.8H1213.3V2489.6H1215.3V2487.9H1217.2V2487.2H1219.2V2487.3H1221.1V2487.8H1223.1V2485H1225V2484.3H1226.9V2488.8H1228.9V2490.5H1230.8V2490.9H1232.8V2492.1H1238.6V2491.6H1240.5V2491.4H1242.5V2490.6H1244.4V2487.9H1246.4V2488.2H1248.3V2485.4H1250.3V2489.5H1252.2V2490H1254.2V2492.1H1283.3V2492H1285.2V2492.1H1296.9V2491.8H1298.9V2492.1H1310.5V2491.8H1312.5V2491.9H1314.4V2492.1H1316.3V2491.7H1318.3V2492.1H1324.1V2491.7H1326.1V2492.1H1331.9V2491.5H1333.8V2492.1H1335.8V2491.4H1337.7V2491.3H1339.7V2492.1H1343.6V2491.1H1347.4V2491.3H1349.4V2491.8H1351.3V2491.9H1353.3V2492.1H1355.2V2490.7H1357.2V2491.4H1359.1V2491.8H1363V2490.8H1364.9V2491.4H1366.9V2490.9H1368.8V2491.9H1370.8V2491.6H1372.7V2492.1H1376.6V2492H1378.5V2492.1H1380.5V2491.5H1382.4V2490.7H1384.4V2491.5H1386.3V2492.1H1388.3V2491.5H1390.2V2492.1H1392.1V2491.6H1394.1V2492.1H1396V2491.1H1398V2491.3H1399.9V2491.1H1401.9V2492.1H1409.6V2491.8H1411.6V2492.1H1413.5V2491.7H1415.5V2491.3H1417.4V2492.1H1419.4V2491.3H1421.3V2492.1H1427.1V2491H1429.1V2491.3H1431V2492.1H1438.8V2491.8H1440.7V2491.2H1442.7V2491.9H1444.6V2491H1446.6V2492.1H1448.5V2491H1450.5V2491.4H1452.4V2491.3H1454.3V2491.5H1456.3V2491.2H1458.2V2491.3H1460.2V2491H1462.1V2492.1H1464.1V2491.1H1468V2492.1H1469.9V2491.6H1471.8V2492.1H1473.8V2492H1475.7V2491H1477.7V2491.2H1483.5V2491.8H1485.4V2491.4H1487.4V2492.1H1491.3V2491.3H1493.2V2492H1495.2V2492.1H1497.1V2490.9H1499.1V2490.8H1501V2491.7H1502.9V2491.3H1508.8V2492.1H1510.7V2490.9H1512.7V2491.9H1514.6V2492.1H1516.5V2491.7H1518.5V2491H1520.4V2492.1H1522.4V2491.9H1524.3V2491.3H1526.3V2491.2H1528.2V2491.3H1530.1V2491.5H1532.1V2490.9H1534V2492.1H1541.8V2490.9H1543.8V2492H1545.7V2490.7H1547.6V2502.4H1545.7V2501.9H1524.3V2502.2H1522.4V2501.9H1514.6V2502.1H1512.7V2502.2H1508.8V2501.9H1497.1V2502.2H1495.2V2501.9H1487.4V2502.4H1485.4V2502.2H1483.5V2501.9H1468V2502.2H1466V2501.9H1458.2V2502.1H1456.3V2501.9H1452.4V2502.2H1450.5V2502.3H1448.5V2501.9H1444.6V2502.2H1442.7V2501.9H1436.9V2502.2H1434.9V2501.9H1433V2502.3H1431V2501.9H1427.1V2502H1425.2V2501.9H1417.4V2502.1H1415.5V2501.9H1413.5V2502H1411.6V2501.9H1409.6V2502.3H1407.7V2501.9H1380.5V2502.1H1378.5V2501.9H1372.7V2502.2H1370.8V2501.9H1363V2502.2H1361.1V2501.9H1359.1V2502.2H1357.2V2502.4H1355.2V2502.3H1353.3V2502H1351.3V2501.9H1337.7V2502.2H1335.8V2501.9H1331.9V2502.4H1330V2501.9H1312.5V2502H1310.5V2501.9H1304.7V2502.1H1302.7V2501.9H1287.2V2502.1H1285.2V2501.9H1281.4V2502.1H1279.4V2501.9H1269.7V2502H1267.8V2501.9H1258V2502.4H1254.2V2503.4H1252.2V2504.9H1250.3V2509.6H1248.3V2507H1246.4V2507.8H1244.4V2508.8H1242.5V2508.5H1240.5V2508.4H1238.6V2507.9H1236.7V2508.8H1234.7V2508.1H1232.8V2508.2H1230.8V2506.3H1228.9V2506.7H1226.9V2508H1225V2506.1H1223.1V2506.9H1221.1V2508.5H1219.2V2506H1217.2V2506.8H1215.3V2506.4H1213.3V2507.5H1211.4V2505.2H1209.4V2505.8H1207.5V2506.6H1205.6V2506.4H1203.6V2506.9H1201.7V2505H1199.7V2507.9H1197.8V2505.3H1195.8V2506.3H1193.9V2507.3H1192V2508.4H1190V2506.7H1188.1V2508.1H1186.1V2506.5H1184.2V2507.5H1182.2V2514.9H1180.3V2532.2H1178.3V2530.6H1176.4V2529H1174.5V2526.2H1172.5V2519.9H1170.6V2513.5H1168.6V2510.2H1166.7V2509.6H1164.7V2510.8H1162.8V2512.7H1160.9V2514.1H1158.9V2516.9H1157V2520.3H1155V2536.2H1153.1V2546H1149.2V2545H1147.2V2534.4H1145.3V2533.8H1143.4V2549.7H1141.4V2555.1H1137.5V2547.3H1135.6V2526.1H1133.6V2520.8H1131.7V2524H1129.8V2527.2H1127.8V2525.4H1125.9V2531.9H1123.9V2528.8H1122V2536.5H1120V2561.9H1118.1V2573.3H1114.2V2595.4H1112.3V2650.2H1110.3V2678.4H1108.4V2686.3H1106.4V2708H1104.5V2748.2H1102.5V2758.8H1100.6V2797H1098.7V2841.5H1094.8V2829.1H1092.8V2806.1H1090.9V2779.6H1088.9V2629.3H1087V2502.4H1085.1V2502.1H1083.1V2502H1081.2V2501.9H1077.3V2502.1H1075.3V2502.2H1073.4V2501.9H1061.7V2502H1059.8V2501.9H1057.8V2502.4H1054V2501.9H1024.8V2502H1022.9V2501.9H1020.9V2502.1H1019V2501.9H1005.4V2502H1001.5V2501.9H987.9V2502.1H984V2501.9H980.1V2502.3H978.2V2501.9H972.3V2502H970.4V2501.9H962.6V2502.3H960.7V2501.9H952.9V2502H950.9V2502.4H949V2502H947.1V2501.9H941.2V2502.2H939.3V2501.9H931.5V2502.2H929.6V2501.9H923.7V2502.1H921.8V2501.9H919.8V2502.2H917.9V2501.9H916V2502.3H914V2501.9H908.2V2502.4H906.2V2501.9H892.6V2502.1H890.7V2501.9H886.8V2502.2H884.9V2501.9H881V2502.2H879V2501.9H844V2502H842.1V2501.9H824.6V2502.2H822.7V2501.9H818.8V2502.1H816.8V2501.9H814.9V2502.1H812.9V2501.9H809.1V2502.4H807.1V2501.9H801.3V2502.3H799.3V2501.9H793.5V2502H791.6V2501.9H787.7V2502.3H785.7V2501.9H779.9V2502.4H778V2501.9H770.2V2502.5H768.2V2501.9H766.3V2502.8H764.3V2502.7H762.4V2503.6H760.5V2502.5H758.5V2502.4H756.6V2505.1H754.6V2505.3H752.7V2505.7H750.7V2503.3H748.8V2504.9H746.9V2506.2H744.9V2504.9H743V2507.7H741V2507.9H739.1V2505.4H737.1V2507H735.2V2506.1H733.2V2505.7H731.3V2506.8H729.4V2507.9H727.4V2509.1H725.5V2508.9H723.5V2518.5H721.6V2536.2H719.6V2533H717.7V2529.9H715.8V2525.5H713.8V2519.2H711.9V2512.8H709.9V2510.4H708V2509.4H706V2511.1H704.1V2513.8H702.2V2513.5H700.2V2513.3H698.3V2522H696.3V2537.9H694.4V2546H690.5V2543.9H688.5V2533.3H686.6V2535.5H684.7V2551.4H682.7V2555.1H678.8V2545H676.9V2523.8H674.9V2521.2H673V2524.3H671.1V2527.5H669.1V2525.1H667.2V2527.5H665.2V2532.4H663.3V2536.7H661.3V2565.4H659.4V2573.3H657.4V2574.1H655.5V2597.9H653.6V2657H651.6V2679.2H649.7V2687.2H647.7V2713.2H645.8V2749.3H643.8V2759.9H641.9V2806.6H640V2846H636.1V2828.6H634.1V2803.2H632.2V2776.7H630.2V2593.1H628.3V2502.4H626.3V2502H624.4V2501.9H618.6V2502H616.6V2502.2H614.7V2501.9H610.8V2502.2H608.9V2501.9H606.9V2502.1H605V2501.9H603V2502.3H601.1V2502H599.1V2501.9H593.3V2502.1H591.4V2502.2H587.5V2501.9H585.5V2502.4H583.6V2501.9H581.6V2502.1H579.7V2501.9H573.9V2502.1H570V2501.9H568V2502.3H566.1V2501.9H546.7V2502.1H544.7V2502.4H542.8V2501.9H535V2502.2H533.1V2501.9H529.2V2502.1H527.2V2501.9H525.3V2502.3H523.3V2501.9H515.6V2502.2H513.6V2501.9H503.9V2502H502V2501.9H478.6V2502.3H476.7V2502H474.7V2502.3H472.8V2501.9H470.9V2502.2H468.9V2501.9H463.1V2502.1H461.1V2501.9H457.3V2502.4H455.3V2501.9H453.4V2502H451.4V2501.9H449.5V2502.1H447.5V2501.9H439.8V2502H437.8V2501.9H435.9V2502.2H433.9V2502.3H432V2501.9H428.1V2502.1H426.2V2501.9H408.7V2502.2H406.7V2501.9H404.8V2502H402.8V2501.9H400.9V2502.2H398.9V2501.9H397V2502H395.1V2501.9H389.2V2502H387.3V2501.9H360.1V2502.2H358.1V2501.9H352.3V2502.1H350.3V2501.9H340.6V2503.4H338.7V2509.6H336.7V2507.6H334.8V2505.7H332.9V2504H330.9V2505.4H329V2503.7H327V2503.9H325.1V2503.8H321.2V2505.4H319.3V2506.4H317.3V2507.2H315.4V2505.3H313.4V2507.7H311.5V2504.5H309.5V2504.6H307.6V2503.9H305.6V2505H303.7V2504.2H301.8V2505.3H299.8V2503.4H297.9V2505.1H295.9V2505.2H294V2507.3H292V2507H290.1V2505.9H288.2V2509.5H286.2V2508.3H284.3V2506.3H282.3V2505.5H280.4V2506.1H278.4V2505.5H276.5V2506.6H274.5V2509.5H272.6V2509.7H268.7V2508.4H264.8V2511.1H262.9V2509.4H260.9V2509.6H259V2514.1H257.1V2519H255.1V2525H253.2V2522.5H251.2V2526.3H249.3V2522.9H247.3V2527.8H245.4V2526.4H243.4V2520.4H241.5V2522.6H239.6V2519.1H237.6V2518.1H235.7V2530.5H233.7V2545.6H231.8V2543.6H229.8V2541.6H227.9V2535.9H226V2530H224V2534.2H222.1V2544.1H220.1V2549.9H218.2V2547.9H216.2V2548.1H214.3V2579.8H212.3V2578H210.4V2581.1H208.5V2582.4H206.5V2580.2H204.6V2575.8H202.6V2616.8H200.7V2655.1H196.8V2649.8H194.9V2661.2H192.9V2702.3H191V2741.5H187.1V2755.6H185.1V2766.9H183.2V2769.9H181.3V2808.3H179.3V2847.8H177.4V2891.5H173.5V2817.1H171.5V2521.9H169.6V2502.4H167.6Z" fill="#2ca02c"/>
<path d="M167.6,2492.5H171.5V2440H173.5V2280.1H175.4V2253.1H177.4V2252.2H181.3V2128.5H185.1V2154.1H187.1V2166.3H189V2259.1H191V2262.5H192.9V2363.3H194.9V2413.7H196.8V2324.4H198.7V2347.3H200.7V2333.6H202.6V2342.9H204.6V2371.7H206.5V2444.6H208.5V2427.3H210.4V2410.3H216.2V2423.4H218.2V2435H220.1V2438H222.1V2441H224V2452.4H226V2458.4H227.9V2442.4H229.8V2434.3H233.7V2449.9H235.7V2468.6H237.6V2469.5H239.6V2471.3H241.5V2465.6H243.4V2461.5H245.4V2455.5H247.3V2455H251.2V2466.2H253.2V2471.7H255.1V2463.7H257.1V2463.4H259V2464.3H260.9V2465.8H262.9V2466.4H264.8V2480.4H266.8V2483.1H268.7V2478.6H270.7V2476.2H272.6V2481.3H274.5V2480.9H276.5V2482.2H278.4V2484.3H280.4V2484.9H282.3V2486.2H284.3V2486.6H286.2V2485.4H288.2V2483.9H290.1V2482.5H292V2485.5H294V2488.5H295.9V2490H299.8V2490.4H301.8V2489.4H303.7V2489.1H305.6V2487.9H307.6V2486.7H309.5V2486.4H311.5V2489.2H313.4V2490.1H315.4V2492H317.3V2492.5H319.3V2491.9H321.2V2491.8H323.1V2490.6H325.1V2489.5H327V2491.1H329V2490.3H330.9V2491.6H332.9V2491.8H336.7V2492.5H342.6V2492H344.5V2491.2H346.5V2489.8H348.4V2488.1H350.3V2489.5H352.3V2490.7H354.2V2491.1H358.1V2492.4H360.1V2492.5H455.3V2491.5H457.3V2492H459.2V2492.3H461.1V2491.7H463.1V2491.6H467V2492.5H468.9V2491.9H470.9V2492.5H474.7V2491.9H478.6V2492.2H480.6V2492.5H482.5V2492.4H484.5V2492H488.3V2491.7H490.3V2492.1H492.2V2491.5H494.2V2492.1H496.1V2491.5H498.1V2492H500V2492.1H502V2492.3H503.9V2492H505.8V2492.2H507.8V2492H509.7V2491.7H511.7V2491.8H513.6V2491.9H515.6V2491.8H517.5V2492.1H519.4V2491.9H521.4V2492.5H523.3V2492.1H525.3V2492H527.2V2492.5H529.2V2491.7H531.1V2491.9H535V2492.3H536.9V2492.1H538.9V2492.2H540.8V2491.9H542.8V2491.6H546.7V2491.7H548.6V2491.9H550.5V2491.5H552.5V2492.3H554.4V2491.5H556.4V2491.4H558.3V2491.6H562.2V2491.7H564.2V2491.4H566.1V2491.8H568V2492.2H570V2491.5H571.9V2492.2H573.9V2491.5H575.8V2492.4H577.8V2491.9H579.7V2492.1H581.6V2491.9H583.6V2492.4H585.5V2491.8H589.4V2491.5H591.4V2492.4H593.3V2491.5H597.2V2492.2H599.1V2492.5H601.1V2491.5H603V2491.7H605V2491.5H606.9V2491.9H608.9V2492.1H610.8V2492.4H612.7V2491.9H614.7V2492.3H616.6V2491.9H622.5V2491.7H624.4V2491.8H626.3V2468.8H628.3V2346.2H630.2V2290H636.1V2324.4H638V2291H640V2169.7H645.8V2265.5H647.7V2296.9H651.6V2386.3H653.6V2389.6H655.5V2393H657.4V2387.3H659.4V2382.8H665.2V2403H667.2V2436.3H669.1V2444H671.1V2438H673V2436.2H674.9V2441H676.9V2445.8H678.8V2446.5H680.8V2443.5H682.7V2441.2H688.5V2461H690.5V2463.9H692.4V2458.3H694.4V2454.4H696.3V2448.1H700.2V2449.9H702.2V2473.9H704.1V2470H706V2464H708V2466.6H709.9V2474.2H711.9V2477.9H713.8V2478.2H715.8V2472.5H717.7V2468.9H719.6V2474.6H721.6V2478.9H723.5V2481.6H725.5V2483.4H729.4V2483.9H731.3V2483.5H733.2V2480.2H735.2V2479.2H737.1V2482.5H739.1V2482.9H741V2484.6H743V2486.5H744.9V2487.9H746.9V2488.1H750.7V2487.1H752.7V2488.2H754.6V2486H756.6V2487.7H758.5V2486.9H760.5V2488.1H762.4V2487.5H766.3V2488.5H768.2V2487.9H770.2V2489H772.1V2488.3H774.1V2488H776V2488.8H778V2489.5H779.9V2488.6H781.8V2488.9H783.8V2489.9H785.7V2490.5H787.7V2489.4H789.6V2489.3H791.6V2490.1H793.5V2490.7H795.4V2490.6H797.4V2491.1H799.3V2491H801.3V2490.4H805.2V2490.8H809.1V2490.6H811V2491H812.9V2491.1H814.9V2491.4H816.8V2491.9H818.8V2491.4H820.7V2492.1H822.7V2491.9H824.6V2491.4H826.5V2491.7H828.5V2492.3H830.4V2491.7H832.4V2491.6H834.3V2491.4H836.3V2491.7H838.2V2492.5H840.2V2491.5H842.1V2491.6H844V2492.3H846V2492.5H847.9V2491.7H849.9V2491.9H851.8V2492H855.7V2492.2H857.6V2492.5H859.6V2492.2H861.5V2492.5H863.5V2492.1H865.4V2491.4H867.4V2492H869.3V2492.2H871.2V2492H875.1V2491.5H877.1V2492.2H879V2491.9H881V2492.3H882.9V2492.5H884.9V2492.2H886.8V2491.9H888.7V2492.3H890.7V2491.7H892.6V2492.2H894.6V2492.5H896.5V2492.1H900.4V2492H902.3V2491.9H904.3V2492.5H906.2V2491.6H908.2V2491.5H910.1V2492.2H912.1V2492.4H914V2491.9H916V2492.4H917.9V2492.3H921.8V2492.5H923.7V2492.2H925.7V2491.9H927.6V2492.5H929.6V2491.6H931.5V2492H933.4V2491.9H935.4V2491.5H937.3V2492.5H939.3V2491.5H941.2V2492.4H945.1V2491.5H947.1V2491.8H949V2491.6H950.9V2492.5H952.9V2492.2H954.8V2491.6H956.8V2491.9H958.7V2492.5H962.6V2491.8H964.5V2492H966.5V2491.7H968.4V2491.6H970.4V2492H974.3V2492.5H976.2V2491.4H978.2V2491.6H980.1V2491.7H982V2492.4H985.9V2491.4H987.9V2491.9H989.8V2491.4H993.7V2492.4H995.6V2491.7H997.6V2492.2H999.5V2492.3H1001.5V2492H1003.4V2491.6H1005.4V2491.9H1007.3V2492.2H1009.2V2492.3H1011.2V2491.4H1013.1V2492.5H1017V2491.5H1019V2492H1020.9V2491.7H1022.9V2491.9H1024.8V2491.7H1026.7V2492.3H1028.7V2492.4H1030.6V2491.8H1034.5V2491.7H1036.5V2491.4H1038.4V2492.1H1040.3V2492.3H1042.3V2491.7H1044.2V2491.4H1046.2V2492H1048.1V2491.4H1050.1V2491.8H1052V2491.9H1054V2491.4H1057.8V2492.2H1059.8V2491.6H1061.7V2492.1H1063.7V2492.5H1065.6V2491.7H1067.6V2491.6H1069.5V2492H1071.4V2491.5H1073.4V2492H1075.3V2492.4H1077.3V2492H1079.2V2492.2H1081.2V2491.7H1083.1V2491.4H1085.1V2471.5H1087V2393.7H1088.9V2310.6H1094.8V2331.2H1096.7V2260.5H1098.7V2156H1104.5V2296.2H1106.4V2303.7H1110.3V2379.4H1112.3V2382.1H1114.2V2384.9H1116.2V2381.7H1118.1V2375.9H1122V2380.4H1123.9V2400H1125.9V2445H1127.8V2445.6H1129.8V2434.3H1135.6V2448.3H1137.5V2451.2H1139.5V2445.2H1141.4V2444.6H1145.3V2457.7H1147.2V2467.3H1149.2V2464.3H1151.1V2460.7H1153.1V2454.7H1155V2451.5H1158.9V2454.3H1160.9V2468.5H1162.8V2462.5H1164.7V2458.4H1168.6V2467.5H1170.6V2473.5H1172.5V2469H1174.5V2465.3H1180.3V2468.4H1182.2V2478.4H1184.2V2481.7H1186.1V2480.5H1188.1V2479.3H1190V2477.5H1192V2475.4H1193.9V2474.5H1195.8V2475.1H1197.8V2476.1H1199.7V2479.7H1201.7V2483.3H1203.6V2483.6H1205.6V2483.8H1207.5V2483.4H1209.4V2485H1211.4V2482.4H1213.3V2483.1H1215.3V2483H1217.2V2481.5H1219.2V2481.2H1221.1V2482.3H1223.1V2483.2H1225V2483.4H1226.9V2484.3H1228.9V2487H1230.8V2488.5H1232.8V2489.1H1234.7V2489.4H1236.7V2488.3H1238.6V2488.1H1240.5V2488.3H1242.5V2486.1H1244.4V2487.9H1246.4V2488H1248.3V2489.1H1252.2V2488.3H1254.2V2486.8H1256.1V2486.5H1258V2489.2H1260V2490.3H1261.9V2491.3H1263.9V2492H1265.8V2492.4H1267.8V2492.5H1269.7V2491.7H1271.6V2492.1H1275.5V2491.9H1277.5V2492H1279.4V2491.8H1281.4V2491.5H1283.3V2492.5H1285.2V2492.1H1287.2V2491.9H1289.1V2491.7H1293V2492.3H1295V2491.4H1298.9V2492.4H1300.8V2491.9H1302.7V2491.8H1306.6V2491.6H1308.6V2492H1310.5V2492.5H1312.5V2492H1314.4V2491.6H1316.3V2492.4H1318.3V2492.1H1320.2V2491.5H1322.2V2492.3H1324.1V2491.4H1326.1V2491.9H1328V2492.1H1330V2491.7H1331.9V2492.3H1333.8V2491.4H1335.8V2491.6H1337.7V2491.9H1339.7V2492.5H1341.6V2491.6H1347.4V2492.5H1349.4V2492.1H1351.3V2492.4H1353.3V2491.8H1355.2V2491.4H1357.2V2492.5H1359.1V2492.4H1361.1V2491.6H1363V2491.7H1364.9V2492.4H1366.9V2491.8H1370.8V2492.4H1372.7V2491.9H1374.7V2491.8H1378.5V2491.7H1380.5V2492.4H1382.4V2492.3H1384.4V2491.9H1386.3V2492.1H1388.3V2491.9H1392.1V2491.8H1394.1V2492.1H1396V2491.8H1398V2491.4H1399.9V2492.4H1401.9V2492H1403.8V2492.1H1405.8V2491.6H1407.7V2492.2H1409.6V2491.7H1411.6V2491.4H1415.5V2491.9H1417.4V2491.8H1419.4V2491.6H1421.3V2492.5H1423.2V2491.7H1425.2V2491.6H1427.1V2492.3H1429.1V2492.2H1434.9V2492.5H1438.8V2492H1440.7V2491.7H1442.7V2492.1H1446.6V2491.9H1448.5V2492.4H1450.5V2492.5H1452.4V2491.4H1454.3V2491.9H1456.3V2492.5H1458.2V2492.3H1460.2V2491.7H1462.1V2491.4H1464.1V2492.1H1466V2492.4H1468V2492.3H1469.9V2492.4H1471.8V2491.4H1473.8V2491.6H1475.7V2491.9H1477.7V2491.6H1479.6V2491.7H1481.6V2492.5H1483.5V2492.3H1485.4V2492.5H1487.4V2492H1489.3V2491.5H1491.3V2491.6H1493.2V2492.1H1495.2V2491.6H1497.1V2492.5H1499.1V2491.8H1501V2492.5H1502.9V2492.2H1504.9V2491.4H1506.8V2492.5H1508.8V2492.2H1510.7V2492.3H1512.7V2492.5H1514.6V2491.8H1516.5V2491.9H1518.5V2492.1H1520.4V2491.4H1522.4V2492.3H1524.3V2492.5H1528.2V2492.4H1530.1V2492.3H1532.1V2492.1H1534V2492.5H1536V2491.8H1537.9V2491.6H1539.9V2492.5H1541.8V2491.7H1545.7V2491.4H1547.6V2502.5H1545.7V2502.3H1543.8V2502.1H1541.8V2501.9H1539.9V2501.5H1537.9V2501.6H1536V2501.9H1534V2501.7H1532.1V2502H1530.1V2502.4H1528.2V2501.7H1526.3V2501.6H1524.3V2502.4H1522.4V2501.5H1520.4V2502.3H1518.5V2501.6H1516.5V2502.1H1514.6V2501.8H1512.7V2502.1H1510.7V2502H1508.8V2502.2H1504.9V2501.5H1502.9V2502H1501V2501.9H1499.1V2502.3H1497.1V2501.8H1495.2V2501.6H1493.2V2502H1491.3V2501.6H1489.3V2501.5H1487.4V2501.6H1485.4V2502H1483.5V2501.6H1479.6V2502.3H1477.7V2501.8H1475.7V2501.7H1473.8V2501.5H1471.8V2501.8H1469.9V2501.7H1468V2501.5H1466V2502.1H1464.1V2501.5H1462.1V2501.8H1460.2V2501.5H1454.3V2502.2H1452.4V2501.5H1448.5V2502.1H1446.6V2501.6H1444.6V2502.3H1442.7V2501.9H1440.7V2501.6H1438.8V2502.2H1436.9V2501.9H1434.9V2501.5H1433V2502.1H1431V2501.7H1429.1V2502.2H1427.1V2501.8H1425.2V2501.5H1423.2V2501.6H1421.3V2501.5H1415.5V2502.3H1413.5V2501.5H1411.6V2502.4H1409.6V2501.6H1407.7V2501.9H1405.8V2502H1403.8V2502.2H1401.9V2501.7H1399.9V2501.5H1394.1V2502.4H1392.1V2501.7H1390.2V2501.9H1388.3V2502.1H1386.3V2502.3H1384.4V2501.5H1382.4V2501.6H1380.5V2502H1378.5V2501.5H1374.7V2502.4H1372.7V2501.6H1370.8V2501.5H1368.8V2501.7H1366.9V2502.1H1364.9V2501.7H1363V2502.4H1361.1V2501.5H1359.1V2502.1H1357.2V2502.5H1353.3V2501.5H1351.3V2502.5H1349.4V2502.4H1343.6V2502.6H1341.6V2501.6H1339.7V2501.8H1337.7V2502.3H1335.8V2502.4H1333.8V2501.8H1331.9V2502.2H1330V2502H1328V2501.6H1326.1V2501.8H1324.1V2502.2H1322.2V2501.7H1318.3V2501.9H1316.3V2502.2H1314.4V2502.6H1312.5V2502.2H1310.5V2502.3H1308.6V2502.5H1306.6V2502.4H1304.7V2502H1302.7V2502.3H1300.8V2502.2H1298.9V2502.4H1296.9V2502.8H1295V2502.6H1293V2503H1291.1V2502.5H1289.1V2503.2H1287.2V2503.1H1283.3V2502.4H1281.4V2502.7H1277.5V2502.8H1275.5V2502.6H1273.6V2502.7H1271.6V2503.1H1269.7V2503.4H1267.8V2503.3H1265.8V2503.2H1263.9V2503.1H1261.9V2503.3H1260V2503.1H1258V2503.6H1256.1V2503.1H1254.2V2503.5H1252.2V2504.2H1250.3V2504.5H1248.3V2505.4H1246.4V2506.8H1244.4V2509H1242.5V2506.6H1240.5V2506.2H1238.6V2505H1236.7V2504.5H1234.7V2504H1232.8V2503.9H1230.8V2504.8H1228.9V2507H1226.9V2506H1225V2506.9H1223.1V2507.4H1221.1V2507.9H1219.2V2508.5H1217.2V2507.7H1215.3V2508.9H1213.3V2509.3H1211.4V2508.1H1209.4V2507.3H1207.5V2507.2H1205.6V2507.6H1203.6V2507.8H1201.7V2511.7H1199.7V2515.6H1197.8V2513.6H1195.8V2515.3H1193.9V2512.7H1192V2514.2H1190V2513.8H1188.1V2512.6H1186.1V2511.4H1184.2V2514.3H1182.2V2523.1H1180.3V2525.8H1174.5V2522.8H1172.5V2519.2H1170.6V2524.1H1168.6V2531.3H1164.7V2528.6H1162.8V2524.6H1160.9V2536H1158.9V2538.2H1155V2536.1H1153.1V2532.1H1151.1V2528.9H1149.2V2525.9H1147.2V2535.4H1145.3V2548.5H1141.4V2548H1139.5V2542H1137.5V2544.9H1135.6V2558.8H1129.8V2547.6H1127.8V2545.9H1125.9V2581H1123.9V2601.6H1122V2608.1H1120V2609.8H1118.1V2608.4H1116.2V2609.9H1114.2V2615.9H1112.3V2636.3H1110.3V2690.7H1108.4V2695H1106.4V2820.1H1104.5V2847.5H1098.7V2786H1096.7V2670.7H1094.8V2682.5H1088.9V2606.4H1087V2525.2H1085.1V2502.5H1083.1V2501.5H1081.2V2501.7H1079.2V2502.2H1077.3V2501.5H1073.4V2502.1H1071.4V2501.6H1069.5V2502.3H1067.6V2501.5H1065.6V2502.1H1063.7V2501.7H1061.7V2502.4H1059.8V2502H1057.8V2502.5H1054V2502H1050.1V2502.5H1048.1V2502.1H1046.2V2501.8H1044.2V2501.5H1042.3V2501.9H1036.5V2501.5H1034.5V2502.1H1032.6V2502.2H1030.6V2501.8H1028.7V2502H1026.7V2502.3H1024.8V2502.2H1022.9V2501.8H1020.9V2502.2H1019V2502.3H1017V2501.8H1015.1V2502.3H1013.1V2501.7H1011.2V2502.1H1009.2V2501.8H1005.4V2502.1H1003.4V2501.9H1001.5V2501.8H999.5V2501.7H997.6V2502.3H995.6V2501.9H993.7V2501.5H991.8V2502.2H989.8V2501.6H987.9V2501.8H985.9V2501.5H984V2502.3H982V2502.2H980.1V2502.3H978.2V2502.2H976.2V2502.4H974.3V2502.3H972.3V2501.7H970.4V2502.1H968.4V2501.5H966.5V2502.4H964.5V2501.5H962.6V2502.1H960.7V2501.7H958.7V2501.8H956.8V2501.5H954.8V2502.3H952.9V2502.1H950.9V2501.8H949V2502.1H947.1V2501.7H945.1V2502.1H943.2V2501.5H939.3V2501.6H937.3V2501.5H931.5V2502.1H929.6V2501.5H925.7V2502.3H923.7V2501.5H919.8V2502H917.9V2502.1H916V2501.5H914V2502.3H912.1V2502.2H910.1V2502H908.2V2502.4H906.2V2501.5H904.3V2501.8H902.3V2501.9H900.4V2501.8H898.5V2501.7H894.6V2502.1H892.6V2502H890.7V2501.6H888.7V2502H886.8V2501.5H884.9V2501.6H882.9V2501.9H881V2502H879V2501.7H877.1V2501.9H875.1V2502.3H873.2V2501.5H869.3V2501.9H867.4V2501.7H865.4V2501.6H863.5V2502.2H861.5V2501.7H859.6V2502H857.6V2501.7H855.7V2501.6H853.8V2501.9H851.8V2502H847.9V2502.3H846V2502.2H844V2501.9H842.1V2501.6H840.2V2501.9H838.2V2501.5H836.3V2502.5H834.3V2502.4H832.4V2501.9H830.4V2502H828.5V2501.9H826.5V2502.5H824.6V2502H822.7V2502.8H820.7V2502H818.8V2502.8H816.8V2502.6H814.9V2502.1H812.9V2502.6H811V2502.3H809.1V2502.5H807.1V2502.8H805.2V2502.4H801.3V2503.4H799.3V2503H797.4V2502.7H795.4V2503.5H793.5V2502.8H791.6V2503.8H789.6V2503.2H787.7V2502.9H785.7V2503.7H783.8V2503.4H779.9V2504.1H778V2503.7H776V2504.6H774.1V2505.5H772.1V2504.1H770.2V2505.6H768.2V2505.2H766.3V2505.6H764.3V2505H762.4V2505.2H760.5V2506.5H758.5V2506.4H756.6V2507.2H754.6V2506.8H752.7V2506H750.7V2505.9H748.8V2504.8H746.9V2505.3H744.9V2506.5H743V2508.3H741V2509H739.1V2510.9H737.1V2513.9H735.2V2510.9H733.2V2511.1H731.3V2510.7H729.4V2509.4H727.4V2509.7H725.5V2511.1H723.5V2512H721.6V2515.7H719.6V2520.9H717.7V2516.2H713.8V2514.9H711.9V2518.6H709.9V2525.5H708V2528H706V2522.6H704.1V2519H702.2V2540H700.2V2541.6H696.3V2537.7H694.4V2528.6H692.4V2527.7H690.5V2528.7H688.5V2548.5H682.7V2545.1H680.8V2540.5H678.8V2546.8H676.9V2558.8H673V2553.3H671.1V2544.3H669.1V2550H667.2V2582.7H665.2V2600.1H663.3V2601.6H661.3V2603.1H659.4V2601.2H657.4V2604.3H655.5V2611.4H653.6V2673.2H651.6V2699.3H649.7V2706.4H647.7V2807H645.8V2830.3H640V2687.4H638V2648.2H636.1V2703.2H630.2V2653.9H628.3V2528.3H626.3V2501.9H624.4V2501.5H622.5V2501.9H620.5V2502.3H616.6V2502.1H614.7V2502.2H612.7V2502H610.8V2501.5H608.9V2502.4H606.9V2501.6H605V2501.5H603V2502.1H601.1V2501.5H599.1V2501.9H597.2V2502.3H595.2V2502.1H593.3V2502H591.4V2502.3H589.4V2502H587.5V2501.5H585.5V2501.7H583.6V2501.9H581.6V2501.8H579.7V2502.2H577.8V2501.8H575.8V2502.1H573.9V2502.4H571.9V2501.8H570V2501.5H568V2501.6H566.1V2501.5H564.2V2502H562.2V2501.5H560.3V2501.9H558.3V2502.3H556.4V2502.1H554.4V2502H552.5V2501.6H550.5V2501.5H546.7V2501.8H544.7V2502.2H542.8V2501.7H540.8V2501.9H538.9V2502.2H535V2501.7H533.1V2502.3H527.2V2502H525.3V2501.5H521.4V2502.1H519.4V2502H517.5V2502.2H513.6V2502H511.7V2502.1H509.7V2501.7H507.8V2502.4H505.8V2501.9H502V2501.6H500V2501.7H498.1V2501.5H496.1V2502.4H494.2V2501.6H492.2V2502.2H490.3V2502H488.3V2502.2H486.4V2501.9H484.5V2501.5H478.6V2501.7H476.7V2502.3H474.7V2501.9H472.8V2502.1H470.9V2502.5H468.9V2501.7H467V2502.3H465V2501.5H463.1V2502.3H461.1V2501.6H459.2V2501.7H457.3V2502.4H455.3V2501.5H453.4V2501.6H451.4V2501.5H449.5V2501.6H447.5V2501.5H406.7V2501.7H404.8V2501.5H393.1V2501.6H389.2V2501.5H385.3V2501.6H383.4V2501.5H369.8V2501.6H365.9V2501.5H364V2501.7H362V2501.5H352.3V2501.7H350.3V2501.8H348.4V2501.5H334.8V2501.7H332.9V2501.5H321.2V2501.7H319.3V2501.8H317.3V2501.5H315.4V2501.9H311.5V2501.7H307.6V2502.6H305.6V2502.9H303.7V2502.7H301.8V2502.8H299.8V2502.5H297.9V2502.9H295.9V2504.6H294V2507.6H292V2510.6H288.2V2509.2H286.2V2509.8H284.3V2508.4H282.3V2509.4H280.4V2509.2H278.4V2510.8H276.5V2510.7H274.5V2511.4H272.6V2513.8H270.7V2512.1H268.7V2509.1H266.8V2511.9H264.8V2524H262.9V2527.8H260.9V2525.7H259V2525.2H257.1V2526.5H255.1V2520.5H253.2V2525.4H251.2V2534.8H247.3V2534.2H245.4V2528.2H243.4V2524.5H241.5V2521H239.6V2523.8H237.6V2524.5H235.7V2541.3H233.7V2555.4H229.8V2548.3H227.9V2534.3H226V2540.8H224V2551.9H218.2V2568.4H216.2V2576H210.4V2558.9H208.5V2542.7H206.5V2628.3H204.6V2675.7H200.7V2672.9H198.7V2662.8H196.8V2579.4H194.9V2627.6H192.9V2726.4H191V2734H189V2826.9H187.1V2851.7H185.1V2854.4H181.3V2737.5H177.4V2735.5H175.4V2675.4H173.5V2559.5H171.5V2501.8H167.6Z" fill="#d62728"/>
</g>
<rect x="102.8" y="1890.7" width="1511.5" height="1050.5" fill="none" stroke="#303030" stroke-width="2.60"/>
<text x="169.9" y="2981.6" font-size="27.1" text-anchor="middle" letter-spacing="-0.90">0.0</text>
<text x="444.7" y="2981.6" font-size="27.1" text-anchor="middle" letter-spacing="-0.90">0.2</text>
<text x="719.5" y="2981.6" font-size="27.1" text-anchor="middle" letter-spacing="-0.90">0.4</text>
<text x="994.3" y="2981.6" font-size="27.1" text-anchor="middle" letter-spacing="-0.90">0.6</text>
<text x="1269.1" y="2981.6" font-size="27.1" text-anchor="middle" letter-spacing="-0.90">0.8</text>
<text x="1543.9" y="2981.6" font-size="27.1" text-anchor="middle" letter-spacing="-0.90">1.0</text>
<text x="83.4" y="2048.4" font-size="27.1" text-anchor="end" letter-spacing="-0.90">3</text>
<text x="83.4" y="2201.7" font-size="27.1" text-anchor="end" letter-spacing="-0.90">2</text>
<text x="83.4" y="2355.0" font-size="27.1" text-anchor="end" letter-spacing="-0.90">1</text>
<text x="83.4" y="2508.3" font-size="27.1" text-anchor="end" letter-spacing="-0.90">0</text>
<text x="83.4" y="2661.6" font-size="27.1" text-anchor="end" letter-spacing="-0.90">−1</text>
<text x="83.4" y="2814.9" font-size="27.1" text-anchor="end" letter-spacing="-0.90">−2</text>
<path d="M171.5,2941.2v9.5M446.3,2941.2v9.5M721.1,2941.2v9.5M996.0,2941.2v9.5M1270.8,2941.2v9.5M1545.6,2941.2v9.5M102.8,2037.1h-9.5M102.8,2190.4h-9.5M102.8,2343.7h-9.5M102.8,2497.0h-9.5M102.8,2650.3h-9.5M102.8,2803.6h-9.5" stroke="#303030" stroke-width="2.50" fill="none"/>
</g>
<g font-family="'Liberation Serif','DejaVu Serif',serif" fill="#000">
<text transform="translate(797.2,1773) scale(0.9,1)" font-size="86.4">(</text>
<text transform="translate(824.2,1773.5) scale(0.93,1.03)" font-size="90" font-weight="bold">a</text>
<text transform="translate(866.4,1773) scale(0.9,1)" font-size="86.4">)</text>
<text transform="translate(791.9,3136) scale(0.9,1)" font-size="85.5">(</text>
<text x="820.1" y="3137" font-size="91" font-weight="bold">b</text>
<text transform="translate(871.4,3136) scale(0.9,1)" font-size="85.5">)</text>
</g>
</g>
</svg>
</body></html>
